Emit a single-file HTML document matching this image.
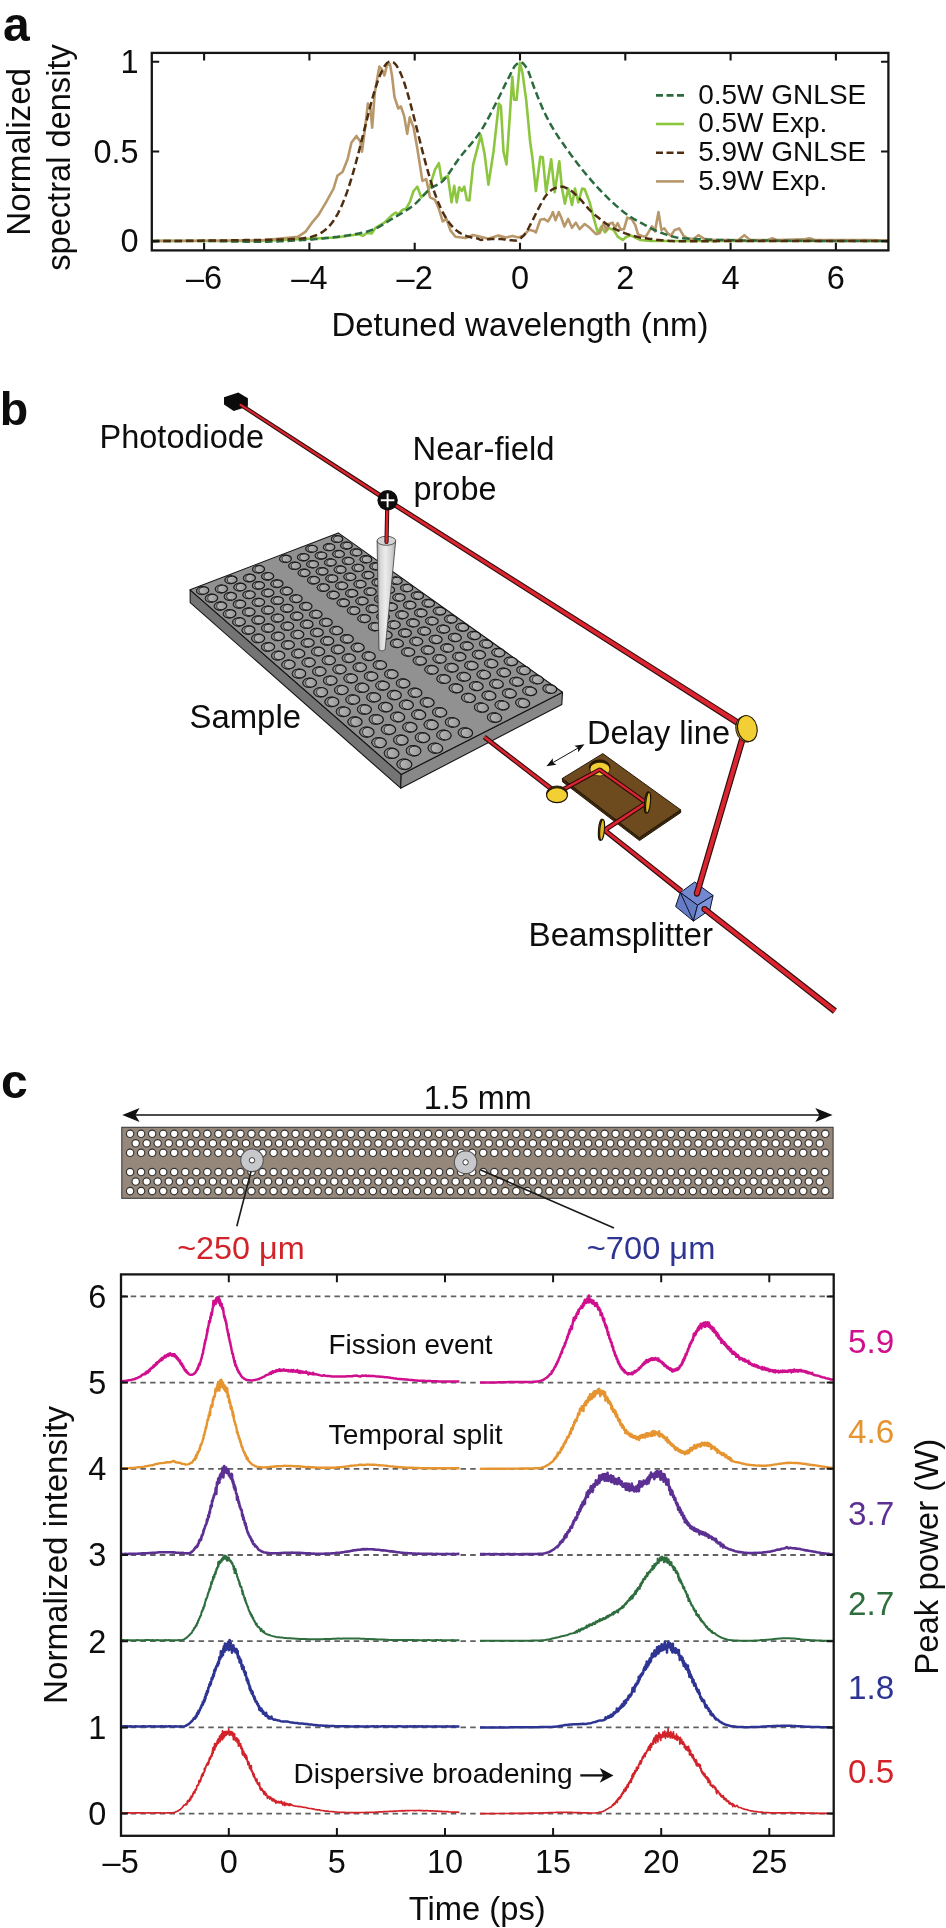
<!DOCTYPE html>
<html lang="en">
<head>
<meta charset="utf-8">
<title>Figure</title>
<style>
html,body{margin:0;padding:0;background:#fff;}
body{width:946px;height:1928px;overflow:hidden;}
svg{display:block;will-change:transform;}
svg text{font-family:"Liberation Sans", sans-serif;}
</style>
</head>
<body>
<svg width="946" height="1928" viewBox="0 0 946 1928">
<rect width="946" height="1928" fill="#fff"/>
<g id="pa">
<g fill="none" stroke-linejoin="round">
<polyline points="152,241 260,241 336.1,237.5 359,234.2 362.8,235.9 366.6,232.9 371.7,233.4 375.5,227.8 384.4,222.7 392,215.1 395.8,212.6 398.3,214.6 402.1,210.1 405.9,208.8 409.7,202.4 413.6,191 417.4,186.7 421.2,197.4 425,193.6 428.8,189.7 435.1,169.4 438.9,163.1 441.5,179.6 447.8,175.8 451.6,202.4 454.2,185.9 456.7,202.4 459.2,187.2 461.8,191 464.3,186.7 466.9,199.9 469.4,200.4 473.2,164.4 480.8,135.2 484.6,154.2 488.4,184.7 493.5,151.7 498.9,103.5 500.9,106 503.5,151.7 506.5,164.4 509.8,116.1 512.3,76.8 514.1,99.6 516.6,99.6 519.9,62.8 522.5,73 526.3,100.9 530.1,141.5 532.6,159.3 535.9,191 540.3,156.8 542.8,157.3 546.1,192.3 551.2,159.3 554.7,192.3 559.3,161.3 561.8,187.2 564.9,203.7 568.2,188.5 572,205 575,188.5 578.3,202.4 582.1,188.5 584.7,189.2 589.7,202.4 593.6,217.7 597.9,232.9 601.2,226.5 605,232.4 608.8,227.8 613.9,230.4 617.7,236.7 622.7,240 626.5,236.7 630.4,235.4 635.4,237.5 640.5,240 650.7,241 680.1,241 888,241" stroke="#8cc63f" stroke-width="2.6"/>
<polyline points="152,240.9 200,240.8 240,240.5 260,240.5 298.1,236.7 305.7,231.6 312,222.7 318.4,215.1 326,202.4 333.6,188.5 337.4,175.8 342.5,172 347.6,159.3 351.4,142.8 356.4,135.9 360.3,141.5 362,151.7 365.3,126.3 367.9,103.5 370.4,108.5 372.2,127.6 374.7,93.3 379.3,66.6 381.8,69.2 384.4,75.5 386.9,65.4 389.9,64.1 392,75.5 394.5,97.1 398.3,108.5 400.9,106.5 404.2,116.1 407.2,133.9 409.7,117.4 413.6,127.6 417.4,149.1 422.4,180.9 426.2,179.1 430.1,197.4 435.1,199.9 438.9,208.8 442.7,221.5 446.5,218.9 450.4,230.4 455.4,236.7 465.4,238 473,234.9 480.6,236.7 488.2,238.7 498.4,235.4 506,237.5 512.3,235.9 518.7,237.5 523.8,235.4 528.8,229.8 533.9,230.9 535.9,232.4 540.3,219.7 544.1,218.9 547.9,221.5 551.7,215.1 552.9,212.1 555.5,220.2 558.8,212.1 561.3,217.7 564.4,226.5 568.2,218.9 572,227.8 575.8,222.7 579.6,229.1 584.7,224 589.7,227.8 596.1,234.2 599.9,232.9 603.7,222.7 606.2,230.4 608.8,224 612.6,222.7 615.1,227.8 617.7,223.2 620.7,229.8 624,229.1 627.3,217.7 631.6,218.9 635.4,225.3 638,234.2 641.8,235.9 645.6,236.7 648.1,232.9 652,226.4 654.9,231.4 658.5,212.1 661.4,229.9 664.4,228.4 667.4,232.9 670.9,235.8 674.7,229.9 679.2,228.4 683.6,235.8 688.1,238.8 694,238.8 698.4,235.2 704.3,238.8 714.7,240 738.4,240 744.3,235.2 750.2,240 768,240 772.4,238.2 776.9,240 803.5,239.4 809.4,238.2 815.3,240 871.6,240 888,240.9" stroke="#b8976b" stroke-width="2.6"/>
<polyline points="152,241.1 153.5,241.1 155,241.1 156.5,241.1 158,241.1 159.5,241.1 161,241.1 162.5,241 164,241 165.5,241 167,241 168.5,241 170,241 171.5,241 173,241 174.5,241 176,241 177.5,241 179,241 180.5,241 182,241 183.5,241 185,241 186.5,241 188,241 189.5,241 191,241 192.5,241 194,241 195.5,241 197,241 198.5,241 200,241 201.5,241 203,241 204.5,241 206,241 207.5,241 209,241 210.5,241.1 212,241.1 213.5,241.1 215,241.1 216.5,241.1 218,241.2 219.5,241.2 221,241.2 222.5,241.2 224,241.3 225.5,241.3 227,241.3 228.5,241.4 230,241.4 231.5,241.4 233,241.4 234.5,241.5 236,241.5 237.5,241.5 239,241.6 240.5,241.6 242,241.6 243.5,241.6 245,241.7 246.5,241.7 248,241.7 249.5,241.7 251,241.7 252.5,241.7 254,241.8 255.5,241.8 257,241.8 258.5,241.8 260,241.8 261.5,241.8 263,241.8 264.5,241.7 266,241.7 267.5,241.7 269,241.7 270.5,241.6 272,241.6 273.5,241.5 275,241.5 276.5,241.4 278,241.4 279.5,241.3 281,241.3 282.5,241.2 284,241.1 285.5,241 287,241 288.5,240.9 290,240.8 291.5,240.7 293,240.6 294.5,240.5 296,240.4 297.5,240.3 299,240.3 300.5,240.2 302,240.1 303.5,240 305,239.9 306.5,239.8 308,239.7 309.5,239.6 311,239.5 312.5,239.4 314,239.3 315.5,239.1 317,239 318.5,238.9 320,238.7 321.5,238.6 323,238.5 324.5,238.3 326,238.1 327.5,238 329,237.8 330.5,237.6 332,237.5 333.5,237.3 335,237.1 336.5,236.9 338,236.7 339.5,236.5 341,236.3 342.5,236.1 344,235.9 345.5,235.7 347,235.5 348.5,235.3 350,235 351.5,234.8 353,234.5 354.5,234.3 356,234 357.5,233.7 359,233.4 360.5,233.1 362,232.8 363.5,232.4 365,232.1 366.5,231.7 368,231.2 369.5,230.8 371,230.3 372.5,229.7 374,229.2 375.5,228.6 377,227.9 378.5,227.1 380,226.3 381.5,225.4 383,224.5 384.5,223.6 386,222.7 387.5,221.7 389,220.8 390.5,219.8 392,218.9 393.5,218 395,217.2 396.5,216.3 398,215.4 399.5,214.5 401,213.7 402.5,212.8 404,211.8 405.5,210.9 407,209.9 408.5,208.9 410,207.9 411.5,206.8 413,205.7 414.5,204.4 416,203.1 417.5,201.6 419,200.1 420.5,198.5 422,196.9 423.5,195.3 425,193.8 426.5,192.3 428,190.8 429.5,189.5 431,188.3 432.5,187.3 434,186.4 435.5,185.7 437,185 438.5,184.3 440,183.4 441.5,182.2 443,180.8 444.5,179.2 446,177.3 447.5,175.4 449,173.2 450.5,171.1 452,168.8 453.5,166.5 455,164.3 456.5,162 458,159.9 459.5,157.8 461,155.9 462.5,154 464,152.2 465.5,150.4 467,148.7 468.5,146.9 470,145.2 471.5,143.4 473,141.6 474.5,139.7 476,137.8 477.5,135.8 479,133.7 480.5,131.5 482,129.2 483.5,126.7 485,124.1 486.5,121.4 488,118.6 489.5,115.8 491,112.9 492.5,109.9 494,107 495.5,104.1 497,101.2 498.5,98.2 500,95.2 501.5,92.1 503,89 504.5,85.9 506,82.9 507.5,80 509,77.2 510.5,74.1 512,71 513.5,68.1 515,65.8 516.5,64.3 518,63.2 519.5,62.3 521,62.1 522.5,62.8 524,64.4 525.5,66.3 527,68.5 528.5,71.7 530,75.8 531.5,80.2 533,84.5 534.5,88.5 536,92.3 537.5,96.2 539,100 540.5,103.6 542,107.1 543.5,110.3 545,113.5 546.5,116.6 548,119.5 549.5,122.4 551,125.1 552.5,127.7 554,130.2 555.5,132.6 557,134.9 558.5,137.2 560,139.4 561.5,141.5 563,143.6 564.5,145.8 566,147.9 567.5,150 569,152.1 570.5,154.2 572,156.2 573.5,158.2 575,160.3 576.5,162.2 578,164.2 579.5,166.1 581,168 582.5,169.9 584,171.8 585.5,173.6 587,175.4 588.5,177.2 590,178.9 591.5,180.7 593,182.4 594.5,184.1 596,185.7 597.5,187.4 599,189 600.5,190.5 602,192.1 603.5,193.7 605,195.2 606.5,196.7 608,198.1 609.5,199.6 611,201 612.5,202.4 614,203.7 615.5,205.1 617,206.4 618.5,207.7 620,209 621.5,210.3 623,211.5 624.5,212.7 626,213.8 627.5,214.9 629,215.9 630.5,216.9 632,217.8 633.5,218.7 635,219.6 636.5,220.5 638,221.3 639.5,222.1 641,222.9 642.5,223.7 644,224.5 645.5,225.3 647,226.2 648.5,227 650,227.8 651.5,228.6 653,229.3 654.5,230 656,230.7 657.5,231.3 659,231.9 660.5,232.5 662,233 663.5,233.6 665,234.1 666.5,234.7 668,235.2 669.5,235.7 671,236.1 672.5,236.5 674,236.9 675.5,237.3 677,237.6 678.5,237.8 680,238 681.5,238.1 683,238.2 684.5,238.4 686,238.5 687.5,238.6 689,238.7 690.5,238.8 692,238.9 693.5,239 695,239.1 696.5,239.2 698,239.3 699.5,239.3 701,239.4 702.5,239.5 704,239.5 705.5,239.6 707,239.7 708.5,239.7 710,239.8 711.5,239.8 713,239.8 714.5,239.9 716,239.9 717.5,240 719,240 720.5,240 722,240 723.5,240.1 725,240.1 726.5,240.1 728,240.1 729.5,240.2 731,240.2 732.5,240.2 734,240.2 735.5,240.3 737,240.3 738.5,240.3 740,240.3 741.5,240.3 743,240.4 744.5,240.4 746,240.4 747.5,240.4 749,240.4 750.5,240.4 752,240.5 753.5,240.5 755,240.5 756.5,240.5 758,240.5 759.5,240.5 761,240.6 762.5,240.6 764,240.6 765.5,240.6 767,240.6 768.5,240.6 770,240.6 771.5,240.6 773,240.7 774.5,240.7 776,240.7 777.5,240.7 779,240.7 780.5,240.7 782,240.7 783.5,240.7 785,240.7 786.5,240.7 788,240.7 789.5,240.8 791,240.8 792.5,240.8 794,240.8 795.5,240.8 797,240.8 798.5,240.8 800,240.8 801.5,240.8 803,240.8 804.5,240.8 806,240.8 807.5,240.8 809,240.8 810.5,240.8 812,240.8 813.5,240.8 815,240.9 816.5,240.9 818,240.9 819.5,240.9 821,240.9 822.5,240.9 824,240.9 825.5,240.9 827,240.9 828.5,240.9 830,240.9 831.5,240.9 833,240.9 834.5,240.9 836,240.9 837.5,240.9 839,240.9 840.5,240.9 842,240.9 843.5,240.9 845,240.9 846.5,240.9 848,241 849.5,241 851,241 852.5,241 854,241 855.5,241 857,241 858.5,241 860,241 861.5,241 863,241 864.5,241 866,241 867.5,241 869,241 870.5,241 872,241 873.5,241 875,241 876.5,241 878,241 879.5,241 881,241 882.5,241 884,241 885.5,241 887,241 888,241" stroke="#2c6b3f" stroke-width="2.5" stroke-dasharray="7.5 3.8"/>
<polyline points="152,241.2 153.5,241.2 155,241.2 156.5,241.1 158,241.1 159.5,241.1 161,241.1 162.5,241.1 164,241.1 165.5,241 167,241 168.5,241 170,241 171.5,241 173,241 174.5,240.9 176,240.9 177.5,240.9 179,240.9 180.5,240.9 182,240.9 183.5,240.9 185,240.8 186.5,240.8 188,240.8 189.5,240.8 191,240.8 192.5,240.8 194,240.7 195.5,240.7 197,240.7 198.5,240.7 200,240.7 201.5,240.7 203,240.6 204.5,240.6 206,240.6 207.5,240.6 209,240.6 210.5,240.6 212,240.5 213.5,240.5 215,240.5 216.5,240.5 218,240.5 219.5,240.4 221,240.4 222.5,240.4 224,240.4 225.5,240.4 227,240.4 228.5,240.3 230,240.3 231.5,240.3 233,240.3 234.5,240.3 236,240.3 237.5,240.2 239,240.2 240.5,240.2 242,240.2 243.5,240.2 245,240.1 246.5,240.1 248,240.1 249.5,240.1 251,240 252.5,240 254,240 255.5,240 257,240 258.5,239.9 260,239.9 261.5,239.9 263,239.8 264.5,239.8 266,239.8 267.5,239.8 269,239.7 270.5,239.7 272,239.7 273.5,239.6 275,239.6 276.5,239.6 278,239.5 279.5,239.5 281,239.4 282.5,239.4 284,239.3 285.5,239.3 287,239.3 288.5,239.2 290,239.2 291.5,239.1 293,239.1 294.5,239 296,238.9 297.5,238.8 299,238.7 300.5,238.6 302,238.4 303.5,238.2 305,238 306.5,237.8 308,237.5 309.5,237.2 311,236.9 312.5,236.5 314,236 315.5,235.5 317,234.9 318.5,234.2 320,233.5 321.5,232.6 323,231.6 324.5,230.5 326,229.3 327.5,227.9 329,226.4 330.5,224.7 332,222.8 333.5,220.7 335,218.4 336.5,216 338,213.3 339.5,210.3 341,207.2 342.5,203.8 344,200.1 345.5,196.2 347,192.1 348.5,187.7 350,183 351.5,178.2 353,173.1 354.5,167.8 356,162.4 357.5,156.7 359,151 360.5,145.1 362,139.1 363.5,133.1 365,127.1 366.5,121.1 368,115.2 369.5,109.3 371,103.7 372.5,98.2 374,92.9 375.5,88 377,83.3 378.5,79 380,75.2 381.5,71.7 383,68.7 384.5,66.2 386,64.2 387.5,62.7 389,61.8 390.5,61.5 392,61.7 393.5,62.4 395,63.7 396.5,65.6 398,67.9 399.5,70.8 401,74.1 402.5,77.9 404,82 405.5,86.6 407,91.5 408.5,96.6 410,102.1 411.5,107.7 413,113.5 414.5,119.4 416,125.4 417.5,131.4 419,137.5 420.5,143.4 422,149.4 423.5,155.2 425,160.9 426.5,166.4 428,171.7 429.5,176.9 431,181.8 432.5,186.5 434,191 435.5,195.3 437,199.2 438.5,203 440,206.5 441.5,209.7 443,212.7 444.5,215.5 446,218 447.5,220.4 449,222.5 450.5,224.4 452,226.2 453.5,227.8 455,229.2 456.5,230.5 458,231.6 459.5,232.6 461,233.5 462.5,234.3 464,235 465.5,235.6 467,236.2 468.5,236.7 470,237.1 471.5,237.4 473,237.7 474.5,238 476,238.2 477.5,238.4 480.6,240 482.1,239.8 483.6,239.7 485.1,239.5 486.6,239.4 488.1,239.3 489.6,239.2 491.1,239.1 492.6,239.1 494.1,239 495.6,239 497.1,239 498.6,239 500.1,239 501.6,239.1 503.1,239.3 504.6,239.4 506.1,239.6 507.6,239.8 509.1,240 510.6,240.2 512.1,240.3 513.6,240.4 515.1,240.5 516.6,240.5 518.1,240 519.6,239.1 521.1,237.9 522.6,236.5 524.1,235.1 525.6,233.2 527.1,230.7 528.6,228 530.1,225.1 531.6,222.3 533.1,219.4 534.6,216.3 536.1,213.2 537.6,210.1 539.1,207.3 540.6,204.5 542.1,201.7 543.6,199.1 545.1,196.7 546.6,194.8 548.1,193.2 549.6,191.7 551.1,190.3 552.6,189.3 554.1,188.5 555.6,188 557.1,187.5 558.6,187.1 560.1,186.8 561.6,186.7 563.1,186.8 564.6,187.3 566.1,187.9 567.6,188.7 569.1,189.6 570.6,190.4 572.1,191.5 573.6,192.8 575.1,194.2 576.6,195.6 578.1,197.1 579.6,198.6 581.1,200.2 582.6,201.9 584.1,203.7 585.6,205.5 587.1,207.2 588.6,208.9 590.1,210.4 591.6,211.8 593.1,213.2 594.6,214.6 596.1,215.9 597.6,217.1 599.1,218.3 600.6,219.5 602.1,220.7 603.6,221.8 605.1,222.9 606.6,224 608.1,225.1 609.6,226.1 611.1,227 612.6,227.8 614.1,228.6 615.6,229.3 617.1,230 618.6,230.7 620.1,231.4 621.6,232 623.1,232.5 624.6,233.1 626.1,233.6 627.6,234.1 629.1,234.6 630.6,235 632.1,235.5 633.6,235.9 635.1,236.3 636.6,236.7 638.1,237 639.6,237.4 641.1,237.7 642.6,237.9 644.1,238.1 645.6,238.3 647.1,238.5 648.6,238.7 650.1,238.9 651.6,239.1 653.1,239.3 654.6,239.5 656.1,239.7 657.6,239.9 659.1,240 660.6,240.2 662.1,240.3 663.6,240.5 665.1,240.6 666.6,240.7 668.1,240.8 669.6,240.9 671.1,241 672.6,241.1 674.1,241.2 675.6,241.2 677.1,241.2 678.6,241.3 680.1,241.3 681.6,241.3 683.1,241.3 684.6,241.3 686.1,241.3 687.6,241.3 689.1,241.3 690.6,241.3 692.1,241.3 693.6,241.2 695.1,241.2 696.6,241.2 698.1,241.2 699.6,241.2 701.1,241.2 702.6,241.2 704.1,241.2 705.6,241.2 707.1,241.2 708.6,241.2 710.1,241.2 711.6,241.2 713.1,241.2 714.6,241.2 716.1,241.2 717.6,241.1 719.1,241.1 720.6,241.1 722.1,241.1 723.6,241.1 725.1,241.1 726.6,241.1 728.1,241.1 729.6,241.1 731.1,241.1 732.6,241.1 734.1,241.1 735.6,241.1 737.1,241.1 738.6,241 740.1,241 741.6,241 743.1,241 744.6,241 746.1,241 747.6,241 749.1,241 750.6,241 752.1,241 753.6,241 755.1,241 756.6,241 758.1,241 759.6,241 761.1,241 762.6,241 764.1,241 765.6,241 767.1,241 768.6,241 770.1,241 771.6,241 773.1,241 774.6,241 776.1,241 777.6,241 779.1,241 780.6,241 782.1,241 783.6,241 785.1,241 786.6,241 788.1,241 789.6,241 791.1,241 792.6,241 794.1,241 795.6,241 797.1,241 798.6,241 800.1,241 801.6,241 803.1,241 804.6,241 806.1,241 807.6,241 809.1,241 810.6,241 812.1,241 813.6,241 815.1,241 816.6,241 818.1,241 819.6,241 821.1,241 822.6,241 824.1,241 825.6,241 827.1,241 828.6,241 830.1,241 831.6,241 833.1,241 834.6,241 836.1,241 837.6,241 839.1,241 840.6,241 842.1,241 843.6,241 845.1,241 846.6,241 848.1,241 849.6,241 851.1,241 852.6,241 854.1,241 855.6,241 857.1,241 858.6,241 860.1,241 861.6,241.1 863.1,241.1 864.6,241.1 866.1,241.1 867.6,241.1 869.1,241.1 870.6,241.1 872.1,241.1 873.6,241.1 875.1,241.1 876.6,241.1 878.1,241.1 879.6,241.1 881.1,241.1 882.6,241.1 884.1,241.1 885.6,241.1 887.1,241.1 888,241.1" stroke="#4f2d10" stroke-width="2.5" stroke-dasharray="7.5 3.8"/>
</g>
<g stroke="#151515" stroke-width="2.3" fill="none">
<rect x="151.8" y="52.9" width="736.6" height="197.5"/>
<path d="M204.1 52.9v7.6M204.1 250.4v-7.6M309.4 52.9v7.6M309.4 250.4v-7.6M414.7 52.9v7.6M414.7 250.4v-7.6M520 52.9v7.6M520 250.4v-7.6M625.3 52.9v7.6M625.3 250.4v-7.6M730.6 52.9v7.6M730.6 250.4v-7.6M835.9 52.9v7.6M835.9 250.4v-7.6M151.8 241.2h7.4M888.4 241.2h-7.4M151.8 151.5h7.4M888.4 151.5h-7.4M151.8 61.8h7.4M888.4 61.8h-7.4" stroke-width="2.1"/>
</g>
<text x="204.1" y="288.8" font-size="32.5" fill="#0d0d0d" text-anchor="middle">–6</text>
<text x="309.4" y="288.8" font-size="32.5" fill="#0d0d0d" text-anchor="middle">–4</text>
<text x="414.7" y="288.8" font-size="32.5" fill="#0d0d0d" text-anchor="middle">–2</text>
<text x="520" y="288.8" font-size="32.5" fill="#0d0d0d" text-anchor="middle">0</text>
<text x="625.3" y="288.8" font-size="32.5" fill="#0d0d0d" text-anchor="middle">2</text>
<text x="730.6" y="288.8" font-size="32.5" fill="#0d0d0d" text-anchor="middle">4</text>
<text x="835.9" y="288.8" font-size="32.5" fill="#0d0d0d" text-anchor="middle">6</text>
<text x="138.7" y="252.3" font-size="32.5" fill="#0d0d0d" text-anchor="end">0</text>
<text x="138.7" y="162.6" font-size="32.5" fill="#0d0d0d" text-anchor="end">0.5</text>
<text x="138.7" y="72.9" font-size="32.5" fill="#0d0d0d" text-anchor="end">1</text>
<text x="520" y="336" font-size="32.5" fill="#0d0d0d" text-anchor="middle" textLength="377" lengthAdjust="spacingAndGlyphs">Detuned wavelength (nm)</text>
<text x="30" y="151.8" font-size="33.2" fill="#0d0d0d" text-anchor="middle" transform="rotate(-90 30 151.8)" textLength="167.7" lengthAdjust="spacingAndGlyphs">Normalized</text>
<text x="69.5" y="157.5" font-size="32.3" fill="#0d0d0d" text-anchor="middle" transform="rotate(-90 69.5 157.5)" textLength="226.5" lengthAdjust="spacingAndGlyphs">spectral density</text>
<path d="M656 95.4H684" stroke="#2c6b3f" stroke-width="2.6" stroke-dasharray="7 3.5"/>
<text x="698.2" y="103.6" font-size="28" fill="#0d0d0d">0.5W GNLSE</text>
<path d="M656 124H684" stroke="#8cc63f" stroke-width="2.6"/>
<text x="698.2" y="132.2" font-size="28" fill="#0d0d0d">0.5W Exp.</text>
<path d="M656 152.7H684" stroke="#4f2d10" stroke-width="2.6" stroke-dasharray="7 3.5"/>
<text x="698.2" y="160.9" font-size="28" fill="#0d0d0d">5.9W GNLSE</text>
<path d="M656 181.4H684" stroke="#b8976b" stroke-width="2.6"/>
<text x="698.2" y="189.6" font-size="28" fill="#0d0d0d">5.9W Exp.</text>
<text x="3" y="40.5" font-size="48" fill="#0d0d0d" font-weight="bold">a</text>
</g>
<g id="pb">
<defs>
<linearGradient id="hg" x1="0" y1="0" x2="1" y2="0"><stop offset="0.2" stop-color="#b6b6b6"/><stop offset="0.6" stop-color="#a7a7a7"/><stop offset="1" stop-color="#929292"/></linearGradient>
<linearGradient id="pg" x1="0" y1="0" x2="1" y2="0"><stop offset="0" stop-color="#a9a9a9"/><stop offset="0.18" stop-color="#d6d6d6"/><stop offset="0.45" stop-color="#ececec"/><stop offset="0.8" stop-color="#cfcfcf"/><stop offset="1" stop-color="#a5a5a5"/></linearGradient>
<g id="hl"><circle r="1" fill="url(#hg)" stroke="#161616" stroke-width="1.2" vector-effect="non-scaling-stroke"/><path d="M0.2 -0.98A1 1 0 1 0 0.2 0.98A1 1 0 0 1 0.2 -0.98Z" fill="#8d8d8d" stroke="#161616" stroke-width="0.8" vector-effect="non-scaling-stroke" stroke-linejoin="round"/></g>
</defs>
<g stroke="#141414" stroke-width="1.1" stroke-linejoin="round">
<polygon points="190.1,589.8 401.2,774.4 400.7,788.2 190.2,602.6" fill="#747474"/>
<polygon points="401.2,774.4 562.5,692.3 561.8,704.4 400.7,788.2" fill="#888888"/>
<polygon points="190.1,589.8 338.3,532.9 562.5,692.3 401.2,774.4" fill="#919191"/>
</g>
<use href="#hl" transform="matrix(6.13 -0.43 0.27 3.92 202.7 590.6)"/>
<use href="#hl" transform="matrix(6.18 -0.41 0.26 3.98 211.5 598.2)"/>
<use href="#hl" transform="matrix(6.24 -0.39 0.25 4.04 220.5 606.0)"/>
<use href="#hl" transform="matrix(6.29 -0.37 0.24 4.10 229.6 613.8)"/>
<use href="#hl" transform="matrix(6.35 -0.34 0.23 4.16 239.0 621.9)"/>
<use href="#hl" transform="matrix(6.41 -0.32 0.21 4.22 248.5 630.1)"/>
<use href="#hl" transform="matrix(6.47 -0.29 0.19 4.28 258.2 638.4)"/>
<use href="#hl" transform="matrix(6.54 -0.26 0.17 4.34 268.1 646.9)"/>
<use href="#hl" transform="matrix(6.60 -0.22 0.15 4.41 278.2 655.6)"/>
<use href="#hl" transform="matrix(6.67 -0.18 0.12 4.48 288.5 664.5)"/>
<use href="#hl" transform="matrix(6.74 -0.14 0.10 4.55 299.0 673.6)"/>
<use href="#hl" transform="matrix(6.81 -0.10 0.07 4.61 309.7 682.8)"/>
<use href="#hl" transform="matrix(6.88 -0.05 0.03 4.69 320.7 692.2)"/>
<use href="#hl" transform="matrix(6.95 0.01 -0.01 4.76 331.9 701.9)"/>
<use href="#hl" transform="matrix(7.02 0.07 -0.05 4.83 343.3 711.7)"/>
<use href="#hl" transform="matrix(7.10 0.14 -0.09 4.91 355.0 721.8)"/>
<use href="#hl" transform="matrix(7.18 0.21 -0.15 4.98 366.9 732.1)"/>
<use href="#hl" transform="matrix(7.26 0.29 -0.20 5.06 379.1 742.6)"/>
<use href="#hl" transform="matrix(7.34 0.38 -0.26 5.14 391.6 753.3)"/>
<use href="#hl" transform="matrix(7.43 0.47 -0.33 5.21 404.4 764.3)"/>
<use href="#hl" transform="matrix(6.11 -0.36 0.23 3.90 221.4 588.9)"/>
<use href="#hl" transform="matrix(6.16 -0.34 0.22 3.96 230.4 596.4)"/>
<use href="#hl" transform="matrix(6.22 -0.32 0.21 4.02 239.5 604.1)"/>
<use href="#hl" transform="matrix(6.27 -0.30 0.19 4.07 248.8 612.0)"/>
<use href="#hl" transform="matrix(6.33 -0.27 0.18 4.13 258.3 620.0)"/>
<use href="#hl" transform="matrix(6.39 -0.24 0.16 4.19 268.0 628.1)"/>
<use href="#hl" transform="matrix(6.46 -0.21 0.14 4.25 277.9 636.4)"/>
<use href="#hl" transform="matrix(6.52 -0.17 0.12 4.32 287.9 644.9)"/>
<use href="#hl" transform="matrix(6.58 -0.14 0.09 4.38 298.2 653.6)"/>
<use href="#hl" transform="matrix(6.65 -0.09 0.06 4.45 308.7 662.4)"/>
<use href="#hl" transform="matrix(6.72 -0.05 0.03 4.51 319.4 671.4)"/>
<use href="#hl" transform="matrix(6.79 0.00 -0.00 4.58 330.3 680.6)"/>
<use href="#hl" transform="matrix(6.86 0.06 -0.04 4.65 341.4 690.0)"/>
<use href="#hl" transform="matrix(6.93 0.12 -0.08 4.72 352.8 699.6)"/>
<use href="#hl" transform="matrix(7.01 0.18 -0.12 4.79 364.4 709.4)"/>
<use href="#hl" transform="matrix(7.08 0.25 -0.17 4.86 376.3 719.4)"/>
<use href="#hl" transform="matrix(7.16 0.33 -0.23 4.93 388.5 729.6)"/>
<use href="#hl" transform="matrix(7.24 0.41 -0.29 5.01 400.9 740.1)"/>
<use href="#hl" transform="matrix(7.32 0.51 -0.35 5.08 413.6 750.8)"/>
<use href="#hl" transform="matrix(6.03 -0.32 0.20 3.83 231.0 579.8)"/>
<use href="#hl" transform="matrix(6.09 -0.30 0.19 3.88 240.0 587.1)"/>
<use href="#hl" transform="matrix(6.14 -0.28 0.18 3.94 249.1 594.7)"/>
<use href="#hl" transform="matrix(6.20 -0.25 0.16 3.99 258.4 602.3)"/>
<use href="#hl" transform="matrix(6.26 -0.23 0.15 4.05 267.9 610.1)"/>
<use href="#hl" transform="matrix(6.32 -0.20 0.13 4.11 277.5 618.1)"/>
<use href="#hl" transform="matrix(6.38 -0.16 0.11 4.17 287.4 626.2)"/>
<use href="#hl" transform="matrix(6.44 -0.13 0.08 4.23 297.4 634.5)"/>
<use href="#hl" transform="matrix(6.50 -0.09 0.06 4.29 307.7 642.9)"/>
<use href="#hl" transform="matrix(6.57 -0.05 0.03 4.35 318.1 651.5)"/>
<use href="#hl" transform="matrix(6.63 -0.00 0.00 4.41 328.8 660.3)"/>
<use href="#hl" transform="matrix(6.70 0.04 -0.03 4.48 339.6 669.3)"/>
<use href="#hl" transform="matrix(6.77 0.10 -0.07 4.54 350.7 678.4)"/>
<use href="#hl" transform="matrix(6.84 0.16 -0.11 4.61 362.1 687.8)"/>
<use href="#hl" transform="matrix(6.92 0.22 -0.15 4.68 373.7 697.3)"/>
<use href="#hl" transform="matrix(6.99 0.29 -0.20 4.74 385.5 707.1)"/>
<use href="#hl" transform="matrix(7.07 0.36 -0.25 4.81 397.6 717.0)"/>
<use href="#hl" transform="matrix(7.14 0.45 -0.30 4.88 409.9 727.2)"/>
<use href="#hl" transform="matrix(7.23 0.53 -0.37 4.95 422.5 737.6)"/>
<use href="#hl" transform="matrix(7.31 0.63 -0.43 5.02 435.4 748.2)"/>
<use href="#hl" transform="matrix(6.02 -0.26 0.16 3.81 249.4 578.0)"/>
<use href="#hl" transform="matrix(6.07 -0.24 0.15 3.86 258.5 585.4)"/>
<use href="#hl" transform="matrix(6.13 -0.21 0.14 3.91 267.8 592.9)"/>
<use href="#hl" transform="matrix(6.18 -0.18 0.12 3.97 277.3 600.5)"/>
<use href="#hl" transform="matrix(6.24 -0.16 0.10 4.02 286.9 608.3)"/>
<use href="#hl" transform="matrix(6.30 -0.12 0.08 4.08 296.7 616.2)"/>
<use href="#hl" transform="matrix(6.36 -0.09 0.06 4.14 306.7 624.3)"/>
<use href="#hl" transform="matrix(6.42 -0.05 0.03 4.20 316.9 632.5)"/>
<use href="#hl" transform="matrix(6.49 -0.01 0.01 4.26 327.3 640.9)"/>
<use href="#hl" transform="matrix(6.55 0.03 -0.02 4.32 337.9 649.5)"/>
<use href="#hl" transform="matrix(6.62 0.08 -0.05 4.38 348.8 658.2)"/>
<use href="#hl" transform="matrix(6.69 0.14 -0.09 4.44 359.8 667.2)"/>
<use href="#hl" transform="matrix(6.75 0.19 -0.13 4.50 371.1 676.3)"/>
<use href="#hl" transform="matrix(6.83 0.25 -0.17 4.57 382.6 685.6)"/>
<use href="#hl" transform="matrix(6.90 0.32 -0.22 4.63 394.4 695.1)"/>
<use href="#hl" transform="matrix(6.97 0.39 -0.26 4.70 406.4 704.8)"/>
<use href="#hl" transform="matrix(7.05 0.47 -0.32 4.76 418.7 714.7)"/>
<use href="#hl" transform="matrix(7.13 0.56 -0.38 4.83 431.2 724.8)"/>
<use href="#hl" transform="matrix(7.21 0.65 -0.44 4.90 444.0 735.1)"/>
<use href="#hl" transform="matrix(5.95 -0.22 0.14 3.74 258.6 569.2)"/>
<use href="#hl" transform="matrix(6.00 -0.20 0.13 3.79 267.7 576.3)"/>
<use href="#hl" transform="matrix(6.05 -0.17 0.11 3.84 277.0 583.7)"/>
<use href="#hl" transform="matrix(6.11 -0.15 0.09 3.89 286.4 591.1)"/>
<use href="#hl" transform="matrix(6.17 -0.12 0.08 3.94 296.0 598.7)"/>
<use href="#hl" transform="matrix(6.22 -0.09 0.06 4.00 305.8 606.4)"/>
<use href="#hl" transform="matrix(6.28 -0.05 0.03 4.05 315.8 614.3)"/>
<use href="#hl" transform="matrix(6.34 -0.01 0.01 4.11 325.9 622.4)"/>
<use href="#hl" transform="matrix(6.41 0.03 -0.02 4.16 336.3 630.6)"/>
<use href="#hl" transform="matrix(6.47 0.07 -0.05 4.22 346.9 638.9)"/>
<use href="#hl" transform="matrix(6.54 0.12 -0.08 4.28 357.7 647.5)"/>
<use href="#hl" transform="matrix(6.60 0.17 -0.11 4.34 368.7 656.2)"/>
<use href="#hl" transform="matrix(6.67 0.22 -0.15 4.40 379.9 665.0)"/>
<use href="#hl" transform="matrix(6.74 0.28 -0.19 4.46 391.4 674.1)"/>
<use href="#hl" transform="matrix(6.81 0.35 -0.23 4.52 403.1 683.4)"/>
<use href="#hl" transform="matrix(6.88 0.42 -0.28 4.59 415.0 692.8)"/>
<use href="#hl" transform="matrix(6.96 0.49 -0.33 4.65 427.2 702.4)"/>
<use href="#hl" transform="matrix(7.04 0.58 -0.39 4.71 439.7 712.3)"/>
<use href="#hl" transform="matrix(7.11 0.66 -0.44 4.77 452.4 722.4)"/>
<use href="#hl" transform="matrix(7.19 0.76 -0.51 4.84 465.4 732.7)"/>
<use href="#hl" transform="matrix(5.86 -0.13 0.08 3.64 285.5 558.8)"/>
<use href="#hl" transform="matrix(5.92 -0.11 0.07 3.69 294.7 565.8)"/>
<use href="#hl" transform="matrix(5.97 -0.08 0.05 3.74 304.1 572.9)"/>
<use href="#hl" transform="matrix(6.02 -0.05 0.03 3.79 313.6 580.2)"/>
<use href="#hl" transform="matrix(6.08 -0.02 0.01 3.84 323.3 587.6)"/>
<use href="#hl" transform="matrix(6.14 0.01 -0.01 3.89 333.2 595.1)"/>
<use href="#hl" transform="matrix(6.19 0.05 -0.03 3.94 343.3 602.8)"/>
<use href="#hl" transform="matrix(6.25 0.09 -0.06 3.99 353.6 610.6)"/>
<use href="#hl" transform="matrix(6.32 0.13 -0.08 4.04 364.1 618.6)"/>
<use href="#hl" transform="matrix(6.38 0.18 -0.11 4.10 374.8 626.7)"/>
<use href="#hl" transform="matrix(6.44 0.22 -0.14 4.15 385.7 635.0)"/>
<use href="#hl" transform="matrix(6.51 0.28 -0.18 4.21 396.9 643.4)"/>
<use href="#hl" transform="matrix(6.57 0.33 -0.22 4.26 408.2 652.0)"/>
<use href="#hl" transform="matrix(6.64 0.39 -0.26 4.32 419.8 660.8)"/>
<use href="#hl" transform="matrix(6.71 0.46 -0.30 4.37 431.6 669.8)"/>
<use href="#hl" transform="matrix(6.79 0.53 -0.35 4.43 443.7 679.0)"/>
<use href="#hl" transform="matrix(6.86 0.60 -0.40 4.49 456.0 688.3)"/>
<use href="#hl" transform="matrix(6.93 0.68 -0.45 4.55 468.5 697.9)"/>
<use href="#hl" transform="matrix(7.01 0.77 -0.51 4.60 481.4 707.6)"/>
<use href="#hl" transform="matrix(7.09 0.86 -0.57 4.66 494.5 717.6)"/>
<use href="#hl" transform="matrix(5.85 -0.08 0.05 3.62 303.3 557.2)"/>
<use href="#hl" transform="matrix(5.90 -0.05 0.03 3.67 312.6 564.2)"/>
<use href="#hl" transform="matrix(5.96 -0.02 0.01 3.71 322.1 571.3)"/>
<use href="#hl" transform="matrix(6.01 0.01 -0.01 3.76 331.8 578.5)"/>
<use href="#hl" transform="matrix(6.07 0.04 -0.03 3.81 341.7 585.8)"/>
<use href="#hl" transform="matrix(6.12 0.08 -0.05 3.86 351.7 593.3)"/>
<use href="#hl" transform="matrix(6.18 0.12 -0.07 3.91 362.0 601.0)"/>
<use href="#hl" transform="matrix(6.24 0.16 -0.10 3.96 372.4 608.8)"/>
<use href="#hl" transform="matrix(6.30 0.20 -0.13 4.01 383.1 616.7)"/>
<use href="#hl" transform="matrix(6.37 0.25 -0.16 4.06 393.9 624.8)"/>
<use href="#hl" transform="matrix(6.43 0.30 -0.19 4.11 405.0 633.0)"/>
<use href="#hl" transform="matrix(6.50 0.35 -0.23 4.17 416.3 641.4)"/>
<use href="#hl" transform="matrix(6.56 0.41 -0.27 4.22 427.8 650.0)"/>
<use href="#hl" transform="matrix(6.63 0.47 -0.31 4.27 439.6 658.8)"/>
<use href="#hl" transform="matrix(6.70 0.54 -0.35 4.33 451.6 667.7)"/>
<use href="#hl" transform="matrix(6.77 0.61 -0.40 4.38 463.8 676.8)"/>
<use href="#hl" transform="matrix(6.85 0.69 -0.45 4.44 476.3 686.1)"/>
<use href="#hl" transform="matrix(6.92 0.77 -0.50 4.49 489.0 695.6)"/>
<use href="#hl" transform="matrix(7.00 0.86 -0.56 4.55 502.1 705.3)"/>
<use href="#hl" transform="matrix(5.78 -0.05 0.03 3.55 311.6 548.8)"/>
<use href="#hl" transform="matrix(5.84 -0.02 0.02 3.60 321.0 555.6)"/>
<use href="#hl" transform="matrix(5.89 0.00 -0.00 3.64 330.4 562.5)"/>
<use href="#hl" transform="matrix(5.94 0.03 -0.02 3.69 340.1 569.6)"/>
<use href="#hl" transform="matrix(6.00 0.07 -0.04 3.73 349.9 576.8)"/>
<use href="#hl" transform="matrix(6.05 0.10 -0.06 3.78 360.0 584.1)"/>
<use href="#hl" transform="matrix(6.11 0.14 -0.09 3.83 370.2 591.6)"/>
<use href="#hl" transform="matrix(6.17 0.18 -0.11 3.88 380.6 599.2)"/>
<use href="#hl" transform="matrix(6.23 0.22 -0.14 3.93 391.2 606.9)"/>
<use href="#hl" transform="matrix(6.29 0.27 -0.17 3.98 402.0 614.8)"/>
<use href="#hl" transform="matrix(6.35 0.32 -0.20 4.03 413.0 622.9)"/>
<use href="#hl" transform="matrix(6.42 0.37 -0.24 4.08 424.2 631.1)"/>
<use href="#hl" transform="matrix(6.48 0.43 -0.27 4.13 435.7 639.4)"/>
<use href="#hl" transform="matrix(6.55 0.49 -0.31 4.18 447.3 648.0)"/>
<use href="#hl" transform="matrix(6.62 0.55 -0.35 4.23 459.3 656.7)"/>
<use href="#hl" transform="matrix(6.69 0.62 -0.40 4.28 471.4 665.6)"/>
<use href="#hl" transform="matrix(6.76 0.70 -0.45 4.33 483.8 674.6)"/>
<use href="#hl" transform="matrix(6.84 0.78 -0.50 4.39 496.5 683.9)"/>
<use href="#hl" transform="matrix(6.91 0.86 -0.55 4.44 509.4 693.4)"/>
<use href="#hl" transform="matrix(6.99 0.95 -0.61 4.49 522.7 703.0)"/>
<use href="#hl" transform="matrix(5.77 -0.00 0.00 3.53 329.1 547.2)"/>
<use href="#hl" transform="matrix(5.82 0.03 -0.02 3.57 338.6 554.0)"/>
<use href="#hl" transform="matrix(5.88 0.06 -0.04 3.61 348.2 560.9)"/>
<use href="#hl" transform="matrix(5.93 0.09 -0.06 3.66 358.0 567.9)"/>
<use href="#hl" transform="matrix(5.98 0.12 -0.08 3.70 368.0 575.1)"/>
<use href="#hl" transform="matrix(6.04 0.16 -0.10 3.75 378.1 582.4)"/>
<use href="#hl" transform="matrix(6.10 0.20 -0.13 3.80 388.5 589.8)"/>
<use href="#hl" transform="matrix(6.16 0.24 -0.15 3.84 399.0 597.4)"/>
<use href="#hl" transform="matrix(6.22 0.29 -0.18 3.89 409.8 605.1)"/>
<use href="#hl" transform="matrix(6.28 0.34 -0.21 3.94 420.8 612.9)"/>
<use href="#hl" transform="matrix(6.34 0.39 -0.24 3.99 431.9 621.0)"/>
<use href="#hl" transform="matrix(6.41 0.44 -0.28 4.04 443.3 629.1)"/>
<use href="#hl" transform="matrix(6.47 0.50 -0.32 4.09 454.9 637.5)"/>
<use href="#hl" transform="matrix(6.54 0.56 -0.36 4.14 466.8 646.0)"/>
<use href="#hl" transform="matrix(6.61 0.63 -0.40 4.18 478.9 654.6)"/>
<use href="#hl" transform="matrix(6.68 0.70 -0.44 4.23 491.2 663.5)"/>
<use href="#hl" transform="matrix(6.75 0.78 -0.49 4.28 503.8 672.5)"/>
<use href="#hl" transform="matrix(6.83 0.86 -0.54 4.33 516.6 681.7)"/>
<use href="#hl" transform="matrix(6.90 0.94 -0.60 4.38 529.7 691.1)"/>
<use href="#hl" transform="matrix(5.71 0.02 -0.01 3.46 337.1 539.0)"/>
<use href="#hl" transform="matrix(5.76 0.05 -0.03 3.50 346.5 545.6)"/>
<use href="#hl" transform="matrix(5.81 0.08 -0.05 3.54 356.1 552.4)"/>
<use href="#hl" transform="matrix(5.86 0.11 -0.07 3.59 365.9 559.3)"/>
<use href="#hl" transform="matrix(5.92 0.15 -0.09 3.63 375.8 566.3)"/>
<use href="#hl" transform="matrix(5.97 0.18 -0.11 3.67 385.9 573.4)"/>
<use href="#hl" transform="matrix(6.03 0.22 -0.14 3.72 396.2 580.7)"/>
<use href="#hl" transform="matrix(6.09 0.26 -0.16 3.76 406.7 588.0)"/>
<use href="#hl" transform="matrix(6.15 0.30 -0.19 3.81 417.4 595.6)"/>
<use href="#hl" transform="matrix(6.21 0.35 -0.22 3.86 428.3 603.3)"/>
<use href="#hl" transform="matrix(6.27 0.40 -0.25 3.90 439.5 611.1)"/>
<use href="#hl" transform="matrix(6.33 0.45 -0.28 3.95 450.8 619.1)"/>
<use href="#hl" transform="matrix(6.40 0.51 -0.32 4.00 462.3 627.2)"/>
<use href="#hl" transform="matrix(6.46 0.57 -0.36 4.04 474.1 635.5)"/>
<use href="#hl" transform="matrix(6.53 0.63 -0.40 4.09 486.1 643.9)"/>
<use href="#hl" transform="matrix(6.60 0.70 -0.44 4.14 498.4 652.6)"/>
<use href="#hl" transform="matrix(6.67 0.77 -0.49 4.19 510.9 661.4)"/>
<use href="#hl" transform="matrix(6.75 0.85 -0.53 4.23 523.6 670.4)"/>
<use href="#hl" transform="matrix(6.82 0.93 -0.59 4.28 536.6 679.5)"/>
<use href="#hl" transform="matrix(6.90 1.02 -0.64 4.33 549.9 688.9)"/>
<g fill="#2b0a0a"><polygon points="482.9,738.9 550,791 553.2,787 485.7,735.1"/></g><g fill="#db2530"><polygon points="483.5,738 550.7,790.2 552.5,787.8 485.1,736"/></g>
<polygon points="224,397.3 238.3,392.6 247.9,398.2 247.9,406.6 233.7,410.9 224,404.5" fill="#0b0b0b"/>
<g fill="#2b0a0a"><polygon points="239.5,406.6 386.3,502.4 388.9,498.2 241.7,403"/><polygon points="386.3,502.4 736.7,726 740.3,720.4 388.9,498.2"/><circle cx="240.6" cy="404.8" r="2.10"/><circle cx="387.6" cy="500.3" r="2.45"/></g><g fill="#db2530"><polygon points="240,405.7 386.9,501.4 388.3,499.2 241.2,403.9"/><polygon points="386.9,501.5 737.3,725.1 739.7,721.3 388.3,499.1"/><circle cx="240.6" cy="404.8" r="1.02"/><circle cx="387.6" cy="500.3" r="1.37"/></g>
<path d="M377.1 540.8L378.9 649.6Q382 652.6 385.1 649.6L395.7 540.8Z" fill="url(#pg)" stroke="#3a3a3a" stroke-width="0.8"/>
<ellipse cx="386.4" cy="540.8" rx="9.3" ry="4.5" fill="#d4d4d4" stroke="#3a3a3a" stroke-width="0.8"/>
<path d="M387.3 505 L386.5 542" fill="none" stroke="#2b0a0a" stroke-width="4.2" stroke-linecap="round" stroke-linejoin="round"/><path d="M387.3 505 L386.5 542" fill="none" stroke="#db2530" stroke-width="2.4" stroke-linecap="round" stroke-linejoin="round"/>
<circle cx="387.6" cy="500.3" r="10.2" fill="#0d0d0d"/>
<path d="M380.8 500.3H394.4M387.6 493.4V507.2" stroke="#fff" stroke-width="1.9" fill="none"/>
<polygon points="562.3,778.4 562.5,781.8 639.5,840.6 680.8,812.5 680.6,809.8 639.3,837.7" fill="#3d2608" stroke="#1c1203" stroke-width="0.9" stroke-linejoin="round"/>
<polygon points="562.3,778.4 602.8,753.6 680.6,809.8 639.3,837.7" fill="#6e4b1e" stroke="#1c1203" stroke-width="0.9" stroke-linejoin="round"/>
<ellipse cx="599.7" cy="767.2" rx="10.4" ry="7.3" fill="#2a1a05" stroke="#1c1203" stroke-width="0.9"/>
<ellipse cx="599.9" cy="769.1" rx="10" ry="6.8" fill="#f2cf33" stroke="#1c1203" stroke-width="0.7"/>
<g fill="#2b0a0a"><polygon points="564.1,791.7 600.8,771.5 598.6,767.7 561.9,787.5"/><polygon points="598.4,771.4 644.9,804.7 647.5,800.9 601,767.8"/><polygon points="644.9,800.9 603.1,828.1 605.9,832.3 647.5,804.7"/><polygon points="602.9,832.2 679.5,893.5 683.1,888.9 606.1,828.2"/><circle cx="599.7" cy="769.6" r="2.20"/><circle cx="646.2" cy="802.8" r="2.30"/><circle cx="604.5" cy="830.2" r="2.50"/></g><g fill="#db2530"><polygon points="563.6,790.8 600.2,770.6 599.2,768.6 562.4,788.4"/><polygon points="599,770.5 645.5,803.8 646.9,801.8 600.4,768.7"/><polygon points="645.5,801.8 603.7,829 605.3,831.4 646.9,803.8"/><polygon points="603.6,831.3 680.2,892.6 682.4,889.8 605.4,829.1"/><circle cx="599.7" cy="769.6" r="1.12"/><circle cx="646.2" cy="802.8" r="1.22"/><circle cx="604.5" cy="830.2" r="1.42"/></g>
<ellipse cx="557" cy="793.4" rx="10.4" ry="7.4" fill="#4a3808" stroke="#1c1203" stroke-width="0.9"/>
<ellipse cx="557" cy="795.2" rx="10.4" ry="7.4" fill="#f2cf33" stroke="#1c1203" stroke-width="1.1"/>
<ellipse cx="647.1" cy="802.6" rx="2.6" ry="10.7" transform="rotate(6 647.6 802.6)" fill="#8c6f10" stroke="#1c1203" stroke-width="1.1"/>
<ellipse cx="648.1" cy="802.6" rx="2.3" ry="10.4" transform="rotate(6 647.6 802.6)" fill="#dcb826" stroke="#1c1203" stroke-width="1.1"/>
<ellipse cx="601.1" cy="829.8" rx="2.6" ry="10.7" transform="rotate(5 601.6 829.8)" fill="#8c6f10" stroke="#1c1203" stroke-width="1.1"/>
<ellipse cx="602.1" cy="829.8" rx="2.3" ry="10.4" transform="rotate(5 601.6 829.8)" fill="#dcb826" stroke="#1c1203" stroke-width="1.1"/>
<path d="M552 763.1L579 747.5" stroke="#111" stroke-width="1" fill="none"/>
<polygon points="546.4,766.3 552.8,758.3 552.9,762.5 556.5,764.8" fill="#111"/>
<polygon points="584.5,744.3 578.1,752.3 578.0,748.1 574.4,745.8" fill="#111"/>
<g stroke="#0c1230" stroke-width="1" stroke-linejoin="round">
<polygon points="694.7,882 713.1,895.5 697.6,905.2 680.3,892.6" fill="#7389cf"/>
<polygon points="680.3,892.6 697.6,905.2 693.4,921.1 675.6,906.5" fill="#657cc4"/>
<polygon points="697.6,905.2 713.1,895.5 709.9,909.9 693.4,921.1" fill="#7b93d8"/>
<path d="M680.3 892.6L693.4 921.1" fill="none"/>
</g>
<g fill="#2b0a0a"><polygon points="739.2,738.1 693.9,892.7 699.9,894.5 745.6,739.9"/><circle cx="696.9" cy="893.6" r="3.10"/></g><g fill="#db2530"><polygon points="740.3,738.4 695,893 698.8,894.2 744.5,739.6"/><circle cx="696.9" cy="893.6" r="2.02"/></g>
<g fill="#2b0a0a"><polygon points="702.6,911.4 832.9,1013.7 836.9,1008.5 706.2,906.6"/><circle cx="704.4" cy="909" r="3.00"/></g><g fill="#db2530"><polygon points="703.2,910.5 833.6,1012.8 836.2,1009.4 705.6,907.5"/><circle cx="704.4" cy="909" r="1.92"/></g>
<ellipse cx="745.6" cy="729.2" rx="9.7" ry="13.1" transform="rotate(-13 745.6 729.2)" fill="#b9961c" stroke="#1c1203" stroke-width="0.9"/>
<ellipse cx="747.4" cy="728.5" rx="9.7" ry="13.1" transform="rotate(-13 747.4 728.5)" fill="#f2cf33" stroke="#1c1203" stroke-width="1.1"/>
<text x="-0.3" y="424.9" font-size="46.5" fill="#0d0d0d" font-weight="bold">b</text>
<text x="99.5" y="447.8" font-size="32.5" fill="#0d0d0d" textLength="164.5" lengthAdjust="spacingAndGlyphs">Photodiode</text>
<text x="412.5" y="460" font-size="32.5" fill="#0d0d0d" textLength="142" lengthAdjust="spacingAndGlyphs">Near-field</text>
<text x="413.5" y="500" font-size="32.5" fill="#0d0d0d" textLength="83" lengthAdjust="spacingAndGlyphs">probe</text>
<text x="189.5" y="728.3" font-size="32.5" fill="#0d0d0d" textLength="111.5" lengthAdjust="spacingAndGlyphs">Sample</text>
<text x="587" y="743.6" font-size="32.5" fill="#0d0d0d" textLength="143" lengthAdjust="spacingAndGlyphs">Delay line</text>
<text x="528.5" y="945.9" font-size="32.5" fill="#0d0d0d" textLength="184.5" lengthAdjust="spacingAndGlyphs">Beamsplitter</text>
</g>
<g id="pc">
<text x="0.9" y="1098.1" font-size="48" fill="#0d0d0d" font-weight="bold">c</text>
<rect x="121.8" y="1127.3" width="711.3" height="71" fill="#95877a" stroke="#3c3c3c" stroke-width="1.1"/>
<g fill="#fff" stroke="#303030" stroke-width="1.15"><circle cx="130.1" cy="1133.8" r="3.7"/><circle cx="141.1" cy="1133.8" r="3.7"/><circle cx="152.2" cy="1133.8" r="3.7"/><circle cx="163.2" cy="1133.8" r="3.7"/><circle cx="174.2" cy="1133.8" r="3.7"/><circle cx="185.3" cy="1133.8" r="3.7"/><circle cx="196.3" cy="1133.8" r="3.7"/><circle cx="207.3" cy="1133.8" r="3.7"/><circle cx="218.4" cy="1133.8" r="3.7"/><circle cx="229.4" cy="1133.8" r="3.7"/><circle cx="240.4" cy="1133.8" r="3.7"/><circle cx="251.5" cy="1133.8" r="3.7"/><circle cx="262.5" cy="1133.8" r="3.7"/><circle cx="273.6" cy="1133.8" r="3.7"/><circle cx="284.6" cy="1133.8" r="3.7"/><circle cx="295.6" cy="1133.8" r="3.7"/><circle cx="306.7" cy="1133.8" r="3.7"/><circle cx="317.7" cy="1133.8" r="3.7"/><circle cx="328.7" cy="1133.8" r="3.7"/><circle cx="339.8" cy="1133.8" r="3.7"/><circle cx="350.8" cy="1133.8" r="3.7"/><circle cx="361.8" cy="1133.8" r="3.7"/><circle cx="372.9" cy="1133.8" r="3.7"/><circle cx="383.9" cy="1133.8" r="3.7"/><circle cx="394.9" cy="1133.8" r="3.7"/><circle cx="406" cy="1133.8" r="3.7"/><circle cx="417" cy="1133.8" r="3.7"/><circle cx="428" cy="1133.8" r="3.7"/><circle cx="439.1" cy="1133.8" r="3.7"/><circle cx="450.1" cy="1133.8" r="3.7"/><circle cx="461.1" cy="1133.8" r="3.7"/><circle cx="472.2" cy="1133.8" r="3.7"/><circle cx="483.2" cy="1133.8" r="3.7"/><circle cx="494.3" cy="1133.8" r="3.7"/><circle cx="505.3" cy="1133.8" r="3.7"/><circle cx="516.3" cy="1133.8" r="3.7"/><circle cx="527.4" cy="1133.8" r="3.7"/><circle cx="538.4" cy="1133.8" r="3.7"/><circle cx="549.4" cy="1133.8" r="3.7"/><circle cx="560.5" cy="1133.8" r="3.7"/><circle cx="571.5" cy="1133.8" r="3.7"/><circle cx="582.5" cy="1133.8" r="3.7"/><circle cx="593.6" cy="1133.8" r="3.7"/><circle cx="604.6" cy="1133.8" r="3.7"/><circle cx="615.6" cy="1133.8" r="3.7"/><circle cx="626.7" cy="1133.8" r="3.7"/><circle cx="637.7" cy="1133.8" r="3.7"/><circle cx="648.7" cy="1133.8" r="3.7"/><circle cx="659.8" cy="1133.8" r="3.7"/><circle cx="670.8" cy="1133.8" r="3.7"/><circle cx="681.9" cy="1133.8" r="3.7"/><circle cx="692.9" cy="1133.8" r="3.7"/><circle cx="703.9" cy="1133.8" r="3.7"/><circle cx="715" cy="1133.8" r="3.7"/><circle cx="726" cy="1133.8" r="3.7"/><circle cx="737" cy="1133.8" r="3.7"/><circle cx="748.1" cy="1133.8" r="3.7"/><circle cx="759.1" cy="1133.8" r="3.7"/><circle cx="770.1" cy="1133.8" r="3.7"/><circle cx="781.2" cy="1133.8" r="3.7"/><circle cx="792.2" cy="1133.8" r="3.7"/><circle cx="803.2" cy="1133.8" r="3.7"/><circle cx="814.3" cy="1133.8" r="3.7"/><circle cx="825.3" cy="1133.8" r="3.7"/><circle cx="135.7" cy="1143.3" r="3.7"/><circle cx="146.7" cy="1143.3" r="3.7"/><circle cx="157.7" cy="1143.3" r="3.7"/><circle cx="168.8" cy="1143.3" r="3.7"/><circle cx="179.8" cy="1143.3" r="3.7"/><circle cx="190.8" cy="1143.3" r="3.7"/><circle cx="201.9" cy="1143.3" r="3.7"/><circle cx="212.9" cy="1143.3" r="3.7"/><circle cx="223.9" cy="1143.3" r="3.7"/><circle cx="235" cy="1143.3" r="3.7"/><circle cx="246" cy="1143.3" r="3.7"/><circle cx="257" cy="1143.3" r="3.7"/><circle cx="268.1" cy="1143.3" r="3.7"/><circle cx="279.1" cy="1143.3" r="3.7"/><circle cx="290.1" cy="1143.3" r="3.7"/><circle cx="301.2" cy="1143.3" r="3.7"/><circle cx="312.2" cy="1143.3" r="3.7"/><circle cx="323.2" cy="1143.3" r="3.7"/><circle cx="334.3" cy="1143.3" r="3.7"/><circle cx="345.3" cy="1143.3" r="3.7"/><circle cx="356.4" cy="1143.3" r="3.7"/><circle cx="367.4" cy="1143.3" r="3.7"/><circle cx="378.4" cy="1143.3" r="3.7"/><circle cx="389.5" cy="1143.3" r="3.7"/><circle cx="400.5" cy="1143.3" r="3.7"/><circle cx="411.5" cy="1143.3" r="3.7"/><circle cx="422.6" cy="1143.3" r="3.7"/><circle cx="433.6" cy="1143.3" r="3.7"/><circle cx="444.6" cy="1143.3" r="3.7"/><circle cx="455.7" cy="1143.3" r="3.7"/><circle cx="466.7" cy="1143.3" r="3.7"/><circle cx="477.7" cy="1143.3" r="3.7"/><circle cx="488.8" cy="1143.3" r="3.7"/><circle cx="499.8" cy="1143.3" r="3.7"/><circle cx="510.8" cy="1143.3" r="3.7"/><circle cx="521.9" cy="1143.3" r="3.7"/><circle cx="532.9" cy="1143.3" r="3.7"/><circle cx="543.9" cy="1143.3" r="3.7"/><circle cx="555" cy="1143.3" r="3.7"/><circle cx="566" cy="1143.3" r="3.7"/><circle cx="577" cy="1143.3" r="3.7"/><circle cx="588.1" cy="1143.3" r="3.7"/><circle cx="599.1" cy="1143.3" r="3.7"/><circle cx="610.2" cy="1143.3" r="3.7"/><circle cx="621.2" cy="1143.3" r="3.7"/><circle cx="632.2" cy="1143.3" r="3.7"/><circle cx="643.3" cy="1143.3" r="3.7"/><circle cx="654.3" cy="1143.3" r="3.7"/><circle cx="665.3" cy="1143.3" r="3.7"/><circle cx="676.4" cy="1143.3" r="3.7"/><circle cx="687.4" cy="1143.3" r="3.7"/><circle cx="698.4" cy="1143.3" r="3.7"/><circle cx="709.5" cy="1143.3" r="3.7"/><circle cx="720.5" cy="1143.3" r="3.7"/><circle cx="731.5" cy="1143.3" r="3.7"/><circle cx="742.6" cy="1143.3" r="3.7"/><circle cx="753.6" cy="1143.3" r="3.7"/><circle cx="764.6" cy="1143.3" r="3.7"/><circle cx="775.7" cy="1143.3" r="3.7"/><circle cx="786.7" cy="1143.3" r="3.7"/><circle cx="797.8" cy="1143.3" r="3.7"/><circle cx="808.8" cy="1143.3" r="3.7"/><circle cx="819.8" cy="1143.3" r="3.7"/><circle cx="130.1" cy="1152.8" r="3.7"/><circle cx="141.1" cy="1152.8" r="3.7"/><circle cx="152.2" cy="1152.8" r="3.7"/><circle cx="163.2" cy="1152.8" r="3.7"/><circle cx="174.2" cy="1152.8" r="3.7"/><circle cx="185.3" cy="1152.8" r="3.7"/><circle cx="196.3" cy="1152.8" r="3.7"/><circle cx="207.3" cy="1152.8" r="3.7"/><circle cx="218.4" cy="1152.8" r="3.7"/><circle cx="229.4" cy="1152.8" r="3.7"/><circle cx="240.4" cy="1152.8" r="3.7"/><circle cx="251.5" cy="1152.8" r="3.7"/><circle cx="262.5" cy="1152.8" r="3.7"/><circle cx="273.6" cy="1152.8" r="3.7"/><circle cx="284.6" cy="1152.8" r="3.7"/><circle cx="295.6" cy="1152.8" r="3.7"/><circle cx="306.7" cy="1152.8" r="3.7"/><circle cx="317.7" cy="1152.8" r="3.7"/><circle cx="328.7" cy="1152.8" r="3.7"/><circle cx="339.8" cy="1152.8" r="3.7"/><circle cx="350.8" cy="1152.8" r="3.7"/><circle cx="361.8" cy="1152.8" r="3.7"/><circle cx="372.9" cy="1152.8" r="3.7"/><circle cx="383.9" cy="1152.8" r="3.7"/><circle cx="394.9" cy="1152.8" r="3.7"/><circle cx="406" cy="1152.8" r="3.7"/><circle cx="417" cy="1152.8" r="3.7"/><circle cx="428" cy="1152.8" r="3.7"/><circle cx="439.1" cy="1152.8" r="3.7"/><circle cx="450.1" cy="1152.8" r="3.7"/><circle cx="461.1" cy="1152.8" r="3.7"/><circle cx="472.2" cy="1152.8" r="3.7"/><circle cx="483.2" cy="1152.8" r="3.7"/><circle cx="494.3" cy="1152.8" r="3.7"/><circle cx="505.3" cy="1152.8" r="3.7"/><circle cx="516.3" cy="1152.8" r="3.7"/><circle cx="527.4" cy="1152.8" r="3.7"/><circle cx="538.4" cy="1152.8" r="3.7"/><circle cx="549.4" cy="1152.8" r="3.7"/><circle cx="560.5" cy="1152.8" r="3.7"/><circle cx="571.5" cy="1152.8" r="3.7"/><circle cx="582.5" cy="1152.8" r="3.7"/><circle cx="593.6" cy="1152.8" r="3.7"/><circle cx="604.6" cy="1152.8" r="3.7"/><circle cx="615.6" cy="1152.8" r="3.7"/><circle cx="626.7" cy="1152.8" r="3.7"/><circle cx="637.7" cy="1152.8" r="3.7"/><circle cx="648.7" cy="1152.8" r="3.7"/><circle cx="659.8" cy="1152.8" r="3.7"/><circle cx="670.8" cy="1152.8" r="3.7"/><circle cx="681.9" cy="1152.8" r="3.7"/><circle cx="692.9" cy="1152.8" r="3.7"/><circle cx="703.9" cy="1152.8" r="3.7"/><circle cx="715" cy="1152.8" r="3.7"/><circle cx="726" cy="1152.8" r="3.7"/><circle cx="737" cy="1152.8" r="3.7"/><circle cx="748.1" cy="1152.8" r="3.7"/><circle cx="759.1" cy="1152.8" r="3.7"/><circle cx="770.1" cy="1152.8" r="3.7"/><circle cx="781.2" cy="1152.8" r="3.7"/><circle cx="792.2" cy="1152.8" r="3.7"/><circle cx="803.2" cy="1152.8" r="3.7"/><circle cx="814.3" cy="1152.8" r="3.7"/><circle cx="825.3" cy="1152.8" r="3.7"/><circle cx="130.1" cy="1172" r="3.7"/><circle cx="141.1" cy="1172" r="3.7"/><circle cx="152.2" cy="1172" r="3.7"/><circle cx="163.2" cy="1172" r="3.7"/><circle cx="174.2" cy="1172" r="3.7"/><circle cx="185.3" cy="1172" r="3.7"/><circle cx="196.3" cy="1172" r="3.7"/><circle cx="207.3" cy="1172" r="3.7"/><circle cx="218.4" cy="1172" r="3.7"/><circle cx="229.4" cy="1172" r="3.7"/><circle cx="240.4" cy="1172" r="3.7"/><circle cx="251.5" cy="1172" r="3.7"/><circle cx="262.5" cy="1172" r="3.7"/><circle cx="273.6" cy="1172" r="3.7"/><circle cx="284.6" cy="1172" r="3.7"/><circle cx="295.6" cy="1172" r="3.7"/><circle cx="306.7" cy="1172" r="3.7"/><circle cx="317.7" cy="1172" r="3.7"/><circle cx="328.7" cy="1172" r="3.7"/><circle cx="339.8" cy="1172" r="3.7"/><circle cx="350.8" cy="1172" r="3.7"/><circle cx="361.8" cy="1172" r="3.7"/><circle cx="372.9" cy="1172" r="3.7"/><circle cx="383.9" cy="1172" r="3.7"/><circle cx="394.9" cy="1172" r="3.7"/><circle cx="406" cy="1172" r="3.7"/><circle cx="417" cy="1172" r="3.7"/><circle cx="428" cy="1172" r="3.7"/><circle cx="439.1" cy="1172" r="3.7"/><circle cx="450.1" cy="1172" r="3.7"/><circle cx="461.1" cy="1172" r="3.7"/><circle cx="472.2" cy="1172" r="3.7"/><circle cx="483.2" cy="1172" r="3.7"/><circle cx="494.3" cy="1172" r="3.7"/><circle cx="505.3" cy="1172" r="3.7"/><circle cx="516.3" cy="1172" r="3.7"/><circle cx="527.4" cy="1172" r="3.7"/><circle cx="538.4" cy="1172" r="3.7"/><circle cx="549.4" cy="1172" r="3.7"/><circle cx="560.5" cy="1172" r="3.7"/><circle cx="571.5" cy="1172" r="3.7"/><circle cx="582.5" cy="1172" r="3.7"/><circle cx="593.6" cy="1172" r="3.7"/><circle cx="604.6" cy="1172" r="3.7"/><circle cx="615.6" cy="1172" r="3.7"/><circle cx="626.7" cy="1172" r="3.7"/><circle cx="637.7" cy="1172" r="3.7"/><circle cx="648.7" cy="1172" r="3.7"/><circle cx="659.8" cy="1172" r="3.7"/><circle cx="670.8" cy="1172" r="3.7"/><circle cx="681.9" cy="1172" r="3.7"/><circle cx="692.9" cy="1172" r="3.7"/><circle cx="703.9" cy="1172" r="3.7"/><circle cx="715" cy="1172" r="3.7"/><circle cx="726" cy="1172" r="3.7"/><circle cx="737" cy="1172" r="3.7"/><circle cx="748.1" cy="1172" r="3.7"/><circle cx="759.1" cy="1172" r="3.7"/><circle cx="770.1" cy="1172" r="3.7"/><circle cx="781.2" cy="1172" r="3.7"/><circle cx="792.2" cy="1172" r="3.7"/><circle cx="803.2" cy="1172" r="3.7"/><circle cx="814.3" cy="1172" r="3.7"/><circle cx="825.3" cy="1172" r="3.7"/><circle cx="135.7" cy="1181.5" r="3.7"/><circle cx="146.7" cy="1181.5" r="3.7"/><circle cx="157.7" cy="1181.5" r="3.7"/><circle cx="168.8" cy="1181.5" r="3.7"/><circle cx="179.8" cy="1181.5" r="3.7"/><circle cx="190.8" cy="1181.5" r="3.7"/><circle cx="201.9" cy="1181.5" r="3.7"/><circle cx="212.9" cy="1181.5" r="3.7"/><circle cx="223.9" cy="1181.5" r="3.7"/><circle cx="235" cy="1181.5" r="3.7"/><circle cx="246" cy="1181.5" r="3.7"/><circle cx="257" cy="1181.5" r="3.7"/><circle cx="268.1" cy="1181.5" r="3.7"/><circle cx="279.1" cy="1181.5" r="3.7"/><circle cx="290.1" cy="1181.5" r="3.7"/><circle cx="301.2" cy="1181.5" r="3.7"/><circle cx="312.2" cy="1181.5" r="3.7"/><circle cx="323.2" cy="1181.5" r="3.7"/><circle cx="334.3" cy="1181.5" r="3.7"/><circle cx="345.3" cy="1181.5" r="3.7"/><circle cx="356.4" cy="1181.5" r="3.7"/><circle cx="367.4" cy="1181.5" r="3.7"/><circle cx="378.4" cy="1181.5" r="3.7"/><circle cx="389.5" cy="1181.5" r="3.7"/><circle cx="400.5" cy="1181.5" r="3.7"/><circle cx="411.5" cy="1181.5" r="3.7"/><circle cx="422.6" cy="1181.5" r="3.7"/><circle cx="433.6" cy="1181.5" r="3.7"/><circle cx="444.6" cy="1181.5" r="3.7"/><circle cx="455.7" cy="1181.5" r="3.7"/><circle cx="466.7" cy="1181.5" r="3.7"/><circle cx="477.7" cy="1181.5" r="3.7"/><circle cx="488.8" cy="1181.5" r="3.7"/><circle cx="499.8" cy="1181.5" r="3.7"/><circle cx="510.8" cy="1181.5" r="3.7"/><circle cx="521.9" cy="1181.5" r="3.7"/><circle cx="532.9" cy="1181.5" r="3.7"/><circle cx="543.9" cy="1181.5" r="3.7"/><circle cx="555" cy="1181.5" r="3.7"/><circle cx="566" cy="1181.5" r="3.7"/><circle cx="577" cy="1181.5" r="3.7"/><circle cx="588.1" cy="1181.5" r="3.7"/><circle cx="599.1" cy="1181.5" r="3.7"/><circle cx="610.2" cy="1181.5" r="3.7"/><circle cx="621.2" cy="1181.5" r="3.7"/><circle cx="632.2" cy="1181.5" r="3.7"/><circle cx="643.3" cy="1181.5" r="3.7"/><circle cx="654.3" cy="1181.5" r="3.7"/><circle cx="665.3" cy="1181.5" r="3.7"/><circle cx="676.4" cy="1181.5" r="3.7"/><circle cx="687.4" cy="1181.5" r="3.7"/><circle cx="698.4" cy="1181.5" r="3.7"/><circle cx="709.5" cy="1181.5" r="3.7"/><circle cx="720.5" cy="1181.5" r="3.7"/><circle cx="731.5" cy="1181.5" r="3.7"/><circle cx="742.6" cy="1181.5" r="3.7"/><circle cx="753.6" cy="1181.5" r="3.7"/><circle cx="764.6" cy="1181.5" r="3.7"/><circle cx="775.7" cy="1181.5" r="3.7"/><circle cx="786.7" cy="1181.5" r="3.7"/><circle cx="797.8" cy="1181.5" r="3.7"/><circle cx="808.8" cy="1181.5" r="3.7"/><circle cx="819.8" cy="1181.5" r="3.7"/><circle cx="130.1" cy="1191.1" r="3.7"/><circle cx="141.1" cy="1191.1" r="3.7"/><circle cx="152.2" cy="1191.1" r="3.7"/><circle cx="163.2" cy="1191.1" r="3.7"/><circle cx="174.2" cy="1191.1" r="3.7"/><circle cx="185.3" cy="1191.1" r="3.7"/><circle cx="196.3" cy="1191.1" r="3.7"/><circle cx="207.3" cy="1191.1" r="3.7"/><circle cx="218.4" cy="1191.1" r="3.7"/><circle cx="229.4" cy="1191.1" r="3.7"/><circle cx="240.4" cy="1191.1" r="3.7"/><circle cx="251.5" cy="1191.1" r="3.7"/><circle cx="262.5" cy="1191.1" r="3.7"/><circle cx="273.6" cy="1191.1" r="3.7"/><circle cx="284.6" cy="1191.1" r="3.7"/><circle cx="295.6" cy="1191.1" r="3.7"/><circle cx="306.7" cy="1191.1" r="3.7"/><circle cx="317.7" cy="1191.1" r="3.7"/><circle cx="328.7" cy="1191.1" r="3.7"/><circle cx="339.8" cy="1191.1" r="3.7"/><circle cx="350.8" cy="1191.1" r="3.7"/><circle cx="361.8" cy="1191.1" r="3.7"/><circle cx="372.9" cy="1191.1" r="3.7"/><circle cx="383.9" cy="1191.1" r="3.7"/><circle cx="394.9" cy="1191.1" r="3.7"/><circle cx="406" cy="1191.1" r="3.7"/><circle cx="417" cy="1191.1" r="3.7"/><circle cx="428" cy="1191.1" r="3.7"/><circle cx="439.1" cy="1191.1" r="3.7"/><circle cx="450.1" cy="1191.1" r="3.7"/><circle cx="461.1" cy="1191.1" r="3.7"/><circle cx="472.2" cy="1191.1" r="3.7"/><circle cx="483.2" cy="1191.1" r="3.7"/><circle cx="494.3" cy="1191.1" r="3.7"/><circle cx="505.3" cy="1191.1" r="3.7"/><circle cx="516.3" cy="1191.1" r="3.7"/><circle cx="527.4" cy="1191.1" r="3.7"/><circle cx="538.4" cy="1191.1" r="3.7"/><circle cx="549.4" cy="1191.1" r="3.7"/><circle cx="560.5" cy="1191.1" r="3.7"/><circle cx="571.5" cy="1191.1" r="3.7"/><circle cx="582.5" cy="1191.1" r="3.7"/><circle cx="593.6" cy="1191.1" r="3.7"/><circle cx="604.6" cy="1191.1" r="3.7"/><circle cx="615.6" cy="1191.1" r="3.7"/><circle cx="626.7" cy="1191.1" r="3.7"/><circle cx="637.7" cy="1191.1" r="3.7"/><circle cx="648.7" cy="1191.1" r="3.7"/><circle cx="659.8" cy="1191.1" r="3.7"/><circle cx="670.8" cy="1191.1" r="3.7"/><circle cx="681.9" cy="1191.1" r="3.7"/><circle cx="692.9" cy="1191.1" r="3.7"/><circle cx="703.9" cy="1191.1" r="3.7"/><circle cx="715" cy="1191.1" r="3.7"/><circle cx="726" cy="1191.1" r="3.7"/><circle cx="737" cy="1191.1" r="3.7"/><circle cx="748.1" cy="1191.1" r="3.7"/><circle cx="759.1" cy="1191.1" r="3.7"/><circle cx="770.1" cy="1191.1" r="3.7"/><circle cx="781.2" cy="1191.1" r="3.7"/><circle cx="792.2" cy="1191.1" r="3.7"/><circle cx="803.2" cy="1191.1" r="3.7"/><circle cx="814.3" cy="1191.1" r="3.7"/><circle cx="825.3" cy="1191.1" r="3.7"/></g>
<circle cx="252" cy="1160.3" r="11.3" fill="#c6c8cb" stroke="#555" stroke-width="1.1"/>
<circle cx="252" cy="1160.3" r="2.7" fill="#fff" stroke="#3a3a3a" stroke-width="1"/>
<circle cx="465.6" cy="1162.3" r="11.3" fill="#c6c8cb" stroke="#555" stroke-width="1.1"/>
<circle cx="465.6" cy="1162.3" r="2.7" fill="#fff" stroke="#3a3a3a" stroke-width="1"/>
<path d="M251 1171.5L236.8 1226.3M480.2 1169.7L614 1228" stroke="#1a1a1a" stroke-width="1.6" fill="none"/>
<path d="M134 1115H821" stroke="#111" stroke-width="1.5" fill="none"/>
<polygon points="122.3,1115 139.6,1107.9 135.4,1115 139.6,1122.1" fill="#111"/>
<polygon points="832.6,1115 815.3,1107.9 819.5,1115 815.3,1122.1" fill="#111"/>
<text x="477.8" y="1108.9" font-size="32.5" fill="#0d0d0d" text-anchor="middle" textLength="108" lengthAdjust="spacingAndGlyphs">1.5 mm</text>
<text x="177.2" y="1258.8" font-size="32" fill="#d2232a" textLength="127.5" lengthAdjust="spacingAndGlyphs">~250 μm</text>
<text x="586.8" y="1259.2" font-size="32" fill="#2d3492" textLength="128.5" lengthAdjust="spacingAndGlyphs">~700 μm</text>
<path d="M121 1813.6H833.7M121 1727.4H833.7M121 1641.2H833.7M121 1555H833.7M121 1468.8H833.7M121 1382.6H833.7M121 1296.4H833.7" stroke="#606060" stroke-width="1.8" stroke-dasharray="5.5 4.2" fill="none"/>
<g fill="none" stroke-linejoin="round">
<polyline points="120.7,1812.8 122.4,1812.9 124,1812.9 125.7,1812.9 127.4,1812.9 129,1812.9 130.7,1812.9 132.4,1813 134,1812.9 135.7,1812.9 137.3,1812.9 139,1812.9 140.7,1812.9 142.3,1812.9 144,1812.9 145.7,1813 147.3,1812.9 149,1812.9 150.7,1812.9 152.3,1813 154,1812.8 155.7,1812.9 157.3,1812.9 159,1812.8 160.7,1812.9 162.3,1813 164,1812.9 165.6,1813 167.3,1812.9 169,1812.9 170.6,1812.9 172.3,1812.9 174,1812.7 175.6,1811.9 177.3,1811.3 179,1810.2 180.6,1809.2 182.3,1807.5 184,1805.1 185.4,1805 185.6,1804 185.9,1804.4 186.1,1803.6 186.3,1804.3 186.6,1804.7 186.8,1804.5 187.1,1802.7 187.3,1801 187.5,1802.2 187.8,1802.5 188,1800.4 188.2,1801.3 188.5,1801.1 188.7,1800.7 189,1800.7 189.2,1800.5 189.4,1801.1 189.7,1799.2 189.9,1799.3 190.1,1798 190.4,1798.9 190.6,1799.8 190.9,1798 191.1,1796.1 191.3,1797.5 191.6,1797.6 191.8,1797.5 192,1797 192.3,1795.9 192.5,1796.3 192.8,1793.5 193,1794.8 193.2,1794 193.5,1792.4 193.7,1791.9 193.9,1793.1 194.2,1792.1 194.4,1791.3 194.7,1791.8 194.9,1792.9 195.1,1790.1 195.4,1789.4 195.6,1789.4 195.9,1790.3 196.1,1789.1 196.3,1789.1 196.6,1788.3 196.8,1786.2 197,1785.5 197.3,1785.9 197.5,1785.5 197.8,1784.9 198,1785.2 198.2,1784.8 198.5,1784.9 198.7,1783.7 198.9,1780.6 199.2,1781.7 199.4,1782.6 199.7,1782.2 199.9,1782.2 200.1,1780.2 200.4,1779.6 200.6,1781.3 200.8,1778.4 201.1,1779.2 201.3,1776.2 201.6,1777.2 201.8,1774.7 202,1776.9 202.3,1776.2 202.5,1774.9 202.7,1773.3 203,1773.4 203.2,1775.3 203.5,1772.8 203.7,1772.5 203.9,1772.5 204.2,1772.3 204.4,1768.3 204.7,1770.8 204.9,1770.9 205.1,1768.2 205.4,1768.4 205.6,1768.1 205.8,1766.2 206.1,1766.1 206.3,1765.7 206.6,1764.2 206.8,1764.7 207,1765.5 207.3,1764.6 207.5,1764.2 207.7,1762.5 208,1764 208.2,1764.7 208.5,1761 208.7,1762.8 208.9,1763.3 209.2,1758.9 209.4,1760.1 209.6,1757.5 209.9,1758.7 210.1,1759.2 210.4,1758.8 210.6,1757 210.8,1756.1 211.1,1756.5 211.3,1755 211.5,1756.7 211.8,1753.4 212,1756.1 212.3,1752.7 212.5,1750.6 212.7,1749.3 213,1747.6 213.2,1753.2 213.4,1748.4 213.7,1747 213.9,1746.9 214.2,1750.1 214.4,1747 214.6,1743.7 214.9,1749.7 215.1,1745.4 215.4,1743.7 215.6,1746.8 215.8,1743.8 216.1,1746.7 216.3,1745.7 216.5,1745.3 216.8,1742.8 217,1743 217.3,1740.5 217.5,1743.9 217.7,1741.9 218,1739.2 218.2,1739.6 218.4,1743.2 218.7,1738.7 218.9,1740.7 219.2,1738.5 219.4,1738.4 219.6,1736.1 219.9,1738.1 220.1,1741.9 220.3,1740.6 220.6,1735.8 220.8,1737.6 221.1,1734.3 221.3,1735.9 221.5,1737.9 221.8,1733.6 222,1737.5 222.2,1740 222.5,1730.8 222.7,1739.2 223,1733.4 223.2,1732.6 223.4,1734.1 223.7,1738 223.9,1731.8 224.2,1737.1 224.4,1736.8 224.6,1734.4 224.9,1731.7 225.1,1732.7 225.3,1731.5 225.6,1734.2 225.8,1733.5 226.1,1735.5 226.3,1733.6 226.5,1731.5 226.8,1733.5 227,1731.7 227.2,1734 227.5,1734.1 227.7,1732.7 228,1733.2 228.2,1731.4 228.4,1732.4 228.7,1728.9 228.9,1733.4 229.1,1733.4 229.4,1735.3 229.6,1733 229.9,1731.6 230.1,1734.9 230.3,1733.5 230.6,1731.9 230.8,1733.9 231,1734.9 231.3,1731.7 231.5,1733.8 231.8,1733.3 232,1731.8 232.2,1732 232.5,1735.5 232.7,1736.1 233,1734.6 233.2,1735.7 233.4,1739.8 233.7,1733.1 233.9,1736.1 234.1,1734.8 234.4,1739.2 234.6,1734.2 234.9,1738.5 235.1,1737.7 235.3,1740.8 235.6,1738.5 235.8,1738.9 236,1739.2 236.3,1738.2 236.5,1739.3 236.8,1737.8 237,1741.1 237.2,1742.6 237.5,1740.9 237.7,1740 237.9,1739.1 238.2,1740.4 238.4,1746.1 238.7,1742.1 238.9,1740.4 239.1,1743.6 239.4,1745.2 239.6,1744 239.8,1746 240.1,1744.2 240.3,1745.9 240.6,1743.6 240.8,1745.8 241,1748.7 241.3,1746.6 241.5,1746.4 241.8,1749.8 242,1750 242.2,1754 242.5,1748.5 242.7,1751.7 242.9,1755.1 243.2,1754.9 243.4,1752.6 243.7,1751.3 243.9,1753.3 244.1,1752.9 244.4,1756.2 244.6,1757.1 244.8,1753.7 245.1,1754.9 245.3,1756.4 245.6,1754.6 245.8,1759 246,1758.6 246.3,1756.7 246.5,1755.9 246.7,1759.5 247,1757.3 247.2,1761.5 247.5,1760.6 247.7,1761.9 247.9,1764.7 248.2,1762.3 248.4,1761.8 248.6,1764 248.9,1764.4 249.1,1762.7 249.4,1767.3 249.6,1768.2 249.8,1767.4 250.1,1768.8 250.3,1765.5 250.5,1767.6 250.8,1769.8 251,1770 251.3,1765.5 251.5,1771 251.7,1771.7 252,1770.7 252.2,1770.8 252.5,1771.9 252.7,1774 252.9,1774.8 253.2,1772.9 253.4,1774.3 253.6,1776.9 253.9,1773.7 254.1,1774.7 254.4,1776.5 254.6,1777 254.8,1776.9 255.1,1778.5 255.3,1779.8 255.5,1778.2 255.8,1780.8 256,1779 256.3,1781.7 256.5,1780.5 256.7,1781 257,1779.2 257.2,1783 257.4,1783.8 257.7,1783.3 257.9,1784.3 258.2,1784.1 258.4,1783.4 258.6,1783.4 258.9,1782.8 259.1,1785.9 259.3,1782.6 259.6,1783.7 259.8,1786.5 260.1,1789.1 260.3,1787.1 260.5,1787.3 260.8,1790.2 261,1788 261.3,1788.7 261.5,1789.6 261.7,1788.5 262,1788.5 262.2,1790.3 262.4,1789.9 262.7,1791.1 262.9,1791.6 263.2,1791 263.4,1790.9 263.6,1792.3 263.9,1794.1 264.1,1791.7 264.3,1794.1 264.6,1792.7 264.8,1791.5 265.1,1793.4 265.3,1794.8 265.5,1795.3 265.8,1793.1 266,1794.5 266.2,1794.2 266.5,1794.1 266.7,1795.2 267,1795.7 267.2,1796.5 267.4,1798.5 267.7,1797.4 267.9,1796.3 268.1,1796.6 268.4,1796.3 268.6,1797 268.9,1796.9 269.1,1796.6 269.3,1798.2 269.6,1797.9 269.8,1799.1 270.1,1797.2 270.3,1798.1 270.5,1797.9 270.8,1797.2 271,1797.7 271.2,1798.8 271.5,1798.3 271.7,1800.2 272,1798.8 272.2,1799.2 272.4,1800.8 272.7,1798.5 272.9,1800.3 273.1,1799.3 273.4,1800.3 273.6,1799.3 273.9,1799.2 274.1,1801 274.3,1801.6 274.6,1800.6 274.8,1800 275,1801 275.3,1801.3 275.5,1800.5 275.8,1803.1 276,1801.6 276.2,1802.3 276.5,1801.1 276.7,1801.9 276.9,1802.3 277.2,1801.8 277.4,1802.7 277.7,1801.7 277.9,1802.3 278.1,1802.1 278.4,1802.5 278.6,1801.3 278.9,1802.1 279.1,1801.7 279.3,1801.8 279.6,1802.9 279.8,1801.9 280,1802.1 280.3,1802.2 280.5,1802.8 280.8,1802.9 281,1802.1 281.2,1801.1 281.5,1803.4 281.7,1802.5 281.9,1803.2 282.2,1802.4 282.4,1802.7 282.7,1802.3 282.9,1805.1 283.1,1803.6 283.4,1804 283.6,1803.4 283.8,1803.9 284.1,1803.9 284.3,1803 284.6,1802.2 284.8,1805.6 285,1803.9 285.3,1803.5 285.5,1803.8 285.7,1804.1 286,1804.9 286.2,1804.6 286.5,1803.5 286.7,1803.3 286.9,1804 287.2,1804.8 287.4,1804.2 287.6,1804.4 287.9,1803.9 288.1,1804.3 288.4,1804.9 288.6,1804.3 288.8,1805.3 289.1,1804 289.3,1803.8 289.6,1805.5 289.8,1804.4 290,1805.4 290.3,1804.1 290.5,1804.2 290.7,1805.1 291,1804.3 292.6,1805.5 294.3,1806 296,1806.2 297.6,1806.3 299.3,1806.7 301,1806.7 302.6,1807.2 304.3,1807.3 306,1807.5 307.6,1808.1 309.3,1808.5 311,1808.5 312.6,1808.8 314.3,1809.2 316,1809.7 317.6,1809.8 319.3,1809.9 320.9,1810.5 322.6,1810.5 324.3,1810.8 325.9,1811.1 327.6,1811.2 329.3,1811.5 330.9,1811.5 332.6,1811.6 334.3,1811.8 335.9,1812 337.6,1812.2 339.3,1812.3 340.9,1812.4 342.6,1812.3 344.3,1812.4 345.9,1812.5 347.6,1812.6 349.2,1812.6 350.9,1812.6 352.6,1812.7 354.2,1812.5 355.9,1812.6 357.6,1812.6 359.2,1812.6 360.9,1812.5 362.6,1812.5 364.2,1812.5 365.9,1812.4 367.6,1812.4 369.2,1812.3 370.9,1812.3 372.6,1812.3 374.2,1812.3 375.9,1812.1 377.5,1812.1 379.2,1811.9 380.9,1811.9 382.5,1811.9 384.2,1811.7 385.9,1811.6 387.5,1811.5 389.2,1811.4 390.9,1811.4 392.5,1811.4 394.2,1811.1 395.9,1811.1 397.5,1811 399.2,1810.9 400.9,1810.8 402.5,1810.7 404.2,1810.8 405.8,1810.6 407.5,1810.7 409.2,1810.7 410.8,1810.5 412.5,1810.5 414.2,1810.7 415.8,1810.6 417.5,1810.5 419.2,1810.4 420.8,1810.6 422.5,1810.6 424.2,1810.8 425.8,1810.5 427.5,1810.7 429.2,1810.8 430.8,1810.9 432.5,1810.9 434.1,1811 435.8,1811.2 437.5,1811.2 439.1,1811.4 440.8,1811.4 442.5,1811.6 444.1,1811.7 445.8,1811.7 447.5,1811.7 449.1,1811.9 450.8,1812 452.5,1812.1 454.1,1812.2 455.8,1812.1 457.5,1812.2 459.1,1812.3 459.4,1812.3" stroke="#d2232a" stroke-width="1.7"/>
<polyline points="480,1813.6 481.7,1813.6 483.4,1813.5 485,1813.6 486.7,1813.6 488.3,1813.6 490,1813.6 491.7,1813.5 493.3,1813.6 495,1813.6 496.7,1813.5 498.3,1813.5 500,1813.5 501.7,1813.5 503.3,1813.5 505,1813.5 506.7,1813.5 508.3,1813.5 510,1813.4 511.7,1813.4 513.3,1813.4 515,1813.3 516.6,1813.4 518.3,1813.3 520,1813.3 521.6,1813.3 523.3,1813.3 525,1813.2 526.6,1813.3 528.3,1813.2 530,1813.2 531.6,1813.2 533.3,1813.1 535,1813.1 536.6,1813.1 538.3,1813 540,1812.9 541.6,1813 543.3,1812.8 544.9,1812.8 546.6,1812.8 548.3,1812.6 549.9,1812.7 551.6,1812.5 553.3,1812.5 554.9,1812.5 556.6,1812.3 558.3,1812.4 559.9,1812.3 561.6,1812.4 563.3,1812.4 564.9,1812.4 566.6,1812.4 568.3,1812.3 569.9,1812.4 571.6,1812.4 573.2,1812.6 574.9,1812.6 576.6,1812.6 578.2,1812.7 579.9,1812.7 581.6,1812.8 583.2,1812.8 584.9,1812.9 586.6,1812.9 588.2,1812.9 589.9,1813 591.6,1813 593.2,1813 594.9,1813 596.6,1812.8 598.2,1812.6 599.9,1812.1 601.6,1811.9 603.2,1811.3 604.9,1810.5 606.5,1809.4 608.2,1808.5 609.9,1807.4 611.5,1806.9 612.7,1804.7 613,1804.7 613.2,1805 613.4,1805.3 613.7,1804.9 613.9,1803.7 614.2,1803.4 614.4,1803.3 614.6,1803.3 614.9,1804.2 615.1,1802.6 615.3,1803.2 615.6,1802.1 615.8,1801.6 616.1,1802.2 616.3,1802.2 616.5,1800.4 616.8,1800.6 617,1801.1 617.2,1802.7 617.5,1800.1 617.7,1799.3 618,1798.7 618.2,1799.8 618.4,1799.5 618.7,1799.1 618.9,1797.7 619.1,1799.1 619.4,1797.9 619.6,1798.3 619.9,1797 620.1,1798.3 620.3,1796.3 620.6,1796.8 620.8,1796.2 621.1,1795.3 621.3,1794.4 621.5,1796.6 621.8,1793.9 622,1793.9 622.2,1794.4 622.5,1792.5 622.7,1793.3 623,1791.9 623.2,1793.3 623.4,1793.2 623.7,1790.9 623.9,1789.6 624.1,1790.7 624.4,1790.1 624.6,1791 624.9,1791.5 625.1,1790.1 625.3,1787.9 625.6,1791 625.8,1789.2 626,1790.3 626.3,1787.8 626.5,1786.6 626.8,1788.4 627,1787.2 627.2,1784.9 627.5,1786 627.7,1786.9 627.9,1786.6 628.2,1787 628.4,1783.4 628.7,1784.7 628.9,1782.3 629.1,1782.1 629.4,1783.4 629.6,1782.8 629.9,1780.9 630.1,1781.2 630.3,1780.6 630.6,1782.5 630.8,1779 631,1780.8 631.3,1782.1 631.5,1779.6 631.8,1777.9 632,1775.3 632.2,1778 632.5,1778.8 632.7,1773.9 632.9,1776 633.2,1776.1 633.4,1776.8 633.7,1776.3 633.9,1772.5 634.1,1774.4 634.4,1774.3 634.6,1773.9 634.8,1770.6 635.1,1773.1 635.3,1770.9 635.6,1771 635.8,1770.6 636,1771.7 636.3,1769.1 636.5,1767.3 636.7,1769.2 637,1770 637.2,1770.1 637.5,1767.5 637.7,1767.8 637.9,1767.1 638.2,1766.4 638.4,1768.3 638.7,1764.4 638.9,1764.8 639.1,1764.8 639.4,1763.9 639.6,1762.4 639.8,1763.3 640.1,1764.3 640.3,1760.6 640.6,1762.8 640.8,1762.8 641,1763.7 641.3,1760.8 641.5,1762.1 641.7,1760.8 642,1758.7 642.2,1759 642.5,1756.9 642.7,1757.7 642.9,1758.5 643.2,1757.9 643.4,1757.8 643.6,1755.4 643.9,1756 644.1,1756.4 644.4,1753.8 644.6,1754.7 644.8,1755.2 645.1,1756.7 645.3,1752.8 645.5,1752.8 645.8,1752.7 646,1753.2 646.3,1753.5 646.5,1752 646.7,1750.8 647,1751 647.2,1750.7 647.4,1750.9 647.7,1749 647.9,1748.9 648.2,1750.3 648.4,1747.1 648.6,1746.7 648.9,1746.3 649.1,1747.7 649.4,1747.5 649.6,1749 649.8,1745 650.1,1750.3 650.3,1746.6 650.5,1746.1 650.8,1743.5 651,1744.8 651.3,1746.5 651.5,1747.1 651.7,1745.4 652,1743.4 652.2,1743.2 652.4,1743.5 652.7,1744.2 652.9,1742.9 653.2,1740.2 653.4,1744.2 653.6,1741.6 653.9,1738.1 654.1,1740 654.3,1741.9 654.6,1739.3 654.8,1742 655.1,1740.2 655.3,1736.8 655.5,1735.8 655.8,1743.1 656,1737.9 656.2,1735 656.5,1740.1 656.7,1738.2 657,1735.4 657.2,1739.4 657.4,1737.2 657.7,1738.1 657.9,1741.9 658.2,1736.9 658.4,1737.9 658.6,1735.3 658.9,1732.7 659.1,1735.6 659.3,1737.7 659.6,1735.8 659.8,1736.2 660.1,1734.3 660.3,1739.5 660.5,1738.7 660.8,1740.5 661,1734.7 661.2,1735.9 661.5,1737.2 661.7,1737.2 662,1736.8 662.2,1737.5 662.4,1736.1 662.7,1736.3 662.9,1732.1 663.1,1734.4 663.4,1736.8 663.6,1736.2 663.9,1732.2 664.1,1733.8 664.3,1734.1 664.6,1733.1 664.8,1731.1 665,1737.2 665.3,1736.1 665.5,1738.3 665.8,1733.3 666,1735.2 666.2,1735.8 666.5,1736 666.7,1732.8 667,1734.6 667.2,1735.5 667.4,1731.5 667.7,1736.6 667.9,1737.1 668.1,1728.6 668.4,1735.2 668.6,1735.6 668.9,1736 669.1,1734.8 669.3,1732.8 669.6,1732.9 669.8,1733.4 670,1735.3 670.3,1738 670.5,1734.2 670.8,1731.5 671,1732.6 671.2,1735.4 671.5,1733.4 671.7,1736.1 671.9,1735.5 672.2,1738.1 672.4,1736.2 672.7,1735.4 672.9,1736.1 673.1,1734.2 673.4,1731.9 673.6,1733.3 673.8,1736.9 674.1,1738 674.3,1737.9 674.6,1738.8 674.8,1736.7 675,1736.1 675.3,1736.7 675.5,1736.9 675.8,1737.1 676,1737.9 676.2,1739.3 676.5,1734.2 676.7,1735.8 676.9,1740.2 677.2,1740.3 677.4,1739.8 677.7,1738.7 677.9,1736.3 678.1,1737 678.4,1737.1 678.6,1737.3 678.8,1737.4 679.1,1738.4 679.3,1739.2 679.6,1740.6 679.8,1744.2 680,1741.1 680.3,1737.3 680.5,1742.4 680.7,1742.8 681,1739.6 681.2,1741.8 681.5,1743.2 681.7,1739.3 681.9,1741.4 682.2,1741.4 682.4,1744.3 682.6,1742.5 682.9,1743 683.1,1742.4 683.4,1742 683.6,1742.3 683.8,1744.5 684.1,1743.7 684.3,1747.6 684.5,1744.4 684.8,1744.6 685,1746.9 685.3,1748 685.5,1746.9 685.7,1749.4 686,1746.7 686.2,1747.1 686.5,1749.8 686.7,1748.2 686.9,1746.5 687.2,1746.9 687.4,1747.3 687.6,1749.8 687.9,1750.4 688.1,1750.9 688.4,1749.3 688.6,1746.4 688.8,1748.5 689.1,1748.5 689.3,1749.3 689.5,1755 689.8,1752.8 690,1753.6 690.3,1750.9 690.5,1750.4 690.7,1755 691,1754.1 691.2,1753.5 691.4,1755.7 691.7,1756.3 691.9,1756.8 692.2,1754.4 692.4,1757.9 692.6,1754.7 692.9,1756.9 693.1,1756.1 693.3,1755.1 693.6,1759.2 693.8,1759.8 694.1,1758.1 694.3,1760.9 694.5,1760.8 694.8,1760.1 695,1760 695.3,1762.7 695.5,1761.6 695.7,1760.4 696,1759.6 696.2,1765.3 696.4,1760.4 696.7,1761.4 696.9,1764.9 697.2,1765.9 697.4,1763.3 697.6,1764.9 697.9,1764.4 698.1,1763.7 698.3,1765.9 698.6,1765.5 698.8,1765.4 699.1,1765.1 699.3,1764.2 699.5,1764.6 699.8,1767.2 700,1768.2 700.2,1764.8 700.5,1767.7 700.7,1768.3 701,1770.9 701.2,1768.6 701.4,1771.1 701.7,1771 701.9,1772.6 702.1,1771.8 702.4,1771.4 702.6,1773.9 702.9,1773.4 703.1,1772.6 703.3,1774.6 703.6,1774.9 703.8,1774.7 704.1,1775.8 704.3,1773.4 704.5,1775.9 704.8,1773.9 705,1774.1 705.2,1777.2 705.5,1775.9 705.7,1776.9 706,1778.1 706.2,1777.4 706.4,1777.6 706.7,1776.8 706.9,1776.7 707.1,1779.7 707.4,1779.1 707.6,1778.3 707.9,1777.9 708.1,1782.6 708.3,1778.4 708.6,1780.5 708.8,1778.8 709,1781.4 709.3,1782.2 709.5,1781.5 709.8,1780.5 710,1782.2 710.2,1785.2 710.5,1782 710.7,1785 710.9,1784.6 711.2,1785.1 711.4,1786.1 711.7,1785.8 711.9,1785.8 712.1,1785.7 712.4,1785.3 712.6,1785.9 712.9,1787.5 713.1,1786.4 713.3,1785.4 713.6,1785.8 713.8,1786.9 714,1786.7 714.3,1786.7 714.5,1786.5 714.8,1786.5 715,1788.8 715.2,1789.1 715.5,1787.6 715.7,1787.8 715.9,1788.1 716.2,1792.3 716.4,1790.4 716.7,1793.7 716.9,1790 717.1,1791 717.4,1791.3 717.6,1791.7 717.8,1790.6 718.1,1792.4 718.3,1791.4 718.6,1792.1 718.8,1792.6 719,1792.7 719.3,1793.3 719.5,1794.7 719.7,1793.3 720,1793.6 720.2,1794.6 720.5,1794.1 720.7,1794.2 720.9,1796.4 721.2,1795.6 721.4,1796.1 721.6,1796.8 721.9,1795.9 722.1,1797.2 722.4,1797.1 722.6,1796.7 722.8,1796.9 723.1,1797.1 723.3,1795.7 723.6,1798.3 723.8,1797.9 724,1799.3 724.3,1798.1 724.5,1797.8 724.7,1797.9 725,1799.6 725.2,1799.6 725.5,1798.5 725.7,1799.8 725.9,1799.2 726.2,1800.9 726.4,1799.2 726.6,1799.7 726.9,1800.3 727.1,1801.5 727.4,1801.2 727.6,1801.1 727.8,1801.2 728.1,1801.7 728.3,1801.9 728.5,1801.8 728.8,1801 729,1803.7 729.3,1803.4 729.5,1803.7 729.7,1803.2 730,1804.1 730.2,1802.6 730.4,1803.1 730.7,1803.5 730.9,1803.9 731.2,1803.5 731.4,1803.6 731.6,1803.6 731.9,1804.5 732.1,1803.7 732.4,1805.3 732.6,1803.5 732.8,1806.6 733.1,1805 733.3,1805.6 733.5,1804.3 735.2,1806.7 736.9,1805.3 738.5,1807.4 740.2,1807.5 741.9,1808.3 743.5,1808.9 745.2,1809.4 746.9,1809.6 748.5,1810.2 750.2,1810.8 751.9,1810.8 753.5,1811.2 755.2,1811.6 756.8,1811.6 758.5,1812 760.2,1812.1 761.8,1812.2 763.5,1812.4 765.2,1812.5 766.8,1812.7 768.5,1812.7 770.2,1812.8 771.8,1812.9 773.5,1812.8 775.2,1812.9 776.8,1812.9 778.5,1812.9 780.2,1812.9 781.8,1812.8 783.5,1812.8 785.1,1812.8 786.8,1812.8 788.5,1812.8 790.1,1812.7 791.8,1812.7 793.5,1812.8 795.1,1812.8 796.8,1812.8 798.5,1812.8 800.1,1812.8 801.8,1812.9 803.5,1812.9 805.1,1813 806.8,1813.1 808.5,1813.1 810.1,1813.1 811.8,1813.1 813.4,1813.2 815.1,1813.3 816.8,1813.2 818.4,1813.3 820.1,1813.3 821.8,1813.3 823.4,1813.4 825.1,1813.4 826.8,1813.4 828.4,1813.5 830.1,1813.5 831.8,1813.6 833.4,1813.6 834.1,1813.5" stroke="#d2232a" stroke-width="1.7"/>
<polyline points="120.7,1726.3 122.4,1726.4 124,1726.3 125.7,1726.3 127.4,1726.3 129,1726.4 130.7,1726.3 132.4,1726.4 134,1726.4 135.7,1726.3 137.3,1726.4 139,1726.4 140.7,1726.4 142.3,1726.3 144,1726.3 145.7,1726.4 147.3,1726.4 149,1726.3 150.7,1726.3 152.3,1726.4 154,1726.3 155.7,1726.4 157.3,1726.4 159,1726.4 160.7,1726.3 162.3,1726.3 164,1726.4 165.6,1726.3 167.3,1726.4 169,1726.3 170.6,1726.3 172.3,1726.4 174,1726.4 175.6,1726.3 177.3,1726.4 179,1726.4 180.6,1726.3 182.3,1726.4 184,1726.4 185.6,1725.8 187.3,1724.8 189,1723.9 190.6,1722.3 192.3,1720.8 193.9,1718.2 194.2,1717.9 194.4,1718.1 194.7,1717.7 194.9,1718.8 195.1,1718.3 195.4,1717.7 195.6,1717 195.9,1715.8 196.1,1717.3 196.3,1715.9 196.6,1716.3 196.8,1716.1 197,1713.6 197.3,1714.2 197.5,1712.7 197.8,1712.6 198,1713.7 198.2,1714 198.5,1710.7 198.7,1712.1 198.9,1712.3 199.2,1710.4 199.4,1710.4 199.7,1710.6 199.9,1709.9 200.1,1709 200.4,1708.6 200.6,1707.6 200.8,1708 201.1,1707.5 201.3,1706.2 201.6,1705.9 201.8,1704.7 202,1705.4 202.3,1704.7 202.5,1705.2 202.7,1702.2 203,1704.4 203.2,1702.3 203.5,1702.8 203.7,1701 203.9,1700.1 204.2,1701.9 204.4,1699.9 204.7,1700.9 204.9,1697 205.1,1698.3 205.4,1698.9 205.6,1697.4 205.8,1694.6 206.1,1693.8 206.3,1693.4 206.6,1695 206.8,1693.7 207,1691 207.3,1693.1 207.5,1692 207.7,1692.1 208,1691.7 208.2,1688.1 208.5,1688.2 208.7,1687.7 208.9,1686.9 209.2,1685.6 209.4,1684.3 209.6,1685.6 209.9,1685.3 210.1,1685.5 210.4,1682.1 210.6,1683.5 210.8,1684.2 211.1,1681.8 211.3,1680.7 211.5,1678.9 211.8,1677.9 212,1679.7 212.3,1679.1 212.5,1677.8 212.7,1678.4 213,1676.1 213.2,1674.5 213.4,1674.5 213.7,1676.3 213.9,1675 214.2,1670.5 214.4,1673.4 214.6,1669.9 214.9,1669.4 215.1,1670.3 215.4,1670.7 215.6,1668.1 215.8,1669.2 216.1,1667.4 216.3,1666.3 216.5,1667 216.8,1665.6 217,1665.1 217.3,1666.1 217.5,1663.6 217.7,1663.8 218,1665.3 218.2,1662.1 218.4,1661.4 218.7,1661.4 218.9,1663.5 219.2,1657.8 219.4,1657.4 219.6,1656.9 219.9,1656.9 220.1,1659.3 220.3,1656.3 220.6,1657.7 220.8,1651.3 221.1,1656 221.3,1653.2 221.5,1657 221.8,1655.9 222,1654.2 222.2,1651.3 222.5,1651.2 222.7,1651.3 223,1655.2 223.2,1648.9 223.4,1652.6 223.7,1647.2 223.9,1646.3 224.2,1648.1 224.4,1647.4 224.6,1651.6 224.9,1643.6 225.1,1648.1 225.3,1646.2 225.6,1649.8 225.8,1647.9 226.1,1650 226.3,1647.9 226.5,1647.2 226.8,1646.5 227,1644 227.2,1645.8 227.5,1646.1 227.7,1646.4 228,1642.2 228.2,1647.6 228.4,1643.8 228.7,1650.3 228.9,1648 229.1,1645.3 229.4,1646.5 229.6,1640 229.9,1640.9 230.1,1649.5 230.3,1648.6 230.6,1646.7 230.8,1642.9 231,1644.3 231.3,1646.1 231.5,1649.8 231.8,1648.8 232,1652.7 232.2,1650.5 232.5,1646.7 232.7,1646.2 233,1650.7 233.2,1648 233.4,1645.2 233.7,1648.4 233.9,1649.7 234.1,1648.1 234.4,1648.6 234.6,1649.8 234.9,1651.4 235.1,1651.5 235.3,1650.8 235.6,1652.5 235.8,1649.1 236,1650.4 236.3,1650.4 236.5,1649 236.8,1650.3 237,1651.1 237.2,1653.6 237.5,1655.1 237.7,1650.9 237.9,1657 238.2,1657.4 238.4,1658.3 238.7,1656.8 238.9,1657 239.1,1656.4 239.4,1659.2 239.6,1662.5 239.8,1659.3 240.1,1658.7 240.3,1661 240.6,1661.8 240.8,1661.2 241,1660.3 241.3,1663.5 241.5,1666.4 241.8,1665.6 242,1665.5 242.2,1668.9 242.5,1665.1 242.7,1668.3 242.9,1666.9 243.2,1668 243.4,1669.5 243.7,1667 243.9,1671.2 244.1,1672 244.4,1671.1 244.6,1670.9 244.8,1672.9 245.1,1675 245.3,1673.1 245.6,1673.9 245.8,1672.4 246,1676.5 246.3,1676.5 246.5,1678.3 246.7,1680.3 247,1678.7 247.2,1678.2 247.5,1681.5 247.7,1681.7 247.9,1683 248.2,1680.2 248.4,1683.6 248.6,1682.6 248.9,1685.1 249.1,1684.5 249.4,1686.1 249.6,1688.9 249.8,1686.4 250.1,1686.5 250.3,1690.4 250.5,1688.6 250.8,1689.6 251,1691 251.3,1690.6 251.5,1693.2 251.7,1691.2 252,1690.7 252.2,1694.1 252.5,1693.3 252.7,1692.2 252.9,1694.2 253.2,1695.5 253.4,1696.5 253.6,1695.8 253.9,1696.7 254.1,1696.5 254.4,1699.3 254.6,1697.1 254.8,1699.1 255.1,1698.6 255.3,1700.5 255.5,1701.5 255.8,1701.3 256,1702.1 256.3,1702.1 256.5,1701.5 256.7,1701.6 257,1702.9 257.2,1704 257.4,1704.4 257.7,1703.9 257.9,1703.8 258.2,1705.6 258.4,1705.8 258.6,1706.7 258.9,1706.3 259.1,1706 259.3,1709.8 259.6,1707.4 259.8,1708.5 260.1,1710.3 260.3,1708.5 260.5,1709.1 260.8,1709.1 261,1710.9 261.3,1708.4 261.5,1710.3 261.7,1711 262,1709.8 262.2,1710.8 262.4,1711 262.7,1711 262.9,1713.7 263.2,1711.2 263.4,1713 263.6,1712.7 263.9,1712.5 264.1,1714 264.3,1713.5 264.6,1713.4 264.8,1714.2 265.1,1714 265.3,1715.7 265.5,1715.6 265.8,1715.8 266,1714.9 266.2,1712.8 266.5,1715.4 266.7,1715.9 267,1716 267.2,1715.4 267.4,1715.8 267.7,1717.2 267.9,1715.9 268.1,1716.7 268.4,1716.3 268.6,1718.4 268.9,1718.2 269.1,1716.9 269.3,1718.6 269.6,1717.3 269.8,1717.5 270.1,1717.7 270.3,1717.7 270.5,1717.9 270.8,1717.8 271,1718.5 271.2,1718.4 271.5,1716.6 271.7,1717.8 272,1718.2 272.2,1718.5 273.9,1719.7 275.5,1719.6 277.2,1720.3 278.9,1720.4 280.5,1721.1 282.2,1721.6 283.8,1721.5 285.5,1721.6 287.2,1721.5 288.8,1721.9 290.5,1722.4 292.2,1722.5 293.8,1722.8 295.5,1722.9 297.2,1723.1 298.8,1723.4 300.5,1723.4 302.2,1723.6 303.8,1723.8 305.5,1724 307.2,1724 308.8,1724.4 310.5,1724.6 312.1,1724.6 313.8,1725 315.5,1725 317.1,1725.2 318.8,1725.4 320.5,1725.4 322.1,1725.4 323.8,1725.7 325.5,1725.7 327.1,1725.8 328.8,1726 330.5,1725.9 332.1,1726.1 333.8,1726.1 335.5,1726.2 337.1,1726.2 338.8,1726.2 340.4,1726.3 342.1,1726.2 343.8,1726.3 345.4,1726.3 347.1,1726.3 348.8,1726.3 350.4,1726.4 352.1,1726.4 353.8,1726.4 355.4,1726.3 357.1,1726.3 358.8,1726.3 360.4,1726.4 362.1,1726.5 363.8,1726.4 365.4,1726.4 367.1,1726.3 368.7,1726.4 370.4,1726.4 372.1,1726.3 373.7,1726.3 375.4,1726.4 377.1,1726.3 378.7,1726.4 380.4,1726.4 382.1,1726.3 383.7,1726.3 385.4,1726.3 387.1,1726.4 388.7,1726.3 390.4,1726.4 392.1,1726.3 393.7,1726.4 395.4,1726.4 397,1726.3 398.7,1726.3 400.4,1726.3 402,1726.4 403.7,1726.4 405.4,1726.4 407,1726.3 408.7,1726.4 410.4,1726.3 412,1726.4 413.7,1726.3 415.4,1726.3 417,1726.4 418.7,1726.3 420.4,1726.4 422,1726.3 423.7,1726.4 425.3,1726.4 427,1726.3 428.7,1726.5 430.3,1726.5 432,1726.4 433.7,1726.4 435.3,1726.3 437,1726.4 438.7,1726.4 440.3,1726.4 442,1726.4 443.7,1726.4 445.3,1726.4 447,1726.3 448.7,1726.4 450.3,1726.4 452,1726.5 453.6,1726.3 455.3,1726.4 457,1726.4 458.6,1726.4 459.4,1726.4" stroke="#2d3492" stroke-width="2.5"/>
<polyline points="480,1727.4 481.7,1727.4 483.4,1727.4 485,1727.4 486.7,1727.4 488.3,1727.4 490,1727.4 491.7,1727.4 493.3,1727.4 495,1727.4 496.7,1727.4 498.3,1727.4 500,1727.3 501.7,1727.4 503.3,1727.4 505,1727.4 506.7,1727.4 508.3,1727.4 510,1727.3 511.7,1727.3 513.3,1727.3 515,1727.3 516.6,1727.3 518.3,1727.3 520,1727.3 521.6,1727.3 523.3,1727.3 525,1727.2 526.6,1727.3 528.3,1727.2 530,1727.3 531.6,1727.2 533.3,1727.2 535,1727.2 536.6,1727.2 538.3,1727.2 540,1727.1 541.6,1727.1 543.3,1727.1 544.9,1727.1 546.6,1727.1 548.3,1727 549.9,1727 551.6,1727 553.3,1726.8 554.9,1726.7 556.6,1726.5 558.3,1726.3 559.9,1726 561.6,1725.7 563.3,1725.4 564.9,1725.1 566.6,1724.9 568.3,1724.7 569.9,1724.5 571.6,1724.5 573.2,1724.2 574.9,1724.2 576.6,1724.2 578.2,1724.2 579.9,1724 581.6,1724.1 583.2,1723.8 584.9,1723.9 586.6,1723.9 588.2,1723.4 589.9,1723.2 591.6,1722.9 593.2,1722.4 594.9,1722 596.6,1721.5 598.2,1720.9 599.9,1720.4 601.6,1720.4 603.2,1720.3 604.9,1719.3 605.1,1718.5 605.4,1718 605.6,1717.3 605.8,1719.2 606.1,1718.2 606.3,1718.3 606.5,1718.3 606.8,1717.9 607,1718 607.3,1717.9 607.5,1718 607.7,1717.2 608,1716.7 608.2,1716.2 608.4,1717.5 608.7,1717.7 608.9,1717.1 609.2,1717.3 609.4,1715.9 609.6,1717 609.9,1716.3 610.1,1717.1 610.3,1716.3 610.6,1715.8 610.8,1714.7 611.1,1716.1 611.3,1715.2 611.5,1716.8 611.8,1716 612,1715.6 612.3,1715.2 612.5,1714.4 612.7,1714 613,1715.5 613.2,1713.8 613.4,1714.8 613.7,1712.5 613.9,1713.4 614.2,1713.3 614.4,1713.4 614.6,1713.1 614.9,1712.9 615.1,1713.2 615.3,1711.9 615.6,1712.1 615.8,1711.5 616.1,1711.9 616.3,1711.2 616.5,1712.1 616.8,1708.5 617,1711.6 617.2,1711.2 617.5,1709.9 617.7,1709.4 618,1710.8 618.2,1711.3 618.4,1710.9 618.7,1710.3 618.9,1709.9 619.1,1709.2 619.4,1708 619.6,1707.7 619.9,1708.9 620.1,1707.6 620.3,1707.1 620.6,1706.4 620.8,1707.5 621.1,1707.7 621.3,1706.2 621.5,1705.3 621.8,1706.8 622,1704.3 622.2,1704.2 622.5,1705.7 622.7,1706.6 623,1705.5 623.2,1705 623.4,1703.9 623.7,1705.6 623.9,1701.5 624.1,1701.3 624.4,1703.9 624.6,1704.6 624.9,1702.7 625.1,1701.8 625.3,1700.6 625.6,1700.9 625.8,1701.5 626,1702.9 626.3,1700.1 626.5,1699.5 626.8,1700.3 627,1699.3 627.2,1699.1 627.5,1699.2 627.7,1699.8 627.9,1697.9 628.2,1699.4 628.4,1696.1 628.7,1698.1 628.9,1696.3 629.1,1697.3 629.4,1695.7 629.6,1696 629.9,1694.8 630.1,1695.9 630.3,1696.5 630.6,1694.6 630.8,1694.3 631,1695.2 631.3,1693.9 631.5,1694.7 631.8,1692.2 632,1692.4 632.2,1691.6 632.5,1688.1 632.7,1690.6 632.9,1689.9 633.2,1689.2 633.4,1689.7 633.7,1689.9 633.9,1687.7 634.1,1687.1 634.4,1691.6 634.6,1687.7 634.8,1687.5 635.1,1687.4 635.3,1684.7 635.6,1686.5 635.8,1684.3 636,1685.7 636.3,1685.1 636.5,1683.2 636.7,1684.7 637,1683.5 637.2,1684.3 637.5,1683.6 637.7,1681 637.9,1680.7 638.2,1682.7 638.4,1682.3 638.7,1676.7 638.9,1680.7 639.1,1680.6 639.4,1678.2 639.6,1679.6 639.8,1678.6 640.1,1676.4 640.3,1675.8 640.6,1677.1 640.8,1674.4 641,1676.1 641.3,1675.8 641.5,1675.1 641.7,1675.1 642,1673.4 642.2,1673.3 642.5,1674.5 642.7,1672.6 642.9,1673.3 643.2,1672.9 643.4,1671.8 643.6,1669.5 643.9,1670.3 644.1,1668.3 644.4,1667.3 644.6,1669.5 644.8,1670 645.1,1669.9 645.3,1667.7 645.5,1666.3 645.8,1664.7 646,1669.1 646.3,1664.9 646.5,1664.2 646.7,1661.5 647,1664.9 647.2,1664.9 647.4,1667 647.7,1665.3 647.9,1665.5 648.2,1664.9 648.4,1664.4 648.6,1665.1 648.9,1662.2 649.1,1660.9 649.4,1659.9 649.6,1661 649.8,1658.6 650.1,1658.2 650.3,1662.5 650.5,1659.9 650.8,1661.3 651,1660.4 651.3,1658 651.5,1658.2 651.7,1654.9 652,1653.5 652.2,1656.1 652.4,1657 652.7,1656.5 652.9,1656 653.2,1654.5 653.4,1656.7 653.6,1653.9 653.9,1655.1 654.1,1652.3 654.3,1651.4 654.6,1650.4 654.8,1653.8 655.1,1655.8 655.3,1656.2 655.5,1653.2 655.8,1655.2 656,1655.4 656.2,1652.6 656.5,1653.6 656.7,1650 657,1647.3 657.2,1651.3 657.4,1650 657.7,1653.6 657.9,1649.9 658.2,1651.4 658.4,1652 658.6,1653.4 658.9,1646.2 659.1,1652.5 659.3,1651.5 659.6,1648.8 659.8,1648.1 660.1,1647.9 660.3,1648.1 660.5,1650 660.8,1646.5 661,1647.5 661.2,1650.7 661.5,1644.3 661.7,1648.2 662,1645.4 662.2,1650.3 662.4,1649.6 662.7,1648.2 662.9,1648.4 663.1,1644.7 663.4,1650.1 663.6,1646.3 663.9,1648.7 664.1,1645.4 664.3,1646 664.6,1647.5 664.8,1641.7 665,1646.4 665.3,1644 665.5,1649 665.8,1646.4 666,1646 666.2,1645.9 666.5,1646.9 666.7,1647.9 667,1652.6 667.2,1647.4 667.4,1648.1 667.7,1646.8 667.9,1644.5 668.1,1641.7 668.4,1645.3 668.6,1644.3 668.9,1645.2 669.1,1645 669.3,1645.4 669.6,1647.3 669.8,1647.5 670,1646.2 670.3,1643.3 670.5,1645.5 670.8,1643.9 671,1650 671.2,1646.9 671.5,1646.8 671.7,1646.6 671.9,1650.7 672.2,1651.8 672.4,1652.5 672.7,1649.1 672.9,1643.7 673.1,1648.2 673.4,1651.3 673.6,1648.3 673.8,1649.8 674.1,1649 674.3,1650.5 674.6,1652.4 674.8,1651 675,1648.8 675.3,1649.8 675.5,1648.2 675.8,1653 676,1649 676.2,1651.2 676.5,1651.2 676.7,1649.4 676.9,1652.4 677.2,1651.9 677.4,1651.5 677.7,1651.7 677.9,1651.7 678.1,1651.1 678.4,1652.9 678.6,1655.1 678.8,1649.9 679.1,1654.9 679.3,1654.5 679.6,1657 679.8,1660 680,1657.7 680.3,1656.5 680.5,1656 680.7,1657.3 681,1656.2 681.2,1656.2 681.5,1656.6 681.7,1658.8 681.9,1659.1 682.2,1660 682.4,1661.6 682.6,1657.8 682.9,1663 683.1,1661.3 683.4,1661.2 683.6,1665.8 683.8,1661.1 684.1,1663.5 684.3,1662.9 684.5,1664.3 684.8,1666.8 685,1664.2 685.3,1664.8 685.5,1663.7 685.7,1665.1 686,1669.1 686.2,1664.9 686.5,1665.9 686.7,1666.4 686.9,1667.4 687.2,1669.8 687.4,1668.2 687.6,1670.1 687.9,1665.4 688.1,1670.9 688.4,1672.7 688.6,1672 688.8,1669.7 689.1,1673.3 689.3,1676.7 689.5,1671.2 689.8,1673.4 690,1675.2 690.3,1673.8 690.5,1676.8 690.7,1677.6 691,1675 691.2,1677.7 691.4,1676.6 691.7,1677.9 691.9,1677.2 692.2,1678.7 692.4,1682.3 692.6,1678.9 692.9,1681.1 693.1,1679.7 693.3,1681.2 693.6,1679.9 693.8,1682.8 694.1,1685.7 694.3,1683.8 694.5,1683.2 694.8,1684.8 695,1685.5 695.3,1683.5 695.5,1686.1 695.7,1685 696,1686.7 696.2,1689.2 696.4,1689 696.7,1688.7 696.9,1688.4 697.2,1690.3 697.4,1691.5 697.6,1691.5 697.9,1691.4 698.1,1692.3 698.3,1692.4 698.6,1690.1 698.8,1692.4 699.1,1694.1 699.3,1693.7 699.5,1692.4 699.8,1693.9 700,1695.2 700.2,1697 700.5,1697.8 700.7,1696.8 701,1697 701.2,1699.1 701.4,1699.2 701.7,1698.3 701.9,1701 702.1,1700.9 702.4,1699.7 702.6,1699.5 702.9,1700.1 703.1,1699.9 703.3,1699.8 703.6,1700.9 703.8,1702.4 704.1,1700.5 704.3,1701.4 704.5,1702.5 704.8,1704.5 705,1703.8 705.2,1706.5 705.5,1705.3 705.7,1707.6 706,1706.1 706.2,1705.2 706.4,1706.5 706.7,1705.5 706.9,1707.2 707.1,1707.5 707.4,1708.2 707.6,1707.9 707.9,1708.7 708.1,1708.1 708.3,1708.1 708.6,1709.4 708.8,1711 709,1710 709.3,1709.7 709.5,1710.6 709.8,1711.2 710,1711 710.2,1711.1 710.5,1714.4 710.7,1711.5 710.9,1712.4 711.2,1712.9 711.4,1714 711.7,1713.7 711.9,1713.7 712.1,1715.5 712.4,1714.2 712.6,1715 712.9,1714.3 713.1,1715.1 713.3,1715.9 713.6,1716 713.8,1715.9 714,1716.5 714.3,1716.5 714.5,1717.5 714.8,1718.1 715,1717.9 715.2,1718.7 715.5,1718.5 715.7,1718 715.9,1719.5 716.2,1719.4 717.8,1719.6 719.5,1721.4 721.2,1722.4 722.8,1723.4 724.5,1724.2 726.2,1724.7 727.8,1725.1 729.5,1725.7 731.2,1726.2 732.8,1726.3 734.5,1726.5 736.2,1726.7 737.8,1726.9 739.5,1727 741.2,1727 742.8,1727.1 744.5,1727.2 746.1,1727.2 747.8,1727.2 749.5,1727.2 751.1,1727.1 752.8,1727.1 754.5,1727.1 756.1,1727 757.8,1726.9 759.5,1726.9 761.1,1726.7 762.8,1726.6 764.5,1726.5 766.1,1726.5 767.8,1726.3 769.5,1726.2 771.1,1726.2 772.8,1726.1 774.4,1726.1 776.1,1726 777.8,1725.8 779.4,1725.9 781.1,1725.8 782.8,1725.7 784.4,1725.7 786.1,1725.8 787.8,1725.8 789.4,1725.8 791.1,1725.8 792.8,1725.9 794.4,1725.9 796.1,1726.1 797.8,1726.2 799.4,1726.3 801.1,1726.3 802.7,1726.4 804.4,1726.6 806.1,1726.7 807.7,1726.7 809.4,1726.8 811.1,1726.9 812.7,1727 814.4,1727 816.1,1727 817.7,1727.1 819.4,1727.1 821.1,1727.2 822.7,1727.2 824.4,1727.2 826.1,1727.3 827.7,1727.3 829.4,1727.3 831,1727.4 832.7,1727.4 834.1,1727.4" stroke="#2d3492" stroke-width="2.5"/>
<polyline points="120.7,1640.2 122.4,1640.1 124,1640.1 125.7,1640.2 127.4,1640.1 129,1640.2 130.7,1640.2 132.4,1640.2 134,1640.2 135.7,1640.2 137.3,1640.1 139,1640.2 140.7,1640.2 142.3,1640.2 144,1640.2 145.7,1640.1 147.3,1640.1 149,1640.1 150.7,1640.2 152.3,1640.1 154,1640.2 155.7,1640.2 157.3,1640.1 159,1640.2 160.7,1640.2 162.3,1640.2 164,1640.2 165.6,1640.1 167.3,1640.2 169,1640.1 170.6,1640.2 172.3,1640.2 174,1640.2 175.6,1640.2 177.3,1640.2 179,1640.1 180.6,1640.2 182.3,1640.1 184,1639.4 185.6,1638.4 187.3,1637.1 189,1635.5 190.6,1633.8 191.8,1632.7 192,1632.3 192.3,1631.5 192.5,1630.9 192.8,1630.7 193,1630.6 193.2,1630 193.5,1630.1 193.7,1629.4 193.9,1628.5 194.2,1628.2 194.4,1627.7 194.7,1628.1 194.9,1627.4 195.1,1627.6 195.4,1626.2 195.6,1626.5 195.9,1626.5 196.1,1625.7 196.3,1624.8 196.6,1625.7 196.8,1624.8 197,1623 197.3,1623 197.5,1622.6 197.8,1623 198,1620.6 198.2,1620.4 198.5,1620.1 198.7,1620.6 198.9,1619.1 199.2,1618.2 199.4,1618.5 199.7,1617.9 199.9,1617.5 200.1,1616.2 200.4,1616.2 200.6,1615.7 200.8,1615.8 201.1,1615.4 201.3,1613 201.6,1611.9 201.8,1611.8 202,1610.7 202.3,1611.5 202.5,1610.5 202.7,1609.5 203,1609.3 203.2,1607.2 203.5,1608.9 203.7,1607.6 203.9,1606.8 204.2,1606.4 204.4,1604.4 204.7,1606 204.9,1602.8 205.1,1602.3 205.4,1602 205.6,1600.4 205.8,1598.9 206.1,1600 206.3,1598.8 206.6,1598.4 206.8,1597.5 207,1597.7 207.3,1597.2 207.5,1595.2 207.7,1595.5 208,1593.4 208.2,1592.8 208.5,1593.2 208.7,1591.7 208.9,1591.3 209.2,1590.7 209.4,1588.7 209.6,1589.1 209.9,1588.1 210.1,1589.6 210.4,1586.3 210.6,1587.7 210.8,1585.8 211.1,1583 211.3,1582 211.5,1583.7 211.8,1583.9 212,1581.4 212.3,1581.5 212.5,1580 212.7,1581.2 213,1577.7 213.2,1576.5 213.4,1579.3 213.7,1577.8 213.9,1577.1 214.2,1574.7 214.4,1577.3 214.6,1574 214.9,1573.9 215.1,1574 215.4,1571.5 215.6,1574.2 215.8,1572.9 216.1,1571.5 216.3,1569.1 216.5,1569.8 216.8,1569.9 217,1567.6 217.3,1568.3 217.5,1568 217.7,1567.1 218,1565.7 218.2,1562 218.4,1566.6 218.7,1564.3 218.9,1564.4 219.2,1564.1 219.4,1561.3 219.6,1561.9 219.9,1561.6 220.1,1562.8 220.3,1562.9 220.6,1561 220.8,1561.5 221.1,1561.5 221.3,1559.5 221.5,1561.8 221.8,1560.9 222,1558.5 222.2,1559.4 222.5,1558.2 222.7,1560.1 223,1557.7 223.2,1559.5 223.4,1556.4 223.7,1557.1 223.9,1557.4 224.2,1555.7 224.4,1557.3 224.6,1558.7 224.9,1555.5 225.1,1557.2 225.3,1555.9 225.6,1557.4 225.8,1556 226.1,1558.9 226.3,1559.5 226.5,1559.8 226.8,1556.8 227,1560.8 227.2,1560.6 227.5,1560.2 227.7,1558 228,1557.9 228.2,1559.9 228.4,1557.8 228.7,1558.7 228.9,1557.6 229.1,1558.3 229.4,1560.8 229.6,1559.9 229.9,1560.7 230.1,1560.1 230.3,1560.8 230.6,1561.4 230.8,1560.8 231,1562.1 231.3,1561.6 231.5,1562.9 231.8,1563.6 232,1562.6 232.2,1563 232.5,1563.1 232.7,1564.4 233,1566 233.2,1565.9 233.4,1566.5 233.7,1569.5 233.9,1569.2 234.1,1566.3 234.4,1568.9 234.6,1573.1 234.9,1570.2 235.1,1570.4 235.3,1572.8 235.6,1569 235.8,1571 236,1572.1 236.3,1573.9 236.5,1573.7 236.8,1574 237,1575.1 237.2,1577.1 237.5,1576.7 237.7,1577.5 237.9,1578 238.2,1580.2 238.4,1579.4 238.7,1580.4 238.9,1580.8 239.1,1581.5 239.4,1584.1 239.6,1582.2 239.8,1583.1 240.1,1586.1 240.3,1585.4 240.6,1586.9 240.8,1587.2 241,1586.4 241.3,1587.6 241.5,1586.9 241.8,1589.5 242,1591.5 242.2,1590.9 242.5,1594.2 242.7,1590.8 242.9,1593 243.2,1593.5 243.4,1594.5 243.7,1596.1 243.9,1596.1 244.1,1597.4 244.4,1597.9 244.6,1597.8 244.8,1599.9 245.1,1598.1 245.3,1601.1 245.6,1600.1 245.8,1602 246,1603.2 246.3,1602.5 246.5,1603.3 246.7,1604.3 247,1604.8 247.2,1605.9 247.5,1605.7 247.7,1607 247.9,1607.3 248.2,1607 248.4,1609.5 248.6,1609.5 248.9,1610.2 249.1,1610.8 249.4,1611.8 249.6,1611.6 249.8,1611.8 250.1,1612.6 250.3,1614.1 250.5,1613.1 250.8,1613.6 251,1614.6 251.3,1615.8 251.5,1616.2 251.7,1614.9 252,1615.5 252.2,1616.8 252.5,1618.1 252.7,1617.2 252.9,1618.4 253.2,1617.9 253.4,1619.7 253.6,1619.5 253.9,1620.3 254.1,1620.2 254.4,1621.4 254.6,1620.9 254.8,1622 255.1,1622.7 255.3,1622.3 255.5,1622.8 255.8,1624.5 256,1623.7 256.3,1624 256.5,1624.3 256.7,1623.6 257,1625.4 257.2,1625.4 257.4,1626.6 257.7,1626.7 257.9,1626.6 258.2,1626.6 258.4,1627 258.6,1626.8 258.9,1627.1 259.1,1627.2 259.3,1628 259.6,1628 259.8,1628.8 260.1,1628.6 260.3,1628.8 260.5,1629.5 260.8,1631 261,1630 261.3,1628.7 261.5,1630.2 261.7,1630.6 262,1630.5 262.2,1630.3 262.4,1630.8 262.7,1631.3 262.9,1631.9 263.2,1631.7 263.4,1632.3 263.6,1631.8 263.9,1631.4 264.1,1631.8 264.3,1632.7 266,1633.9 267.7,1634.5 269.3,1635 271,1635.6 272.7,1636.1 274.3,1636.5 276,1636.9 277.7,1637.2 279.3,1637.2 281,1637.6 282.7,1637.6 284.3,1638 286,1638.1 287.6,1638.2 289.3,1638.2 291,1638.3 292.6,1638.5 294.3,1638.6 296,1638.8 297.6,1638.8 299.3,1639 301,1639 302.6,1639.1 304.3,1639.1 306,1639 307.6,1639.3 309.3,1639.2 311,1639.2 312.6,1639.3 314.3,1639.2 316,1639.3 317.6,1639.2 319.3,1639.3 320.9,1639.2 322.6,1639.2 324.3,1639.1 325.9,1639.1 327.6,1639.1 329.3,1639 330.9,1638.9 332.6,1638.8 334.3,1638.7 335.9,1638.8 337.6,1638.6 339.3,1638.5 340.9,1638.7 342.6,1638.5 344.3,1638.4 345.9,1638.5 347.6,1638.4 349.2,1638.4 350.9,1638.4 352.6,1638.5 354.2,1638.5 355.9,1638.5 357.6,1638.6 359.2,1638.6 360.9,1638.7 362.6,1638.7 364.2,1638.8 365.9,1638.9 367.6,1639 369.2,1639 370.9,1639.2 372.6,1639.1 374.2,1639.2 375.9,1639.3 377.5,1639.4 379.2,1639.5 380.9,1639.5 382.5,1639.6 384.2,1639.6 385.9,1639.7 387.5,1639.8 389.2,1639.9 390.9,1639.9 392.5,1639.9 394.2,1639.9 395.9,1640 397.5,1640 399.2,1640 400.9,1640.1 402.5,1640.1 404.2,1640.1 405.8,1640.1 407.5,1640.1 409.2,1640.1 410.8,1640.1 412.5,1640.1 414.2,1640.1 415.8,1640.2 417.5,1640.1 419.2,1640.2 420.8,1640.2 422.5,1640.2 424.2,1640.1 425.8,1640.2 427.5,1640.1 429.2,1640.1 430.8,1640.2 432.5,1640.2 434.1,1640.2 435.8,1640.1 437.5,1640.1 439.1,1640.2 440.8,1640.1 442.5,1640.2 444.1,1640.2 445.8,1640.2 447.5,1640.2 449.1,1640.2 450.8,1640.2 452.5,1640.1 454.1,1640.2 455.8,1640.2 457.5,1640.2 459.1,1640.2 459.4,1640.2" stroke="#2e6e3e" stroke-width="2.0"/>
<polyline points="480,1640.8 481.7,1640.8 483.4,1640.8 485,1640.8 486.7,1640.8 488.3,1640.7 490,1640.8 491.7,1640.8 493.3,1640.7 495,1640.8 496.7,1640.8 498.3,1640.7 500,1640.8 501.7,1640.7 503.3,1640.8 505,1640.7 506.7,1640.8 508.3,1640.7 510,1640.7 511.7,1640.7 513.3,1640.7 515,1640.7 516.6,1640.7 518.3,1640.7 520,1640.7 521.6,1640.7 523.3,1640.7 525,1640.7 526.6,1640.7 528.3,1640.7 530,1640.7 531.6,1640.6 533.3,1640.6 535,1640.6 536.6,1640.6 538.3,1640.5 540,1640.4 541.6,1640.3 543.3,1640.2 544.9,1640 546.6,1639.7 548.3,1639.4 549.9,1639.2 551.6,1638.7 553.3,1638.3 554.9,1638 556.6,1637.5 558.3,1637.2 559.9,1636.8 561.6,1636.3 563.3,1636.1 564.9,1635.5 566.6,1635.2 568.3,1634.8 569.9,1633.7 571.6,1633.5 573.2,1633.2 574.4,1632.6 574.7,1632.3 574.9,1633 575.2,1631.9 575.4,1632.1 575.6,1632.6 575.9,1632.3 576.1,1631.4 576.3,1632.3 576.6,1630.7 576.8,1632 577.1,1631.3 577.3,1632.4 577.5,1631.2 577.8,1631.3 578,1630.7 578.2,1630.7 578.5,1630.9 578.7,1629.6 579,1630.1 579.2,1630.7 579.4,1630.1 579.7,1631.5 579.9,1630.3 580.1,1629.4 580.4,1630.1 580.6,1629.6 580.9,1630.1 581.1,1629.1 581.3,1629.3 581.6,1629.3 581.8,1628.7 582,1628.3 582.3,1628.5 582.5,1629.6 582.8,1628.5 583,1628.5 583.2,1629 583.5,1629.1 583.7,1628.4 584,1628.3 584.2,1628 584.4,1628.3 584.7,1627.7 584.9,1627.5 585.1,1627.7 585.4,1627.2 585.6,1627.6 585.9,1628 586.1,1627.1 586.3,1626.5 586.6,1625.5 586.8,1627.8 587,1626.9 587.3,1627 587.5,1626.3 587.8,1626.7 588,1626.1 588.2,1625.5 588.5,1626.3 588.7,1625.8 588.9,1624.8 589.2,1625.1 589.4,1626.3 589.7,1624.2 589.9,1625.6 590.1,1624.9 590.4,1625.2 590.6,1625.1 590.8,1625.1 591.1,1624.3 591.3,1624.9 591.6,1625.1 591.8,1624.6 592,1624.1 592.3,1625.1 592.5,1623.5 592.8,1624.2 593,1623.3 593.2,1622.8 593.5,1623.3 593.7,1623 593.9,1623.5 594.2,1623.5 594.4,1624 594.7,1623 594.9,1623.1 595.1,1624 595.4,1622.4 595.6,1621.5 595.8,1622.1 596.1,1621.5 596.3,1622.2 596.6,1622.5 596.8,1621.8 597,1621.9 597.3,1622.3 597.5,1620.9 597.7,1621.3 598,1621.7 598.2,1621.1 598.5,1621.2 598.7,1620.6 598.9,1619.9 599.2,1621.1 599.4,1621.3 599.6,1619.7 599.9,1619 600.1,1620.7 600.4,1620.7 600.6,1620.8 600.8,1620 601.1,1619.8 601.3,1619.9 601.6,1619.2 601.8,1620 602,1619.8 602.3,1620.1 602.5,1618.4 602.7,1618.5 603,1618.2 603.2,1619.4 603.5,1618 603.7,1618.5 603.9,1618.1 604.2,1618.1 604.4,1618.5 604.6,1618.3 604.9,1619.1 605.1,1618.3 605.4,1618 605.6,1618.5 605.8,1617.6 606.1,1616.7 606.3,1617.7 606.5,1617.9 606.8,1617.7 607,1616.9 607.3,1615.8 607.5,1616.7 607.7,1616.6 608,1617.3 608.2,1616.2 608.4,1615.9 608.7,1616.4 608.9,1616 609.2,1616.3 609.4,1615.3 609.6,1614.7 609.9,1615.2 610.1,1615 610.3,1615.2 610.6,1615.5 610.8,1615.5 611.1,1615.1 611.3,1614.6 611.5,1614.6 611.8,1613.7 612,1613.8 612.3,1613.1 612.5,1613.5 612.7,1614 613,1613.6 613.2,1614.7 613.4,1612.3 613.7,1613.7 613.9,1613.4 614.2,1611.7 614.4,1613.6 614.6,1613.1 614.9,1612.6 615.1,1612.8 615.3,1612.1 615.6,1611.9 615.8,1611.5 616.1,1611.8 616.3,1611.1 616.5,1611.7 616.8,1610.8 617,1610.3 617.2,1612.2 617.5,1610.9 617.7,1610.5 618,1611.8 618.2,1612.5 618.4,1609.9 618.7,1610.4 618.9,1609.2 619.1,1609.6 619.4,1609.4 619.6,1609.5 619.9,1608.9 620.1,1609.5 620.3,1609 620.6,1607.9 620.8,1608.5 621.1,1607.7 621.3,1607.9 621.5,1607.9 621.8,1608.2 622,1606.6 622.2,1607.7 622.5,1606.6 622.7,1607.9 623,1606.2 623.2,1605.9 623.4,1606.5 623.7,1607.1 623.9,1605.7 624.1,1605.3 624.4,1605.5 624.6,1605.4 624.9,1603.9 625.1,1604.5 625.3,1604.5 625.6,1603.3 625.8,1603.8 626,1604.1 626.3,1602.5 626.5,1603.3 626.8,1602 627,1603.1 627.2,1602 627.5,1601 627.7,1601.4 627.9,1601.1 628.2,1600.9 628.4,1600.3 628.7,1600.7 628.9,1600.1 629.1,1600.4 629.4,1598.3 629.6,1600.4 629.9,1598.7 630.1,1600 630.3,1598.4 630.6,1597.4 630.8,1599.2 631,1596.4 631.3,1598.6 631.5,1598.1 631.8,1596.8 632,1597.8 632.2,1595.6 632.5,1595.8 632.7,1598.4 632.9,1596.9 633.2,1596 633.4,1594.6 633.7,1595.7 633.9,1595.1 634.1,1593.5 634.4,1594.7 634.6,1593.2 634.8,1594.4 635.1,1591.9 635.3,1591.1 635.6,1593.3 635.8,1594.1 636,1593.2 636.3,1590.2 636.5,1591.4 636.7,1589.5 637,1591.5 637.2,1590.8 637.5,1589.6 637.7,1588.1 637.9,1589.1 638.2,1589.6 638.4,1587.9 638.7,1587.7 638.9,1587 639.1,1587.3 639.4,1587.4 639.6,1586.4 639.8,1588.7 640.1,1585.5 640.3,1584.1 640.6,1584.5 640.8,1585.7 641,1586 641.3,1582.6 641.5,1584.2 641.7,1583.5 642,1582.7 642.2,1583.2 642.5,1582.2 642.7,1580.2 642.9,1582.1 643.2,1579 643.4,1580.4 643.6,1580.1 643.9,1579 644.1,1578.7 644.4,1578.2 644.6,1578.4 644.8,1579.3 645.1,1576.4 645.3,1578.1 645.5,1578.5 645.8,1576.1 646,1576.1 646.3,1576.5 646.5,1576 646.7,1575.1 647,1573.1 647.2,1575.1 647.4,1576.2 647.7,1575 647.9,1573.4 648.2,1573.9 648.4,1574.1 648.6,1572.1 648.9,1571.7 649.1,1572.5 649.4,1571.6 649.6,1572.4 649.8,1572 650.1,1571.4 650.3,1572.3 650.5,1569.9 650.8,1570.1 651,1570.3 651.3,1569.2 651.5,1568.9 651.7,1569.7 652,1569.2 652.2,1569.2 652.4,1566.1 652.7,1569.7 652.9,1567.4 653.2,1565.9 653.4,1568.1 653.6,1567.7 653.9,1567.4 654.1,1568.3 654.3,1564.1 654.6,1565.7 654.8,1566.6 655.1,1565.7 655.3,1564.4 655.5,1564.8 655.8,1565.3 656,1563.2 656.2,1564.8 656.5,1563.9 656.7,1562.9 657,1563.9 657.2,1562.6 657.4,1563.4 657.7,1558.6 657.9,1562.6 658.2,1560.9 658.4,1562.8 658.6,1563 658.9,1561.4 659.1,1561.5 659.3,1561.3 659.6,1560.7 659.8,1559.3 660.1,1557.7 660.3,1557.4 660.5,1559.9 660.8,1557.3 661,1557.4 661.2,1560.5 661.5,1560.2 661.7,1559.5 662,1556.5 662.2,1559.4 662.4,1559.4 662.7,1557.1 662.9,1559.2 663.1,1559.1 663.4,1558 663.6,1558.6 663.9,1562.3 664.1,1560.6 664.3,1557.9 664.6,1560.9 664.8,1557.2 665,1559.1 665.3,1558.7 665.5,1558.7 665.8,1561.7 666,1560.3 666.2,1560.9 666.5,1559.2 666.7,1557.5 667,1560.2 667.2,1559.9 667.4,1562.9 667.7,1560.9 667.9,1560.9 668.1,1561 668.4,1560.2 668.6,1559.3 668.9,1561.5 669.1,1561.2 669.3,1564.1 669.6,1561.4 669.8,1562.5 670,1565.2 670.3,1562.6 670.5,1564.3 670.8,1562.3 671,1563.4 671.2,1564.2 671.5,1562.3 671.7,1565.2 671.9,1565.7 672.2,1565.6 672.4,1565.9 672.7,1567.5 672.9,1566 673.1,1566.6 673.4,1568.2 673.6,1569.9 673.8,1566.7 674.1,1567 674.3,1567.9 674.6,1568.2 674.8,1567.6 675,1569.9 675.3,1568.7 675.5,1571.3 675.8,1572.7 676,1572 676.2,1572.8 676.5,1572.3 676.7,1571.1 676.9,1573.3 677.2,1573 677.4,1572.2 677.7,1573.1 677.9,1575.6 678.1,1577 678.4,1574.1 678.6,1578.4 678.8,1579.7 679.1,1580.4 679.3,1577.2 679.6,1580.8 679.8,1579.9 680,1580.2 680.3,1579.1 680.5,1582.6 680.7,1581.5 681,1581.8 681.2,1581 681.5,1583.4 681.7,1583.3 681.9,1584.4 682.2,1583.5 682.4,1584.1 682.6,1586.1 682.9,1585.6 683.1,1588.2 683.4,1587.1 683.6,1588.6 683.8,1588.7 684.1,1587.7 684.3,1587.1 684.5,1589.6 684.8,1590.4 685,1591.1 685.3,1590.6 685.5,1592 685.7,1591.4 686,1591.4 686.2,1592.8 686.5,1594.2 686.7,1593.7 686.9,1595.5 687.2,1597 687.4,1594.8 687.6,1594.6 687.9,1595.7 688.1,1597.7 688.4,1600.9 688.6,1599.1 688.8,1598.3 689.1,1599.7 689.3,1598.7 689.5,1601.1 689.8,1600.4 690,1601.2 690.3,1601.6 690.5,1603.5 690.7,1602.9 691,1603 691.2,1604.1 691.4,1605.3 691.7,1605 691.9,1605.9 692.2,1605.3 692.4,1605.3 692.6,1606.2 692.9,1606.6 693.1,1607.5 693.3,1607.7 693.6,1609.7 693.8,1608.6 694.1,1608.4 694.3,1609.9 694.5,1609.4 694.8,1611.4 695,1610.7 695.3,1611.3 695.5,1611.2 695.7,1611.8 696,1610.8 696.2,1615 696.4,1614.1 696.7,1614 696.9,1613.8 697.2,1614.7 697.4,1615.1 697.6,1616 697.9,1616.3 698.1,1616.3 698.3,1615.1 698.6,1617 698.8,1615 699.1,1616.4 699.3,1617.7 699.5,1617.3 699.8,1617.5 700,1619.2 700.2,1619.8 700.5,1618.3 700.7,1620.1 701,1619.3 701.2,1619.7 701.4,1621.4 701.7,1620.4 701.9,1620.8 702.1,1620.7 702.4,1621.7 702.6,1621.8 702.9,1622.1 703.1,1622.8 703.3,1622 703.6,1622.7 703.8,1622.7 704.1,1623.6 704.3,1623.5 704.5,1624.9 704.8,1625 705,1624.4 705.2,1625.3 705.5,1625.7 705.7,1625.7 706,1626.9 706.2,1626.2 706.4,1626.3 706.7,1627 706.9,1627.7 707.1,1626.5 707.4,1627.4 707.6,1628.4 707.9,1628.4 708.1,1629.1 708.3,1629.4 708.6,1629.7 708.8,1629.4 709,1629.1 709.3,1629.1 709.5,1629.8 709.8,1629.4 710,1629.9 710.2,1630.9 710.5,1630.9 710.7,1630.6 710.9,1630.7 711.2,1630.7 711.4,1632 711.7,1632.4 711.9,1630.9 712.1,1632.1 712.4,1631.7 712.6,1632.3 712.9,1633.1 714.5,1633.1 716.2,1634.7 717.8,1635.6 719.5,1636.6 721.2,1637.5 722.8,1638.1 724.5,1638.7 726.2,1639.3 727.8,1639.7 729.5,1639.9 731.2,1640.2 732.8,1640.3 734.5,1640.4 736.2,1640.5 737.8,1640.6 739.5,1640.7 741.2,1640.7 742.8,1640.8 744.5,1640.8 746.1,1640.8 747.8,1640.8 749.5,1640.8 751.1,1640.7 752.8,1640.7 754.5,1640.6 756.1,1640.5 757.8,1640.4 759.5,1640.3 761.1,1640.1 762.8,1640.1 764.5,1639.9 766.1,1639.8 767.8,1639.7 769.5,1639.5 771.1,1639.4 772.8,1639.2 774.4,1639 776.1,1638.8 777.8,1638.7 779.4,1638.4 781.1,1638.4 782.8,1638.3 784.4,1638.2 786.1,1638.2 787.8,1638.3 789.4,1638.3 791.1,1638.4 792.8,1638.5 794.4,1638.6 796.1,1638.7 797.8,1639 799.4,1639.1 801.1,1639.4 802.7,1639.6 804.4,1639.7 806.1,1639.8 807.7,1639.9 809.4,1640 811.1,1640.2 812.7,1640.2 814.4,1640.3 816.1,1640.4 817.7,1640.4 819.4,1640.5 821.1,1640.5 822.7,1640.7 824.4,1640.7 826.1,1640.7 827.7,1640.7 829.4,1640.8 831,1640.8 832.7,1640.8 834.1,1640.9" stroke="#2e6e3e" stroke-width="2.0"/>
<polyline points="120.7,1553.9 122.4,1554 124,1554 125.7,1553.9 127.4,1554 129,1553.9 130.7,1553.8 132.4,1553.8 134,1553.9 135.7,1553.7 137.3,1553.7 139,1553.6 140.7,1553.5 142.3,1553.3 144,1553.4 145.7,1553.2 147.3,1553.2 149,1553 150.7,1553 152.3,1552.8 154,1552.8 155.7,1552.7 157.3,1552.5 159,1552.3 160.7,1552.3 162.3,1552.3 164,1552.2 165.6,1552.3 167.3,1552.2 169,1552.2 170.6,1552.3 172.3,1552.4 174,1552.4 175.6,1552.6 177.3,1552.7 179,1552.7 180.6,1553 182.3,1552.9 184,1553.1 185.6,1553.2 187.3,1553.4 189,1553.4 190.6,1552.7 192.3,1551.4 193.9,1549.8 195.6,1547.2 196.8,1546.1 197,1547.1 197.3,1546.1 197.5,1545.3 197.8,1544.4 198,1545.3 198.2,1544 198.5,1543.4 198.7,1543.4 198.9,1542.7 199.2,1540.5 199.4,1541.6 199.7,1539.7 199.9,1540.5 200.1,1540.7 200.4,1539.2 200.6,1539.4 200.8,1538.6 201.1,1539.8 201.3,1537.2 201.6,1537.4 201.8,1535.4 202,1535.6 202.3,1535.5 202.5,1535.4 202.7,1533.9 203,1533.6 203.2,1533.3 203.5,1530.3 203.7,1531.4 203.9,1529.8 204.2,1528.5 204.4,1528.8 204.7,1527.9 204.9,1527.3 205.1,1526.1 205.4,1525.7 205.6,1525.1 205.8,1524.7 206.1,1524.6 206.3,1523.8 206.6,1523.2 206.8,1521.5 207,1519.4 207.3,1521.2 207.5,1520 207.7,1519.6 208,1517.7 208.2,1515.6 208.5,1516.4 208.7,1514.7 208.9,1517.2 209.2,1513.6 209.4,1511.9 209.6,1512.5 209.9,1513 210.1,1509.3 210.4,1509.2 210.6,1505.7 210.8,1508.1 211.1,1506.6 211.3,1506 211.5,1504.5 211.8,1506.4 212,1500.8 212.3,1501 212.5,1501.4 212.7,1500.8 213,1498.5 213.2,1497.9 213.4,1498.2 213.7,1497 213.9,1495.3 214.2,1495.7 214.4,1494.7 214.6,1494 214.9,1493.1 215.1,1493.8 215.4,1492.4 215.6,1489.4 215.8,1487.8 216.1,1488.5 216.3,1494 216.5,1489.5 216.8,1485.4 217,1482.3 217.3,1482.4 217.5,1484.3 217.7,1483.9 218,1483.3 218.2,1478.5 218.4,1480.7 218.7,1482.3 218.9,1478.1 219.2,1477.7 219.4,1482.6 219.6,1479.4 219.9,1475.6 220.1,1475.2 220.3,1479 220.6,1476 220.8,1473.8 221.1,1474.4 221.3,1476.8 221.5,1474.6 221.8,1472.5 222,1472.5 222.2,1475.1 222.5,1467.9 222.7,1472 223,1475.3 223.2,1472.6 223.4,1477.5 223.7,1473 223.9,1471.4 224.2,1466.1 224.4,1470.6 224.6,1470.1 224.9,1469.2 225.1,1470.3 225.3,1472 225.6,1467.9 225.8,1469.6 226.1,1467.5 226.3,1468.7 226.5,1472.9 226.8,1472 227,1472 227.2,1472.1 227.5,1470.6 227.7,1472.1 228,1473.6 228.2,1469.2 228.4,1469.7 228.7,1472.7 228.9,1475.3 229.1,1474.8 229.4,1475.4 229.6,1476.1 229.9,1476.7 230.1,1474.7 230.3,1475 230.6,1475.2 230.8,1478.5 231,1476.5 231.3,1473.8 231.5,1477.8 231.8,1479.6 232,1474.2 232.2,1479.4 232.5,1481.9 232.7,1479.7 233,1483.3 233.2,1483.3 233.4,1481.5 233.7,1485.2 233.9,1487.5 234.1,1484.3 234.4,1484.8 234.6,1489.5 234.9,1488.4 235.1,1486.7 235.3,1489 235.6,1488.8 235.8,1491.2 236,1492.9 236.3,1493.6 236.5,1494 236.8,1494.1 237,1499.6 237.2,1499.1 237.5,1496.9 237.7,1496.7 237.9,1499.7 238.2,1499.5 238.4,1502 238.7,1503.3 238.9,1501.9 239.1,1503.1 239.4,1504.6 239.6,1506.6 239.8,1505.5 240.1,1506.6 240.3,1507.7 240.6,1508.4 240.8,1509.6 241,1509.3 241.3,1510.3 241.5,1509.4 241.8,1510.8 242,1513.5 242.2,1515.8 242.5,1514.3 242.7,1516.7 242.9,1515 243.2,1519.3 243.4,1518.9 243.7,1517.5 243.9,1520 244.1,1520 244.4,1520.8 244.6,1522.9 244.8,1522.2 245.1,1524.8 245.3,1524.9 245.6,1523.2 245.8,1526.2 246,1526.4 246.3,1528.5 246.5,1526.9 246.7,1529.7 247,1530.2 247.2,1530.7 247.5,1531.7 247.7,1532.7 247.9,1532.3 248.2,1533.1 248.4,1533.4 248.6,1534.7 248.9,1535.2 249.1,1535.3 249.4,1535.6 249.6,1536.9 249.8,1536.7 250.1,1537.4 250.3,1536.9 250.5,1537.8 250.8,1538.4 251,1538.5 251.3,1540.2 251.5,1539.2 251.7,1540.5 252,1541.4 252.2,1541.2 252.5,1542.6 252.7,1541.1 252.9,1542.5 253.2,1544.1 253.4,1544.2 253.6,1544.1 253.9,1544.5 254.1,1544.2 254.4,1544.3 254.6,1544.5 254.8,1545.2 255.1,1546.4 255.3,1545.4 257,1547.2 258.6,1549.7 260.3,1550.6 262,1551.5 263.6,1552.2 265.3,1552.5 267,1552.9 268.6,1553.1 270.3,1553.3 272,1553.4 273.6,1553.3 275.3,1553.3 276.9,1553.3 278.6,1553.3 280.3,1553.1 281.9,1553 283.6,1552.9 285.3,1552.8 286.9,1552.8 288.6,1552.7 290.3,1552.7 291.9,1552.6 293.6,1552.7 295.3,1552.7 296.9,1552.9 298.6,1552.8 300.3,1552.9 301.9,1553 303.6,1553.1 305.2,1553.2 306.9,1553.4 308.6,1553.4 310.2,1553.4 311.9,1553.7 313.6,1553.5 315.2,1553.7 316.9,1553.7 318.6,1553.8 320.2,1553.7 321.9,1553.7 323.6,1553.7 325.2,1553.6 326.9,1553.6 328.6,1553.5 330.2,1553.5 331.9,1553.4 333.5,1553.3 335.2,1553.1 336.9,1552.8 338.5,1552.8 340.2,1552.7 341.9,1552.4 343.5,1552.2 345.2,1551.8 346.9,1551.6 348.5,1551.4 350.2,1551.1 351.9,1550.7 353.5,1550.4 355.2,1550.3 356.9,1549.9 358.5,1549.7 360.2,1549.7 361.8,1549.4 363.5,1549.1 365.2,1549.4 366.8,1549.1 368.5,1549.3 370.2,1549.2 371.8,1549.3 373.5,1549.4 375.2,1549.6 376.8,1549.7 378.5,1549.7 380.2,1550 381.8,1550.4 383.5,1550.3 385.2,1550.5 386.8,1550.7 388.5,1551 390.2,1551.4 391.8,1551.4 393.5,1551.6 395.1,1551.8 396.8,1552.2 398.5,1552.3 400.1,1552.5 401.8,1552.7 403.5,1552.9 405.1,1553 406.8,1553.1 408.5,1553.2 410.1,1553.2 411.8,1553.4 413.5,1553.5 415.1,1553.5 416.8,1553.7 418.5,1553.6 420.1,1553.7 421.8,1553.8 423.4,1553.8 425.1,1553.8 426.8,1553.9 428.4,1553.9 430.1,1553.9 431.8,1553.9 433.4,1554 435.1,1554 436.8,1553.9 438.4,1554 440.1,1554 441.8,1554 443.4,1554 445.1,1554 446.8,1553.9 448.4,1554 450.1,1554 451.7,1554 453.4,1553.9 455.1,1554 456.7,1554 458.4,1553.9 459.4,1554" stroke="#5c3092" stroke-width="2.6"/>
<polyline points="480,1554.1 481.7,1554.1 483.4,1554.1 485,1554.1 486.7,1554.2 488.3,1554.1 490,1554 491.7,1554.2 493.3,1554.1 495,1554.1 496.7,1554.1 498.3,1554.2 500,1554.2 501.7,1554.1 503.3,1554.1 505,1554.2 506.7,1554.1 508.3,1554.1 510,1554.1 511.7,1554.2 513.3,1554.1 515,1554.1 516.6,1554.2 518.3,1554.2 520,1554.2 521.6,1554.1 523.3,1554.1 525,1554.1 526.6,1554.1 528.3,1554.1 530,1554.1 531.6,1554 533.3,1554.1 535,1554 536.6,1554 538.3,1553.9 540,1553.9 541.6,1553.7 543.3,1553.5 544.9,1553.2 546.6,1552.8 548.3,1552.3 549.9,1551.7 551.6,1550.6 553.3,1549.7 554.9,1548.4 556.6,1546.9 557.6,1547.2 557.8,1546 558,1546.4 558.3,1546.1 558.5,1545.4 558.7,1545 559,1544.8 559.2,1544.5 559.5,1544.6 559.7,1544.1 559.9,1543 560.2,1542.1 560.4,1542.5 560.6,1543.2 560.9,1542.5 561.1,1541.8 561.4,1541.5 561.6,1541 561.8,1540.7 562.1,1541 562.3,1541.2 562.5,1541.8 562.8,1539.6 563,1539.6 563.3,1540.4 563.5,1539.4 563.7,1539.4 564,1539.1 564.2,1537 564.5,1538.3 564.7,1535.8 564.9,1537.5 565.2,1537.6 565.4,1536.5 565.6,1534.3 565.9,1536 566.1,1535.1 566.4,1537.1 566.6,1534.3 566.8,1535.6 567.1,1534.1 567.3,1532.4 567.5,1533.5 567.8,1532.2 568,1532.6 568.3,1532.4 568.5,1531.4 568.7,1530.2 569,1530.7 569.2,1530.4 569.4,1530.9 569.7,1531.2 569.9,1529 570.2,1528.9 570.4,1528.1 570.6,1526.9 570.9,1526.6 571.1,1527.9 571.3,1526.3 571.6,1525.9 571.8,1526 572.1,1527.6 572.3,1525.7 572.5,1524.5 572.8,1523.1 573,1523.8 573.2,1524.5 573.5,1521 573.7,1522.1 574,1522.1 574.2,1520.5 574.4,1519.9 574.7,1520.3 574.9,1520.4 575.2,1519.9 575.4,1517.8 575.6,1518.4 575.9,1517.2 576.1,1519.6 576.3,1517.4 576.6,1516.8 576.8,1516.5 577.1,1517.8 577.3,1515.5 577.5,1512.4 577.8,1513.5 578,1514.1 578.2,1513.9 578.5,1514.3 578.7,1511.7 579,1512.6 579.2,1511.6 579.4,1509.4 579.7,1508.8 579.9,1508.8 580.1,1511.4 580.4,1509.4 580.6,1506.5 580.9,1509.3 581.1,1505.4 581.3,1506.8 581.6,1504.9 581.8,1506.4 582,1507 582.3,1506.3 582.5,1502.2 582.8,1504.4 583,1505.3 583.2,1501.7 583.5,1504.8 583.7,1502.3 584,1501.1 584.2,1500.7 584.4,1500 584.7,1500.3 584.9,1503.6 585.1,1498.9 585.4,1498.9 585.6,1498.7 585.9,1497.1 586.1,1496.2 586.3,1496.7 586.6,1494.2 586.8,1492.6 587,1495.3 587.3,1495.9 587.5,1497 587.8,1493.5 588,1497 588.2,1490.8 588.5,1491.5 588.7,1493.7 588.9,1491.2 589.2,1493.5 589.4,1493.5 589.7,1489.9 589.9,1492.6 590.1,1490 590.4,1490.3 590.6,1486.9 590.8,1488.7 591.1,1486.1 591.3,1487 591.6,1489.6 591.8,1490 592,1491.3 592.3,1487.1 592.5,1491.9 592.8,1488 593,1490.6 593.2,1487 593.5,1484.2 593.7,1486.8 593.9,1485.9 594.2,1485.5 594.4,1483.8 594.7,1486.8 594.9,1483.5 595.1,1483.6 595.4,1485.1 595.6,1484.8 595.8,1480.3 596.1,1481 596.3,1481.3 596.6,1483.5 596.8,1482.3 597,1483.9 597.3,1484.6 597.5,1481.9 597.7,1481.9 598,1483 598.2,1482.7 598.5,1479.4 598.7,1480.9 598.9,1482.9 599.2,1475.6 599.4,1482.9 599.6,1478.8 599.9,1481.1 600.1,1477.6 600.4,1478.6 600.6,1476.6 600.8,1478.6 601.1,1479.9 601.3,1475.3 601.6,1478.2 601.8,1478.4 602,1478.2 602.3,1479.2 602.5,1476.9 602.7,1474.2 603,1474.4 603.2,1476.8 603.5,1476 603.7,1475.7 603.9,1478.4 604.2,1474.1 604.4,1476.5 604.6,1480.6 604.9,1475.7 605.1,1478.7 605.4,1476.2 605.6,1475.5 605.8,1477.4 606.1,1476.2 606.3,1474.1 606.5,1479.6 606.8,1480.6 607,1477.1 607.3,1477.3 607.5,1472.7 607.7,1474.9 608,1475.9 608.2,1477.2 608.4,1480.9 608.7,1479.8 608.9,1477.8 609.2,1476.9 609.4,1478.2 609.6,1477.2 609.9,1476 610.1,1479 610.3,1478.5 610.6,1479.7 610.8,1475.4 611.1,1482 611.3,1476.8 611.5,1476.6 611.8,1482.3 612,1479.3 612.3,1476.3 612.5,1480.4 612.7,1479.8 613,1478.9 613.2,1476.3 613.4,1477.8 613.7,1480.5 613.9,1482 614.2,1482.4 614.4,1478.9 614.6,1483.9 614.9,1480.9 615.1,1478.8 615.3,1482.4 615.6,1480.8 615.8,1480.6 616.1,1479 616.3,1483.2 616.5,1480.6 616.8,1481 617,1480.8 617.2,1484.2 617.5,1480.3 617.7,1483.1 618,1481.8 618.2,1483.4 618.4,1478.2 618.7,1481.9 618.9,1478.1 619.1,1483.5 619.4,1483 619.6,1479.8 619.9,1483.5 620.1,1482.1 620.3,1480.9 620.6,1483.9 620.8,1484.7 621.1,1484 621.3,1481.8 621.5,1483 621.8,1481.6 622,1484.7 622.2,1485.2 622.5,1486.6 622.7,1485.2 623,1485.9 623.2,1485.1 623.4,1486.8 623.7,1486.5 623.9,1485.9 624.1,1483.7 624.4,1486.2 624.6,1486.8 624.9,1484 625.1,1483.5 625.3,1486.7 625.6,1486.7 625.8,1489.7 626,1489.4 626.3,1486.7 626.5,1484.2 626.8,1483.5 627,1485.5 627.2,1488 627.5,1486.3 627.7,1490 627.9,1487.5 628.2,1489.6 628.4,1487.6 628.7,1485.1 628.9,1483.9 629.1,1487.5 629.4,1487.3 629.6,1491 629.9,1489.3 630.1,1485.5 630.3,1486.2 630.6,1486.9 630.8,1487.6 631,1485.5 631.3,1489 631.5,1488.9 631.8,1483.6 632,1490.2 632.2,1487.9 632.5,1489.4 632.7,1486.1 632.9,1489.2 633.2,1489.4 633.4,1489.3 633.7,1487.3 633.9,1490.5 634.1,1491.4 634.4,1488.9 634.6,1489.3 634.8,1487.7 635.1,1489.2 635.3,1489.6 635.6,1487.9 635.8,1487.6 636,1486.5 636.3,1488.1 636.5,1491.4 636.7,1488.1 637,1487.9 637.2,1488 637.5,1486.7 637.7,1488.1 637.9,1485.4 638.2,1487.9 638.4,1484.6 638.7,1489.1 638.9,1491.2 639.1,1488.5 639.4,1481.4 639.6,1486.9 639.8,1486.5 640.1,1485.6 640.3,1486.7 640.6,1485.3 640.8,1485.3 641,1481.6 641.3,1483 641.5,1484.5 641.7,1483.5 642,1483.5 642.2,1486.5 642.5,1482.2 642.7,1485.3 642.9,1482.4 643.2,1483.4 643.4,1481.8 643.6,1480.6 643.9,1482 644.1,1483.9 644.4,1483.3 644.6,1481.5 644.8,1483.1 645.1,1482.9 645.3,1482.2 645.5,1482.5 645.8,1480.6 646,1482.2 646.3,1481 646.5,1482.4 646.7,1484.2 647,1479 647.2,1478.5 647.4,1481.2 647.7,1478.4 647.9,1479.2 648.2,1481.9 648.4,1477.1 648.6,1483.1 648.9,1479.1 649.1,1477.4 649.4,1480.8 649.6,1475.2 649.8,1479.4 650.1,1475.5 650.3,1478.2 650.5,1476.3 650.8,1477.6 651,1472.5 651.3,1476.3 651.5,1474.8 651.7,1475.3 652,1476.2 652.2,1476.9 652.4,1475.4 652.7,1474 652.9,1474 653.2,1474.6 653.4,1475.8 653.6,1473.9 653.9,1477.3 654.1,1475.1 654.3,1479.2 654.6,1476.2 654.8,1475 655.1,1477.5 655.3,1476.8 655.5,1472.4 655.8,1473.2 656,1471.9 656.2,1471.6 656.5,1472.6 656.7,1472.2 657,1473.2 657.2,1471.1 657.4,1476.9 657.7,1474 657.9,1471.5 658.2,1471.9 658.4,1473.5 658.6,1474.4 658.9,1472 659.1,1474.1 659.3,1476.2 659.6,1471.5 659.8,1474.8 660.1,1473.7 660.3,1477.6 660.5,1479.6 660.8,1473.5 661,1471.2 661.2,1479.5 661.5,1476 661.7,1474 662,1475 662.2,1475.5 662.4,1475.9 662.7,1478 662.9,1474.1 663.1,1474.6 663.4,1476.1 663.6,1481.8 663.9,1474.1 664.1,1477.9 664.3,1477 664.6,1474.6 664.8,1476.2 665,1479.3 665.3,1477.4 665.5,1478.7 665.8,1481.4 666,1480.3 666.2,1484.4 666.5,1484.4 666.7,1481.5 667,1479.6 667.2,1484.6 667.4,1480.9 667.7,1483.3 667.9,1480.7 668.1,1485.2 668.4,1479.5 668.6,1484.6 668.9,1486.4 669.1,1486 669.3,1490.3 669.6,1486.8 669.8,1488.5 670,1487.6 670.3,1489.6 670.5,1494.3 670.8,1494.6 671,1491.7 671.2,1493.3 671.5,1490.1 671.7,1494 671.9,1491.9 672.2,1493.5 672.4,1491.2 672.7,1494.1 672.9,1494.5 673.1,1497 673.4,1495.3 673.6,1495.3 673.8,1497.1 674.1,1496.3 674.3,1499.7 674.6,1498.9 674.8,1498.4 675,1500.1 675.3,1498.2 675.5,1499.6 675.8,1502.1 676,1503.1 676.2,1502.2 676.5,1503.8 676.7,1503.8 676.9,1505.4 677.2,1503.1 677.4,1504.5 677.7,1504.9 677.9,1504.6 678.1,1509.6 678.4,1506.8 678.6,1507.7 678.8,1506.9 679.1,1507.6 679.3,1508.1 679.6,1507.5 679.8,1512.3 680,1511.7 680.3,1509.1 680.5,1509.3 680.7,1512.8 681,1510.7 681.2,1511.5 681.5,1514.9 681.7,1514.4 681.9,1513.7 682.2,1514.6 682.4,1512.7 682.6,1514.7 682.9,1514.8 683.1,1517.2 683.4,1518.3 683.6,1518 683.8,1515.9 684.1,1515.8 684.3,1519.4 684.5,1519 684.8,1522.2 685,1518.2 685.3,1521.5 685.5,1519.4 685.7,1519.3 686,1522.7 686.2,1522.5 686.5,1521.1 686.7,1520.7 686.9,1523.1 687.2,1524 687.4,1522.8 687.6,1522.1 687.9,1525 688.1,1525 688.4,1523.1 688.6,1524.5 688.8,1525.8 689.1,1525.2 689.3,1525 689.5,1524.6 689.8,1525.6 690,1526.2 690.3,1528.1 690.5,1526.1 690.7,1526.3 691,1526.8 691.2,1527.2 691.4,1527.3 691.7,1526.7 691.9,1528.2 692.2,1529.2 692.4,1527.3 692.6,1528.7 692.9,1528.8 693.1,1528.2 693.3,1529 693.6,1529 693.8,1530.2 694.1,1527.9 694.3,1530.6 694.5,1528.2 694.8,1530.8 695,1530.4 695.3,1530.2 695.5,1529.1 695.7,1529.8 696,1530.6 696.2,1531.4 696.4,1529.4 696.7,1530.4 696.9,1530.1 697.2,1530.8 697.4,1531.2 697.6,1530.2 697.9,1530.6 698.1,1529.9 698.3,1530.9 698.6,1532.5 698.8,1530.5 699.1,1531.3 699.3,1531.6 699.5,1534.4 699.8,1532.4 700,1531.5 700.2,1532.4 700.5,1531.6 700.7,1531.4 701,1532.1 701.2,1533 701.4,1531.8 701.7,1532 701.9,1532.6 702.1,1534.2 702.4,1533.7 702.6,1532 702.9,1533 703.1,1534.5 703.3,1533.2 703.6,1533.1 703.8,1532.6 704.1,1532.9 704.3,1533.1 704.5,1534.2 704.8,1535.1 705,1534.3 705.2,1532.7 705.5,1535.3 705.7,1533.3 706,1535.6 706.2,1535.5 706.4,1534.4 706.7,1535.3 706.9,1535 707.1,1535.9 707.4,1534.9 707.6,1534.4 707.9,1536.6 708.1,1535 708.3,1535.3 708.6,1535.1 708.8,1537.8 709,1535.3 709.3,1537.1 709.5,1536.5 709.8,1536.8 710,1537.5 710.2,1537.5 710.5,1537.5 710.7,1536.9 710.9,1536.6 711.2,1537.6 711.4,1536.9 711.7,1537.6 711.9,1536.9 712.1,1539.1 712.4,1538.1 712.6,1538.4 712.9,1538.4 713.1,1538.4 713.3,1538.2 713.6,1538.9 713.8,1538.8 714,1539.6 714.3,1539.6 714.5,1540.2 714.8,1539 715,1539.4 715.2,1539.2 715.5,1540.7 715.7,1540.7 715.9,1538.9 716.2,1540.1 716.4,1542.1 716.7,1540.7 716.9,1541.2 717.1,1541.9 717.4,1542 717.6,1542.6 717.8,1542.5 718.1,1542.9 718.3,1543.4 718.6,1543 718.8,1543.5 719,1542.6 719.3,1542.6 719.5,1543.6 719.7,1543.9 720,1543.4 720.2,1544.1 720.5,1542.8 720.7,1546.1 720.9,1546.1 721.2,1545.4 721.4,1544.6 721.6,1544.6 721.9,1545.5 722.1,1545.4 722.4,1545.8 722.6,1545.4 722.8,1544.6 723.1,1547.5 723.3,1544.8 723.6,1545.7 725.2,1547.5 726.9,1548.1 728.5,1548.9 730.2,1549.5 731.9,1550.1 733.5,1550.6 735.2,1551.2 736.9,1551.5 738.5,1551.9 740.2,1552.1 741.9,1552.3 743.5,1552.6 745.2,1552.7 746.9,1552.9 748.5,1553 750.2,1553.1 751.9,1553 753.5,1553 755.2,1552.8 756.8,1553 758.5,1552.8 760.2,1552.8 761.8,1552.7 763.5,1552.4 765.2,1552.3 766.8,1552 768.5,1551.8 770.2,1551.6 771.8,1551.2 773.5,1550.8 775.2,1550.4 776.8,1549.8 778.5,1549.6 780.2,1549.5 781.8,1548.7 783.5,1548.5 785.1,1548.2 786.8,1547.1 788.5,1548.4 790.1,1547.7 791.8,1548.1 793.5,1548.2 795.1,1548.4 796.8,1548.6 798.5,1548.7 800.1,1549.1 801.8,1549.5 803.5,1549.7 805.1,1550.4 806.8,1550.4 808.5,1550.7 810.1,1551 811.8,1551.2 813.4,1551.6 815.1,1551.8 816.8,1552.3 818.4,1552.5 820.1,1552.8 821.8,1553.2 823.4,1553.4 825.1,1553.6 826.8,1553.9 828.4,1553.9 830.1,1554.1 831.8,1554.2 833.4,1554.4 834.1,1554.3" stroke="#5c3092" stroke-width="2.6"/>
<polyline points="120.7,1468.3 122.4,1468.2 124,1468.2 125.7,1468.1 127.4,1468.1 129,1468.1 130.7,1467.9 132.4,1467.9 134,1467.8 135.7,1467.6 137.3,1467.4 139,1467.2 140.7,1467.1 142.3,1466.9 144,1466.6 145.7,1466.2 147.3,1466.1 149,1465.6 150.7,1465.4 152.3,1465.3 154,1464.6 155.7,1464.1 157.3,1463.8 159,1463.4 160.7,1463.1 162.3,1463.1 164,1462.9 165.6,1462.5 167.3,1462.2 169,1462.1 170.6,1462.3 172.3,1461.4 174,1461 175.6,1462.3 177.3,1462.5 179,1462.7 180.6,1463.2 182.3,1463.9 184,1463.9 185.6,1464.6 187.3,1464.4 189,1464.1 190.6,1463 192.3,1462.4 193.7,1459.8 193.9,1459.7 194.2,1459.5 194.4,1458.9 194.7,1459.2 194.9,1458.4 195.1,1459.7 195.4,1457.3 195.6,1457.5 195.9,1455.3 196.1,1456.5 196.3,1457.8 196.6,1454.7 196.8,1455.8 197,1455.6 197.3,1454.4 197.5,1452.9 197.8,1451.9 198,1453.1 198.2,1452.1 198.5,1451.5 198.7,1451.7 198.9,1451 199.2,1450.1 199.4,1449.4 199.7,1447.9 199.9,1449.7 200.1,1447.1 200.4,1446.5 200.6,1444.9 200.8,1445.8 201.1,1445.1 201.3,1443.9 201.6,1443.8 201.8,1443.1 202,1442.5 202.3,1441.7 202.5,1441.3 202.7,1440.1 203,1439.5 203.2,1438.6 203.5,1438.4 203.7,1435.2 203.9,1435 204.2,1434.5 204.4,1434.8 204.7,1432 204.9,1432.1 205.1,1431.1 205.4,1430 205.6,1429.3 205.8,1427 206.1,1428.3 206.3,1427.2 206.6,1425.2 206.8,1424.8 207,1422.8 207.3,1421.4 207.5,1419.8 207.7,1419.4 208,1420.1 208.2,1419 208.5,1418.3 208.7,1415.2 208.9,1416.2 209.2,1416.2 209.4,1415.5 209.6,1411.9 209.9,1413.4 210.1,1415.2 210.4,1409 210.6,1408.7 210.8,1407.1 211.1,1405.8 211.3,1405.6 211.5,1404.9 211.8,1404.5 212,1405.1 212.3,1406.5 212.5,1405.4 212.7,1400.5 213,1398.9 213.2,1399.4 213.4,1400 213.7,1396.7 213.9,1397.1 214.2,1396.3 214.4,1396.3 214.6,1397 214.9,1396 215.1,1392.7 215.4,1389.7 215.6,1388.8 215.8,1391.9 216.1,1390 216.3,1390.5 216.5,1389.5 216.8,1388.4 217,1386.9 217.3,1390.5 217.5,1384.3 217.7,1387.6 218,1388.9 218.2,1381.9 218.4,1388 218.7,1386 218.9,1387.1 219.2,1382.9 219.4,1390.6 219.6,1384.2 219.9,1388 220.1,1381.3 220.3,1380.1 220.6,1382.5 220.8,1385.9 221.1,1381.8 221.3,1379.7 221.5,1383.7 221.8,1385.1 222,1381.3 222.2,1387.2 222.5,1385.2 222.7,1384.9 223,1384.8 223.2,1383 223.4,1385.8 223.7,1388 223.9,1389 224.2,1386.8 224.4,1385.9 224.6,1385.3 224.9,1386.5 225.1,1390.9 225.3,1387.5 225.6,1390.4 225.8,1387.1 226.1,1390.8 226.3,1391.4 226.5,1392.5 226.8,1390.2 227,1392.9 227.2,1388.2 227.5,1391.9 227.7,1397 228,1395.6 228.2,1394.4 228.4,1395.6 228.7,1396.7 228.9,1398.2 229.1,1402.2 229.4,1402.9 229.6,1399.8 229.9,1403.1 230.1,1402.9 230.3,1402.7 230.6,1407.8 230.8,1408.7 231,1405.6 231.3,1408.4 231.5,1408.9 231.8,1407.5 232,1410.7 232.2,1411.3 232.5,1411.7 232.7,1415.8 233,1411.5 233.2,1414.5 233.4,1416.8 233.7,1415.4 233.9,1419.3 234.1,1419.9 234.4,1421.6 234.6,1421.2 234.9,1422.9 235.1,1422.5 235.3,1424.7 235.6,1424.4 235.8,1425.1 236,1426.1 236.3,1427.1 236.5,1428.4 236.8,1430.4 237,1432.7 237.2,1430.8 237.5,1433.7 237.7,1432.6 237.9,1434 238.2,1434.8 238.4,1435.6 238.7,1435.9 238.9,1438.3 239.1,1437.8 239.4,1437.9 239.6,1439 239.8,1439.5 240.1,1441.6 240.3,1442.2 240.6,1441.1 240.8,1443.1 241,1444.1 241.3,1444.2 241.5,1446.5 241.8,1446.6 242,1446.7 242.2,1447.8 242.5,1447.2 242.7,1448.7 242.9,1449 243.2,1450.9 243.4,1450.9 243.7,1451.5 243.9,1451.6 244.1,1452.2 244.4,1453.1 244.6,1453.2 244.8,1452.6 245.1,1454.6 245.3,1455.6 245.6,1454.8 245.8,1455.1 246,1456.4 246.3,1456.3 246.5,1458.7 246.7,1457.5 247,1458.3 247.2,1457.2 247.5,1458.8 247.7,1458.2 247.9,1459.8 248.2,1460.2 249.8,1462.2 251.5,1463.9 253.2,1465 254.8,1465.8 256.5,1466.6 258.2,1466.9 259.8,1467.1 261.5,1467.3 263.2,1467.4 264.8,1467.4 266.5,1467.3 268.1,1467.3 269.8,1466.9 271.5,1466.8 273.1,1466.7 274.8,1466.5 276.5,1466.3 278.1,1466.1 279.8,1466.1 281.5,1466.1 283.1,1466 284.8,1465.8 286.5,1465.9 288.1,1465.9 289.8,1466 291.5,1466 293.1,1466.1 294.8,1466.2 296.4,1466.2 298.1,1466.3 299.8,1466.5 301.4,1466.4 303.1,1466.8 304.8,1466.9 306.4,1467.1 308.1,1467 309.8,1467.2 311.4,1467.3 313.1,1467.3 314.8,1467.5 316.4,1467.5 318.1,1467.6 319.8,1467.7 321.4,1467.7 323.1,1467.8 324.7,1467.8 326.4,1467.7 328.1,1467.8 329.7,1467.7 331.4,1467.8 333.1,1467.7 334.7,1467.6 336.4,1467.5 338.1,1467.3 339.7,1467.2 341.4,1467.1 343.1,1466.9 344.7,1466.7 346.4,1466.4 348.1,1466.4 349.7,1466 351.4,1465.7 353.1,1465.6 354.7,1465.5 356.4,1465.4 358,1465.1 359.7,1464.8 361.4,1464.8 363,1465 364.7,1465 366.4,1464.6 368,1464.4 369.7,1464.8 371.4,1464.8 373,1464.8 374.7,1464.8 376.4,1464.9 378,1465.2 379.7,1465.2 381.4,1465.4 383,1465.4 384.7,1465.6 386.3,1465.7 388,1466.1 389.7,1466.3 391.3,1466.4 393,1466.5 394.7,1466.7 396.3,1466.9 398,1467 399.7,1467.2 401.3,1467.2 403,1467.4 404.7,1467.5 406.3,1467.6 408,1467.7 409.7,1467.7 411.3,1467.8 413,1467.8 414.6,1467.9 416.3,1468 418,1468 419.6,1468.1 421.3,1468.1 423,1468.3 424.6,1468.2 426.3,1468.2 428,1468.2 429.6,1468.3 431.3,1468.2 433,1468.3 434.6,1468.3 436.3,1468.3 438,1468.2 439.6,1468.3 441.3,1468.3 442.9,1468.3 444.6,1468.3 446.3,1468.3 447.9,1468.3 449.6,1468.3 451.3,1468.3 452.9,1468.3 454.6,1468.2 456.3,1468.3 457.9,1468.2 459.4,1468.3" stroke="#e5942f" stroke-width="2.4"/>
<polyline points="480,1468.8 481.7,1468.9 483.4,1468.8 485,1468.9 486.7,1468.8 488.3,1468.8 490,1468.8 491.7,1468.8 493.3,1468.8 495,1468.8 496.7,1468.7 498.3,1468.8 500,1468.7 501.7,1468.7 503.3,1468.7 505,1468.7 506.7,1468.7 508.3,1468.6 510,1468.6 511.7,1468.6 513.3,1468.6 515,1468.6 516.6,1468.6 518.3,1468.6 520,1468.5 521.6,1468.5 523.3,1468.5 525,1468.5 526.6,1468.5 528.3,1468.5 530,1468.4 531.6,1468.4 533.3,1468.4 535,1468.3 536.6,1468.2 538.3,1468.1 540,1467.9 541.6,1467.6 543.3,1467.1 544.9,1466.6 546.6,1465.6 548.3,1464.7 549.9,1463.5 551.6,1462.2 553.3,1461.1 553.7,1459.9 554,1459.7 554.2,1458.9 554.5,1458.7 554.7,1458 554.9,1458.2 555.2,1459 555.4,1457.4 555.7,1458.4 555.9,1457.8 556.1,1456.9 556.4,1457.2 556.6,1456.6 556.8,1455.3 557.1,1456.1 557.3,1456 557.6,1455.9 557.8,1452.6 558,1454.6 558.3,1453.9 558.5,1453.6 558.7,1452.4 559,1453.3 559.2,1453.2 559.5,1452.4 559.7,1452.4 559.9,1452.5 560.2,1452.5 560.4,1450.6 560.6,1450.6 560.9,1448.8 561.1,1449.9 561.4,1449.4 561.6,1447.7 561.8,1449.7 562.1,1447.2 562.3,1448.2 562.5,1448.1 562.8,1446.3 563,1446.1 563.3,1446.8 563.5,1445.2 563.7,1443.6 564,1443.8 564.2,1444 564.5,1444.2 564.7,1443.3 564.9,1442.3 565.2,1442.6 565.4,1441.5 565.6,1440.5 565.9,1442.4 566.1,1440.4 566.4,1439.6 566.6,1439.9 566.8,1439.8 567.1,1437.1 567.3,1438.3 567.5,1437.8 567.8,1437.8 568,1437.1 568.3,1436.6 568.5,1435.9 568.7,1437 569,1436.6 569.2,1435.1 569.4,1434.3 569.7,1434.1 569.9,1432.1 570.2,1432.5 570.4,1431.1 570.6,1431.2 570.9,1433.6 571.1,1429.9 571.3,1428.3 571.6,1429.3 571.8,1429 572.1,1429.9 572.3,1427.7 572.5,1428.7 572.8,1429.1 573,1426.2 573.2,1424.9 573.5,1425.8 573.7,1425.1 574,1425.3 574.2,1421.8 574.4,1422.9 574.7,1423.3 574.9,1422.7 575.2,1421.6 575.4,1419.8 575.6,1421.5 575.9,1421.5 576.1,1419.4 576.3,1419.5 576.6,1420.8 576.8,1418.5 577.1,1418.2 577.3,1417.9 577.5,1416.6 577.8,1416 578,1413.4 578.2,1414.4 578.5,1413.7 578.7,1415.1 579,1413.9 579.2,1414.5 579.4,1414.1 579.7,1411.3 579.9,1408.8 580.1,1410.6 580.4,1410.6 580.6,1410 580.9,1409.1 581.1,1410 581.3,1409.6 581.6,1408.1 581.8,1406.1 582,1408.1 582.3,1410.5 582.5,1406.2 582.8,1406.7 583,1407.9 583.2,1407.6 583.5,1411.1 583.7,1406.8 584,1405.5 584.2,1403.9 584.4,1404.5 584.7,1405.7 584.9,1404.4 585.1,1403.3 585.4,1402 585.6,1402.2 585.9,1400.9 586.1,1405.3 586.3,1401.4 586.6,1400.9 586.8,1402.8 587,1400.5 587.3,1401.5 587.5,1402.4 587.8,1402.3 588,1398.8 588.2,1398.4 588.5,1397.3 588.7,1397.6 588.9,1397.8 589.2,1400.4 589.4,1398.6 589.7,1398.5 589.9,1394.2 590.1,1399.1 590.4,1399.6 590.6,1398.9 590.8,1395.1 591.1,1397.9 591.3,1395.2 591.6,1397.2 591.8,1394.2 592,1398.7 592.3,1396.6 592.5,1394.5 592.8,1395.8 593,1396.8 593.2,1392.4 593.5,1397.4 593.7,1396.3 593.9,1392.4 594.2,1391.2 594.4,1394.2 594.7,1396.4 594.9,1396.3 595.1,1395.3 595.4,1393.7 595.6,1390.9 595.8,1391.6 596.1,1391.3 596.3,1393.9 596.6,1391.5 596.8,1391.3 597,1391.1 597.3,1392.6 597.5,1393.2 597.7,1390.3 598,1389.3 598.2,1392.6 598.5,1391.5 598.7,1390 598.9,1389.1 599.2,1388.7 599.4,1391.9 599.6,1389.6 599.9,1394.3 600.1,1396.2 600.4,1392.9 600.6,1391.4 600.8,1395 601.1,1392.5 601.3,1392 601.6,1392.5 601.8,1392.1 602,1390.6 602.3,1393.4 602.5,1393.9 602.7,1392.2 603,1391.4 603.2,1394.4 603.5,1391.3 603.7,1392.7 603.9,1395 604.2,1394.7 604.4,1396.3 604.6,1393.9 604.9,1395.3 605.1,1392.1 605.4,1400.7 605.6,1398.6 605.8,1397.6 606.1,1396.1 606.3,1398 606.5,1399 606.8,1397.3 607,1399.2 607.3,1398.4 607.5,1397.6 607.7,1397.9 608,1402.7 608.2,1401.7 608.4,1400 608.7,1401.5 608.9,1402.9 609.2,1401 609.4,1402.3 609.6,1402.1 609.9,1401.8 610.1,1404.4 610.3,1402.5 610.6,1404.3 610.8,1404.7 611.1,1403.9 611.3,1408.6 611.5,1409.1 611.8,1408.7 612,1406 612.3,1407.6 612.5,1409.1 612.7,1410.3 613,1411.8 613.2,1409.2 613.4,1410.1 613.7,1410 613.9,1409.6 614.2,1411 614.4,1409.9 614.6,1413 614.9,1410.6 615.1,1412.7 615.3,1414.5 615.6,1413.9 615.8,1411.5 616.1,1416.9 616.3,1416.4 616.5,1416.6 616.8,1416.2 617,1416.8 617.2,1414.7 617.5,1418 617.7,1417.3 618,1419.3 618.2,1420.6 618.4,1419.7 618.7,1420.2 618.9,1419.4 619.1,1419 619.4,1421.8 619.6,1420.2 619.9,1423.3 620.1,1420.1 620.3,1424.7 620.6,1423.9 620.8,1423.3 621.1,1424.5 621.3,1425.8 621.5,1423.9 621.8,1426.4 622,1424.4 622.2,1427.7 622.5,1425 622.7,1425.7 623,1426.4 623.2,1426.1 623.4,1428 623.7,1428.2 623.9,1427.1 624.1,1430 624.4,1429.4 624.6,1429.7 624.9,1430 625.1,1430.4 625.3,1433.2 625.6,1430.7 625.8,1430.7 626,1429.9 626.3,1430.7 626.5,1432.5 626.8,1432.4 627,1433.4 627.2,1433 627.5,1433.6 627.7,1431.9 627.9,1432.9 628.2,1432.9 628.4,1434.2 628.7,1434.2 628.9,1433.7 629.1,1435.3 629.4,1434.1 629.6,1433.9 629.9,1435.6 630.1,1435.1 630.3,1436.2 630.6,1433.7 630.8,1435.1 631,1434.6 631.3,1436.1 631.5,1436.9 631.8,1436.2 632,1434.8 632.2,1434.7 632.5,1435.7 632.7,1436.6 632.9,1436.3 633.2,1435.7 633.4,1437.9 633.7,1436.1 633.9,1437.9 634.1,1436.8 634.4,1436.4 634.6,1436.9 634.8,1437.2 635.1,1436 635.3,1437.8 635.6,1437.8 635.8,1438.4 636,1437.3 636.3,1436.7 636.5,1437.6 636.7,1439.4 637,1437.1 637.2,1436.9 637.5,1438.4 637.7,1437.7 637.9,1437.5 638.2,1438.3 638.4,1437.2 638.7,1437.3 638.9,1438.6 639.1,1440.1 639.4,1438.3 639.6,1435.9 639.8,1436 640.1,1437.5 640.3,1438.2 640.6,1435.6 640.8,1436.3 641,1435.7 641.3,1435 641.5,1436.4 641.7,1436.7 642,1437.5 642.2,1436.5 642.5,1437.6 642.7,1435.4 642.9,1436.7 643.2,1434.8 643.4,1436.7 643.6,1435.8 643.9,1437 644.1,1435.2 644.4,1436.9 644.6,1434.6 644.8,1435.3 645.1,1437.7 645.3,1437.1 645.5,1435.4 645.8,1435.6 646,1433.4 646.3,1436.3 646.5,1435.5 646.7,1435.2 647,1434.9 647.2,1433.2 647.4,1435.1 647.7,1436.6 647.9,1433.1 648.2,1434.3 648.4,1436.2 648.6,1435.3 648.9,1434.8 649.1,1434.3 649.4,1433.4 649.6,1434.5 649.8,1434.7 650.1,1435.1 650.3,1434.2 650.5,1433.8 650.8,1433.3 651,1436.1 651.3,1434.7 651.5,1433.1 651.7,1431.7 652,1432.5 652.2,1435.9 652.4,1435.5 652.7,1432.7 652.9,1433.2 653.2,1433.2 653.4,1431 653.6,1434.3 653.9,1431.8 654.1,1433 654.3,1433.8 654.6,1435.4 654.8,1434.4 655.1,1431.4 655.3,1433 655.5,1432.2 655.8,1432.5 656,1433.3 656.2,1432.3 656.5,1432.9 656.7,1433.5 657,1433.7 657.2,1434.2 657.4,1433.1 657.7,1433.7 657.9,1432.4 658.2,1434 658.4,1434.7 658.6,1435.9 658.9,1433.1 659.1,1431.3 659.3,1434.2 659.6,1436.6 659.8,1433.4 660.1,1435.2 660.3,1433.9 660.5,1434.4 660.8,1434.1 661,1434.9 661.2,1435.5 661.5,1434.2 661.7,1435.8 662,1434.4 662.2,1436.4 662.4,1435.8 662.7,1436.9 662.9,1435.3 663.1,1437.1 663.4,1437.5 663.6,1435.8 663.9,1436.6 664.1,1437.2 664.3,1438.4 664.6,1437.6 664.8,1437.3 665,1437.3 665.3,1438.9 665.5,1437.8 665.8,1440.4 666,1438.7 666.2,1439.9 666.5,1438.5 666.7,1439.9 667,1437.4 667.2,1439.7 667.4,1439.8 667.7,1442.5 667.9,1441.9 668.1,1439.9 668.4,1441.7 668.6,1440.3 668.9,1442.2 669.1,1441.3 669.3,1442.8 669.6,1441.9 669.8,1442 670,1442 670.3,1443.7 670.5,1444.5 670.8,1443.1 671,1443.6 671.2,1443.4 671.5,1445.4 671.7,1443.9 671.9,1444.9 672.2,1445.9 672.4,1445.6 672.7,1444.7 672.9,1445.5 673.1,1445.8 673.4,1446.1 673.6,1446.7 673.8,1445.5 674.1,1446.8 674.3,1448.2 674.6,1448.4 674.8,1447.9 675,1447.9 675.3,1447.2 675.5,1450.1 675.8,1447.6 676,1447.4 676.2,1448.9 676.5,1447.7 676.7,1449.5 676.9,1449.2 677.2,1449.7 677.4,1448.2 677.7,1448.7 677.9,1448.9 678.1,1450.9 678.4,1450 678.6,1451.2 678.8,1450.3 679.1,1450.1 679.3,1449.7 679.6,1451 679.8,1450.8 680,1451.2 680.3,1452.1 680.5,1450.1 680.7,1451.2 681,1450.5 681.2,1451.1 681.5,1452.8 681.7,1452.4 681.9,1451.5 682.2,1451.4 682.4,1451.6 682.6,1452.2 682.9,1451.6 683.1,1453 683.4,1452.5 683.6,1453.2 683.8,1451.7 684.1,1452.1 684.3,1451.9 684.5,1452.6 684.8,1454.3 685,1453 685.3,1452.2 685.5,1452.3 685.7,1451.6 686,1451.4 686.2,1452.6 686.5,1451.5 686.7,1453.3 686.9,1451.4 687.2,1453.5 687.4,1451.4 687.6,1453.4 687.9,1451.2 688.1,1450.2 688.4,1451.4 688.6,1450.6 688.8,1450.2 689.1,1453 689.3,1452.3 689.5,1450.6 689.8,1451.4 690,1450.7 690.3,1448 690.5,1448.5 690.7,1449.4 691,1450.3 691.2,1449.1 691.4,1449.1 691.7,1449.4 691.9,1447.7 692.2,1450.5 692.4,1447.5 692.6,1449 692.9,1447.4 693.1,1448.5 693.3,1448.7 693.6,1448.6 693.8,1447.7 694.1,1447.5 694.3,1445 694.5,1446.1 694.8,1447.4 695,1448.3 695.3,1447 695.5,1446.5 695.7,1448.3 696,1446.7 696.2,1445.4 696.4,1446.9 696.7,1447.8 696.9,1445.5 697.2,1444.7 697.4,1446.2 697.6,1445.7 697.9,1444.7 698.1,1445.2 698.3,1446.2 698.6,1445.7 698.8,1445.4 699.1,1445.2 699.3,1444.1 699.5,1446 699.8,1444.6 700,1445 700.2,1446.7 700.5,1444 700.7,1444.5 701,1445.7 701.2,1446.1 701.4,1443.5 701.7,1442.7 701.9,1444.2 702.1,1444.4 702.4,1443.5 702.6,1444.7 702.9,1444.5 703.1,1443.1 703.3,1445 703.6,1442.9 703.8,1443.6 704.1,1442.7 704.3,1445.6 704.5,1442.7 704.8,1444 705,1443.3 705.2,1444.7 705.5,1444.9 705.7,1442.9 706,1443.6 706.2,1443.5 706.4,1443.5 706.7,1443.6 706.9,1445.7 707.1,1444.6 707.4,1444.7 707.6,1442.6 707.9,1443.3 708.1,1445.4 708.3,1446.1 708.6,1444.1 708.8,1444.3 709,1443.7 709.3,1446.1 709.5,1443.7 709.8,1445.1 710,1444.3 710.2,1445.3 710.5,1446.1 710.7,1446.5 710.9,1444.7 711.2,1449 711.4,1445.3 711.7,1445.8 711.9,1447.1 712.1,1446 712.4,1446.9 712.6,1448.1 712.9,1447.4 713.1,1446.8 713.3,1447.4 713.6,1448.3 713.8,1447.2 714,1447.3 714.3,1447 714.5,1448 714.8,1447.1 715,1449.2 715.2,1449.1 715.5,1450.1 715.7,1449.1 715.9,1449.2 716.2,1449.4 716.4,1450.6 716.7,1448.9 716.9,1451.3 717.1,1450.9 717.4,1452.7 717.6,1449.6 717.8,1450 718.1,1450.9 718.3,1450.7 718.6,1452.1 718.8,1452.2 719,1452.3 719.3,1451.4 719.5,1452.2 719.7,1451.9 720,1453.1 720.2,1453.5 720.5,1452.3 720.7,1452.6 720.9,1452.6 721.2,1453.6 721.4,1453.1 721.6,1454.7 721.9,1454.5 722.1,1453.6 722.4,1454.7 722.6,1455.1 722.8,1455.1 723.1,1453.3 723.3,1455 723.6,1454.7 723.8,1455.2 724,1453.5 724.3,1455.4 724.5,1454.8 724.7,1455 725,1455.5 725.2,1456 725.5,1457.2 725.7,1455.9 725.9,1454.9 726.2,1456.2 726.4,1455.3 726.6,1456.4 726.9,1456.4 727.1,1457.5 727.4,1457.4 727.6,1457.1 727.8,1456.9 728.1,1458.4 728.3,1458.9 728.5,1458.1 728.8,1458.2 729,1458 729.3,1457.3 729.5,1458.9 729.7,1457.5 730,1458.5 730.2,1459 730.4,1460.2 730.7,1458.3 730.9,1458.2 731.2,1459.2 731.4,1459.3 731.6,1460 731.9,1461.1 732.1,1460.5 732.4,1461 734,1461.7 735.7,1462.1 737.3,1462.3 739,1462.6 740.7,1463 742.3,1463.6 744,1463.8 745.7,1464.3 747.3,1464.6 749,1464.7 750.7,1465 752.3,1465.1 754,1465.3 755.7,1465.5 757.3,1465.6 759,1465.5 760.7,1465.7 762.3,1465.8 764,1465.7 765.6,1465.7 767.3,1465.5 769,1465.4 770.6,1465.3 772.3,1464.9 774,1464.6 775.6,1464.4 777.3,1464.2 779,1463.8 780.6,1463.8 782.3,1463.4 784,1463.2 785.6,1463.1 787.3,1462.8 789,1463 790.6,1462.8 792.3,1462.9 793.9,1463 795.6,1463 797.3,1463 798.9,1463.2 800.6,1463.3 802.3,1463.7 803.9,1463.8 805.6,1464 807.3,1464.3 808.9,1464.5 810.6,1464.9 812.3,1465 813.9,1465.2 815.6,1465.4 817.3,1465.6 818.9,1466 820.6,1466.1 822.2,1466.6 823.9,1466.6 825.6,1467.1 827.2,1467.3 828.9,1467.5 830.6,1467.6 832.2,1467.8 833.9,1467.9 834.1,1467.8" stroke="#e5942f" stroke-width="2.4"/>
<polyline points="120.7,1381.2 122.4,1381.2 124,1380.9 125.7,1380.8 127.4,1380.6 129,1380.3 130.7,1380 132.4,1379.6 134,1379.3 135.7,1378.5 137.3,1378 139,1377.2 140.7,1376.4 142.3,1374.7 144,1374.2 144.7,1373.5 145,1374.2 145.2,1374.2 145.4,1373.2 145.7,1372.5 145.9,1372.9 146.1,1373.5 146.4,1371.8 146.6,1372.7 146.9,1371.9 147.1,1372.5 147.3,1372.2 147.6,1371.5 147.8,1372.8 148,1371.8 148.3,1371.3 148.5,1371.1 148.8,1371.5 149,1369.9 149.2,1370.4 149.5,1370.2 149.7,1370.9 150,1369.7 150.2,1369.1 150.4,1368.8 150.7,1368.7 150.9,1368.9 151.1,1368.7 151.4,1368.3 151.6,1367.8 151.9,1368.1 152.1,1367.9 152.3,1367.3 152.6,1367.5 152.8,1366.9 153,1366.8 153.3,1367.2 153.5,1365.6 153.8,1365.8 154,1366.5 154.2,1366.3 154.5,1365.8 154.7,1365.6 154.9,1365.6 155.2,1364.7 155.4,1364.8 155.7,1365 155.9,1363.3 156.1,1364.2 156.4,1363.5 156.6,1364.3 156.8,1363.9 157.1,1363.7 157.3,1362.3 157.6,1362.2 157.8,1362.5 158,1362.4 158.3,1361.8 158.5,1362.3 158.8,1361.7 159,1360.7 159.2,1361.7 159.5,1360.5 159.7,1360.8 159.9,1360.4 160.2,1360.4 160.4,1359.5 160.7,1359.3 160.9,1359.3 161.1,1360.6 161.4,1359.2 161.6,1358.3 161.8,1359.6 162.1,1359.8 162.3,1358.7 162.6,1357.8 162.8,1359.1 163,1357.8 163.3,1358 163.5,1357.7 163.7,1357.2 164,1357.5 164.2,1357.6 164.5,1356.9 164.7,1355.8 164.9,1356.3 165.2,1356.1 165.4,1357.1 165.6,1356.7 165.9,1357.2 166.1,1355.4 166.4,1355.3 166.6,1355.6 166.8,1355.2 167.1,1355.9 167.3,1355.8 167.6,1354.6 167.8,1355.6 168,1354.5 168.3,1354 168.5,1355.9 168.7,1355.6 169,1353.7 169.2,1354.2 169.5,1353.7 169.7,1353.5 169.9,1354.9 170.2,1353.2 170.4,1353.6 170.6,1353.8 170.9,1354.3 171.1,1354.8 171.4,1355 171.6,1355.5 171.8,1355.1 172.1,1355 172.3,1354.3 172.5,1355 172.8,1355.8 173,1354.4 173.3,1356.1 173.5,1355 173.7,1354.3 174,1356 174.2,1355.9 174.4,1355.2 174.7,1354.4 174.9,1355.6 175.2,1356 175.4,1355.7 175.6,1357.4 175.9,1357.4 176.1,1356.1 176.3,1356.3 176.6,1356.7 176.8,1357.3 177.1,1357.4 177.3,1359.2 177.5,1359 177.8,1358.9 178,1358.3 178.3,1359.1 178.5,1359.6 178.7,1360.7 179,1360.2 179.2,1360.4 179.4,1360.7 179.7,1361.5 179.9,1360.5 180.2,1362.9 180.4,1362 180.6,1363.7 180.9,1364.1 181.1,1363.3 181.3,1364.3 181.6,1364.9 181.8,1364.8 182.1,1363.8 182.3,1366 182.5,1366.2 182.8,1365.7 183,1367.1 183.2,1365.8 183.5,1368.2 183.7,1368 184,1367.7 184.2,1368.7 184.4,1369.2 184.7,1370 184.9,1369.7 185.1,1369.5 185.4,1370.4 185.6,1371.1 185.9,1370.2 186.1,1370.8 186.3,1371.2 186.6,1371.8 186.8,1372.4 187.1,1371.7 187.3,1372.5 187.5,1372.9 187.8,1373.1 188,1373 188.2,1373 188.5,1373.6 188.7,1373.9 189,1374.4 190.6,1374.8 192.3,1374.7 193.9,1373.7 194.2,1373.7 194.4,1373.7 194.7,1373.3 194.9,1372.7 195.1,1372.7 195.4,1372.5 195.6,1372.2 195.9,1371.9 196.1,1371.3 196.3,1370.8 196.6,1370.8 196.8,1370.4 197,1369.6 197.3,1369 197.5,1368.2 197.8,1369.1 198,1367.4 198.2,1367.6 198.5,1366.4 198.7,1365.7 198.9,1364.6 199.2,1365.3 199.4,1363.7 199.7,1365.1 199.9,1362.9 200.1,1363.6 200.4,1361.9 200.6,1361.5 200.8,1360.9 201.1,1359.2 201.3,1359.1 201.6,1358.3 201.8,1357.2 202,1356.1 202.3,1354.5 202.5,1354.2 202.7,1353.6 203,1353.3 203.2,1350.6 203.5,1349.8 203.7,1348.5 203.9,1348.5 204.2,1345.9 204.4,1345.4 204.7,1342.8 204.9,1344 205.1,1341.8 205.4,1340 205.6,1340.6 205.8,1339.2 206.1,1338.5 206.3,1337.2 206.6,1335 206.8,1334.4 207,1334.5 207.3,1329.7 207.5,1331.9 207.7,1328.7 208,1328.7 208.2,1326.9 208.5,1325.8 208.7,1324.4 208.9,1323.2 209.2,1321 209.4,1322.7 209.6,1322.4 209.9,1321.7 210.1,1321.1 210.4,1316.9 210.6,1318.7 210.8,1317.5 211.1,1314.1 211.3,1313.8 211.5,1312.4 211.8,1315.2 212,1312.4 212.3,1311.9 212.5,1308.9 212.7,1308.1 213,1306.7 213.2,1304.8 213.4,1300.9 213.7,1305.8 213.9,1303.4 214.2,1302.5 214.4,1303.4 214.6,1304.1 214.9,1300.9 215.1,1300.3 215.4,1300.4 215.6,1301.9 215.8,1303.8 216.1,1301.8 216.3,1298.1 216.5,1297.9 216.8,1301.1 217,1299 217.3,1297.4 217.5,1297.3 217.7,1300.7 218,1299.7 218.2,1299.6 218.4,1301.3 218.7,1297.2 218.9,1302.7 219.2,1299.7 219.4,1299.1 219.6,1300.3 219.9,1300.3 220.1,1305.2 220.3,1302.3 220.6,1302.4 220.8,1303 221.1,1305.9 221.3,1305 221.5,1306.5 221.8,1304.1 222,1307.7 222.2,1307.8 222.5,1308.7 222.7,1309.5 223,1307.8 223.2,1309.1 223.4,1311.5 223.7,1313.4 223.9,1314.5 224.2,1317.3 224.4,1315.8 224.6,1316.6 224.9,1318.2 225.1,1320.2 225.3,1318.7 225.6,1320.4 225.8,1322.2 226.1,1321.7 226.3,1324.4 226.5,1323.7 226.8,1327.2 227,1328 227.2,1329.9 227.5,1329.5 227.7,1332.1 228,1332.4 228.2,1333.8 228.4,1335.9 228.7,1334.1 228.9,1336.4 229.1,1338.8 229.4,1338.9 229.6,1340.5 229.9,1342.4 230.1,1341.5 230.3,1343.5 230.6,1344.8 230.8,1345.9 231,1346.9 231.3,1347.9 231.5,1349.3 231.8,1350.4 232,1351.5 232.2,1353.7 232.5,1353.6 232.7,1353.6 233,1354.3 233.2,1356.2 233.4,1357.8 233.7,1357.4 233.9,1359.5 234.1,1360.5 234.4,1361.5 234.6,1362.7 234.9,1361 235.1,1362.9 235.3,1365.4 235.6,1364.9 235.8,1366.1 236,1365.3 236.3,1366.8 236.5,1367.5 236.8,1367.4 237,1367.5 237.2,1369.3 237.5,1369.5 237.7,1370.5 237.9,1370.1 238.2,1370.9 238.4,1371.5 238.7,1372.4 238.9,1371.7 239.1,1373 239.4,1372.7 239.6,1373.1 241.3,1376.2 242.9,1377.8 244.6,1378.9 246.3,1379.8 247.9,1380.2 249.6,1380.3 251.3,1380.5 252.9,1380.3 254.6,1380 256.3,1379.6 257.9,1379.2 259.6,1378.7 261.3,1377.9 262.9,1377.2 264.6,1376.4 266.2,1375 267.9,1374.7 269.3,1374.1 269.6,1373 269.8,1373.4 270.1,1373.1 270.3,1372.9 270.5,1373.6 270.8,1373.7 271,1372.3 271.2,1373.9 271.5,1373.1 271.7,1372 272,1372.9 272.2,1372.2 272.4,1372.8 272.7,1371.2 272.9,1372.2 273.1,1371.7 273.4,1372.6 273.6,1371.6 273.9,1371.5 274.1,1371.9 274.3,1371.3 274.6,1371.6 274.8,1371.3 275,1371.6 275.3,1371.5 275.5,1371.8 275.8,1370.9 276,1371.2 276.2,1371.3 276.5,1370.1 276.7,1370.9 276.9,1370.9 277.2,1371.1 277.4,1370.2 277.7,1370.6 277.9,1371 278.1,1370.7 278.4,1370.2 278.6,1370.4 278.9,1369.9 279.1,1369.9 279.3,1369.3 279.6,1370.7 279.8,1370.4 280,1370.5 280.3,1370.5 280.5,1370.3 280.8,1370.5 281,1369.9 281.2,1371 281.5,1370.3 281.7,1370 281.9,1369.9 282.2,1370.4 282.4,1370.2 282.7,1370.3 282.9,1370.1 283.1,1370.5 283.4,1370 283.6,1369.7 283.8,1369.3 284.1,1370.6 284.3,1370 284.6,1370.3 284.8,1370.2 285,1370.6 285.3,1370.4 285.5,1370.2 285.7,1370.4 286,1370.7 286.2,1369.9 286.5,1370.4 286.7,1370.6 286.9,1370.5 287.2,1370.6 287.4,1370.9 287.6,1370.3 287.9,1370.7 288.1,1371.2 288.4,1370.1 288.6,1370.8 288.8,1371.3 289.1,1370.7 289.3,1371 289.6,1370.6 289.8,1371.3 290,1370.9 290.3,1371.5 290.5,1371.4 290.7,1370.7 291,1371.1 291.2,1370.1 291.5,1371.2 291.7,1370.8 291.9,1371.5 292.2,1370.2 292.4,1370.9 292.6,1371.7 292.9,1370.8 293.1,1371.2 293.4,1370 293.6,1370.5 293.8,1371.4 294.1,1370.7 294.3,1370.9 294.5,1371.3 294.8,1371.3 295,1371.3 295.3,1371.7 295.5,1371.1 295.7,1371.5 296,1371.3 296.2,1371.5 296.4,1371.7 296.7,1370.4 296.9,1371.3 297.2,1371.1 297.4,1370.1 297.6,1371.5 297.9,1371.9 298.1,1372.4 298.4,1372.3 298.6,1371.3 298.8,1372.3 299.1,1372.6 299.3,1371.7 299.5,1371.8 299.8,1371 300,1372.5 300.3,1371.3 300.5,1373 300.7,1371.3 301,1371.8 301.2,1372.4 301.4,1371.4 301.7,1371.9 301.9,1371.8 302.2,1372.1 302.4,1371.6 302.6,1371.9 302.9,1372.7 303.1,1372.7 303.3,1372.7 303.6,1371.9 303.8,1372.1 304.1,1372.2 304.3,1372.5 304.5,1372.7 304.8,1372.3 305,1372.1 305.2,1372.2 305.5,1371.8 305.7,1371.8 306,1372.8 306.2,1371.5 306.4,1372.1 306.7,1372.7 306.9,1372.7 307.2,1372.6 307.4,1373.1 307.6,1373.3 307.9,1373 308.1,1373.2 308.3,1374.4 308.6,1372.8 308.8,1374 309.1,1373 309.3,1373.4 309.5,1373.5 309.8,1372.9 310,1373.7 310.2,1373.8 310.5,1373.3 310.7,1373.4 311,1373.8 311.2,1373.9 311.4,1373.9 311.7,1373.5 311.9,1373.5 312.1,1373.3 312.4,1373.8 312.6,1374.2 312.9,1373.5 313.1,1372.7 313.3,1373.2 313.6,1374.4 313.8,1373.6 315.5,1374.3 317.1,1374.6 318.8,1374.9 320.5,1375.4 322.1,1375.9 323.8,1375.3 325.5,1375.8 327.1,1376 328.8,1376.1 330.5,1376.2 332.1,1376.4 333.8,1376.4 335.5,1376.5 337.1,1376.5 338.8,1376.5 340.4,1376.4 342.1,1376.5 343.8,1376.5 345.4,1376.4 347.1,1376.2 348.8,1376.3 350.4,1376.2 352.1,1376.3 353.8,1375.8 355.4,1375.8 357.1,1375.6 358.8,1376.3 360.4,1376.6 362.1,1375.5 363.8,1375.9 365.4,1375.5 367.1,1376 368.7,1375.7 370.4,1375.9 372.1,1376 373.7,1376 375.4,1376.3 377.1,1376.4 378.7,1376.4 380.4,1376.7 382.1,1376.8 383.7,1376.9 385.4,1377.2 387.1,1377.3 388.7,1377.4 390.4,1377.7 392.1,1378.1 393.7,1378.3 395.4,1378.4 397,1378.7 398.7,1378.9 400.4,1379 402,1379.2 403.7,1379.3 405.4,1379.4 407,1379.5 408.7,1379.8 410.4,1380 412,1380.1 413.7,1380.2 415.4,1380.4 417,1380.5 418.7,1380.7 420.4,1380.7 422,1380.8 423.7,1380.8 425.3,1380.9 427,1380.9 428.7,1381.1 430.3,1381.1 432,1381.3 433.7,1381.2 435.3,1381.3 437,1381.3 438.7,1381.4 440.3,1381.4 442,1381.4 443.7,1381.4 445.3,1381.5 447,1381.5 448.7,1381.5 450.3,1381.5 452,1381.5 453.6,1381.5 455.3,1381.5 457,1381.5 458.6,1381.6 459.4,1381.5" stroke="#cf0f8d" stroke-width="2.5"/>
<polyline points="480,1382.6 481.7,1382.5 483.4,1382.6 485,1382.5 486.7,1382.5 488.3,1382.5 490,1382.4 491.7,1382.4 493.3,1382.4 495,1382.4 496.7,1382.4 498.3,1382.3 500,1382.3 501.7,1382.3 503.3,1382.3 505,1382.2 506.7,1382.2 508.3,1382.1 510,1382.1 511.7,1382.1 513.3,1382.1 515,1382.1 516.6,1382.1 518.3,1382.1 520,1382.1 521.6,1382.1 523.3,1382.1 525,1382 526.6,1382 528.3,1382 530,1382 531.6,1381.9 533.3,1381.8 535,1381.7 536.6,1381.5 538.3,1381.4 540,1381.1 541.6,1380.5 543.3,1379.9 544.9,1378.8 546.6,1377.7 548.3,1376.3 549.9,1374.4 550.7,1373.9 550.9,1373.6 551.1,1373.9 551.4,1373.8 551.6,1372.7 551.8,1371.3 552.1,1372.4 552.3,1371.5 552.6,1371.4 552.8,1370.5 553,1370.8 553.3,1370 553.5,1369.4 553.7,1369.4 554,1368.8 554.2,1368.4 554.5,1367.6 554.7,1367.1 554.9,1366.6 555.2,1366.3 555.4,1366.7 555.7,1365.9 555.9,1364.9 556.1,1364.7 556.4,1363.7 556.6,1364.5 556.8,1363.8 557.1,1363.2 557.3,1362 557.6,1362.1 557.8,1361.8 558,1360.5 558.3,1360.4 558.5,1360.3 558.7,1358.8 559,1358.6 559.2,1357.7 559.5,1357.1 559.7,1357.3 559.9,1356.6 560.2,1355.9 560.4,1354.8 560.6,1354.7 560.9,1353.4 561.1,1354 561.4,1353 561.6,1351.5 561.8,1352.9 562.1,1352.2 562.3,1350.1 562.5,1349.5 562.8,1348.7 563,1348.2 563.3,1347.4 563.5,1348 563.7,1347 564,1346 564.2,1346.8 564.5,1346.2 564.7,1345.1 564.9,1343.1 565.2,1342.7 565.4,1343.8 565.6,1342.6 565.9,1341.9 566.1,1340.7 566.4,1340 566.6,1339.5 566.8,1339.8 567.1,1337.3 567.3,1336.7 567.5,1338 567.8,1336.6 568,1334.7 568.3,1334.8 568.5,1334.1 568.7,1334.3 569,1331.8 569.2,1333.7 569.4,1331.1 569.7,1329.6 569.9,1331.5 570.2,1328.8 570.4,1328.7 570.6,1329.6 570.9,1328.1 571.1,1326.2 571.3,1327.6 571.6,1327 571.8,1329 572.1,1327.1 572.3,1325.1 572.5,1324.3 572.8,1322.9 573,1322 573.2,1320.2 573.5,1321 573.7,1317.9 574,1319.8 574.2,1318.6 574.4,1320.6 574.7,1318.6 574.9,1317.4 575.2,1316.9 575.4,1318.1 575.6,1317.1 575.9,1318.1 576.1,1315.6 576.3,1316.8 576.6,1313.8 576.8,1314.3 577.1,1313.2 577.3,1312.9 577.5,1312.6 577.8,1311.7 578,1312.2 578.2,1313.9 578.5,1309.8 578.7,1311.9 579,1309.4 579.2,1309.5 579.4,1309.3 579.7,1309.2 579.9,1308.6 580.1,1308.3 580.4,1308.2 580.6,1308 580.9,1307.1 581.1,1306.3 581.3,1307.4 581.6,1306.2 581.8,1308 582,1307 582.3,1307.9 582.5,1305.6 582.8,1304.4 583,1303.7 583.2,1306.3 583.5,1303 583.7,1305.3 584,1304.2 584.2,1304.1 584.4,1300.9 584.7,1302.7 584.9,1299.7 585.1,1301.1 585.4,1302.6 585.6,1301.5 585.9,1300 586.1,1302.9 586.3,1302.2 586.6,1301.4 586.8,1301.7 587,1301.5 587.3,1298.6 587.5,1300.7 587.8,1301.2 588,1301.2 588.2,1302.5 588.5,1299.4 588.7,1301.4 588.9,1295.4 589.2,1299.8 589.4,1301.3 589.7,1302.2 589.9,1301.1 590.1,1299.9 590.4,1301.3 590.6,1299.6 590.8,1299.6 591.1,1299.9 591.3,1300 591.6,1300.9 591.8,1301.9 592,1302.9 592.3,1303.5 592.5,1302 592.8,1300.6 593,1301.7 593.2,1303.4 593.5,1300.8 593.7,1303.6 593.9,1304.1 594.2,1304.1 594.4,1303.9 594.7,1303.3 594.9,1305.1 595.1,1305.9 595.4,1303.3 595.6,1303.9 595.8,1303.9 596.1,1303.8 596.3,1305.1 596.6,1303 596.8,1306.1 597,1306.2 597.3,1304.7 597.5,1306.3 597.7,1307.4 598,1307.6 598.2,1309.6 598.5,1307.5 598.7,1309.1 598.9,1308.7 599.2,1308 599.4,1309.2 599.6,1310.3 599.9,1310.7 600.1,1311.5 600.4,1310 600.6,1315.1 600.8,1313.8 601.1,1314.7 601.3,1313.7 601.6,1315.1 601.8,1315.3 602,1313.6 602.3,1316.2 602.5,1316.1 602.7,1318.2 603,1319.1 603.2,1320.1 603.5,1317.9 603.7,1321.5 603.9,1321.4 604.2,1318.9 604.4,1321.7 604.6,1322.7 604.9,1323.7 605.1,1325.4 605.4,1324.4 605.6,1324.4 605.8,1327.1 606.1,1327.4 606.3,1325.8 606.5,1328.6 606.8,1328.2 607,1327.3 607.3,1331.3 607.5,1331.2 607.7,1332.7 608,1334.8 608.2,1332 608.4,1333.4 608.7,1335 608.9,1335 609.2,1336.7 609.4,1338.3 609.6,1338.2 609.9,1339.1 610.1,1340 610.3,1338.9 610.6,1341.3 610.8,1342.3 611.1,1341.9 611.3,1342.4 611.5,1342.1 611.8,1344 612,1346.1 612.3,1346.4 612.5,1345.7 612.7,1347.7 613,1347.5 613.2,1347.1 613.4,1350.4 613.7,1351.1 613.9,1350.8 614.2,1351.4 614.4,1351.4 614.6,1353.9 614.9,1353 615.1,1354.3 615.3,1355.9 615.6,1355.6 615.8,1355.7 616.1,1355.5 616.3,1357.7 616.5,1357.4 616.8,1359.3 617,1358.4 617.2,1359.6 617.5,1359.2 617.7,1361.6 618,1362 618.2,1362.8 618.4,1361.2 618.7,1363.1 618.9,1364.3 619.1,1364.2 619.4,1363.7 619.6,1364.3 619.9,1364.8 620.1,1366.2 620.3,1366 620.6,1367.4 620.8,1367.5 621.1,1366.7 621.3,1367 621.5,1367.9 621.8,1369.1 622,1368.9 622.2,1369 622.5,1368.3 622.7,1369.7 623,1370.4 623.2,1370.5 623.4,1370.6 623.7,1370.7 623.9,1370.9 624.1,1370 624.4,1371.5 624.6,1372.4 624.9,1371.2 625.1,1372.2 625.3,1372.4 625.6,1372.5 625.8,1372.3 626,1372.5 626.3,1372.5 626.5,1373.1 626.8,1373 627,1373.7 627.2,1373.8 627.5,1373.7 627.7,1373.7 627.9,1374.4 628.2,1374.2 628.4,1373.2 628.7,1373.3 628.9,1373.2 629.1,1373.4 629.4,1373.6 629.6,1373.2 629.9,1373.7 630.1,1374.1 630.3,1374.1 630.6,1373.8 630.8,1373.7 631,1373.9 631.3,1374 631.5,1373.8 631.8,1374 632,1372.6 632.2,1373.3 632.5,1374.3 632.7,1372.9 632.9,1373.6 633.2,1373.2 633.4,1372.9 633.7,1372.4 633.9,1372.7 634.1,1372.4 634.4,1372.4 634.6,1371.1 634.8,1372 635.1,1372.2 635.3,1372.3 635.6,1371.5 635.8,1371.5 636,1371 636.3,1370.7 636.5,1371.3 636.7,1370.5 637,1370.6 637.2,1370.4 637.5,1370.3 637.7,1369.8 637.9,1369.8 638.2,1369.6 638.4,1369.2 638.7,1369.5 638.9,1367.9 639.1,1368.1 639.4,1368.4 639.6,1367.8 639.8,1368.2 640.1,1367.4 640.3,1368.1 640.6,1367.1 640.8,1366.8 641,1366.8 641.3,1366 641.5,1366.6 641.7,1365.9 642,1365.4 642.2,1365.2 642.5,1365.3 642.7,1364.1 642.9,1364.4 643.2,1364.2 643.4,1364.8 643.6,1364.1 643.9,1364.2 644.1,1362.5 644.4,1363.3 644.6,1363.8 644.8,1362.6 645.1,1362.2 645.3,1363 645.5,1362.4 645.8,1360.8 646,1362.1 646.3,1361.7 646.5,1359.9 646.7,1361.6 647,1362.1 647.2,1361.8 647.4,1361 647.7,1360.4 647.9,1361.3 648.2,1361.9 648.4,1360.1 648.6,1360.5 648.9,1360.5 649.1,1360.6 649.4,1359.2 649.6,1359.9 649.8,1360.6 650.1,1360.3 650.3,1359.8 650.5,1360.3 650.8,1359.7 651,1358.5 651.3,1358.6 651.5,1358.4 651.7,1358.4 652,1358.8 652.2,1358.6 652.4,1360 652.7,1358.3 652.9,1358.4 653.2,1358.6 653.4,1358.6 653.6,1359.4 653.9,1359 654.1,1359.7 654.3,1359 654.6,1358.9 654.8,1359.2 655.1,1358 655.3,1359.4 655.5,1358.7 655.8,1358.8 656,1359.1 656.2,1358.7 656.5,1358.9 656.7,1359.5 657,1358.5 657.2,1359.6 657.4,1359.2 657.7,1360.4 657.9,1360.4 658.2,1359.8 658.4,1358.6 658.6,1361 658.9,1361.1 659.1,1361 659.3,1361 659.6,1360.8 659.8,1360.4 660.1,1361.3 660.3,1361 660.5,1361.5 660.8,1362 661,1362.2 661.2,1361.8 661.5,1362.1 661.7,1361.7 662,1362.5 662.2,1362.9 662.4,1363.7 662.7,1363.7 662.9,1363.2 663.1,1363.5 663.4,1362.9 663.6,1364.4 663.9,1363.9 664.1,1364.5 664.3,1365.9 664.6,1365.5 664.8,1365 665,1365.5 665.3,1365.9 665.5,1365.1 665.8,1366.1 666,1366 666.2,1365.9 666.5,1366.8 666.7,1366.4 667,1367.5 667.2,1367.8 667.4,1366.7 667.7,1366.8 667.9,1367.3 668.1,1368.3 668.4,1368.2 668.6,1368.7 668.9,1368.8 669.1,1368.5 669.3,1368.9 669.6,1368.2 669.8,1369.7 670,1369.4 670.3,1369.8 670.5,1370 670.8,1368.5 671,1368.8 671.2,1369.5 671.5,1369.5 671.7,1369.6 671.9,1369.9 672.2,1371.6 672.4,1371.2 672.7,1369.9 672.9,1371.5 673.1,1369.6 673.4,1369.9 673.6,1370.2 673.8,1370.2 674.1,1370 674.3,1370.7 674.6,1369.5 674.8,1370.5 675,1370.7 675.3,1369.3 675.5,1370.1 675.8,1369.9 676,1369.4 676.2,1368.8 676.5,1369.8 676.7,1369.6 676.9,1370.2 677.2,1369.3 677.4,1368.3 677.7,1369.4 677.9,1369.3 678.1,1369.5 678.4,1369 678.6,1368.8 678.8,1367.8 679.1,1367.4 679.3,1368.3 679.6,1366.7 679.8,1365.9 680,1365.9 680.3,1366.4 680.5,1365.2 680.7,1365.6 681,1365.5 681.2,1365.3 681.5,1365 681.7,1363.9 681.9,1362.9 682.2,1363.9 682.4,1363.7 682.6,1361.3 682.9,1362.1 683.1,1359.7 683.4,1360.3 683.6,1361 683.8,1359 684.1,1358.4 684.3,1359.7 684.5,1358.3 684.8,1356.6 685,1358.1 685.3,1356.2 685.5,1355.7 685.7,1354 686,1353.9 686.2,1354.5 686.5,1354.7 686.7,1353.4 686.9,1352.5 687.2,1352 687.4,1351.7 687.6,1351.5 687.9,1349.2 688.1,1349.9 688.4,1349.6 688.6,1348.2 688.8,1347.7 689.1,1347.2 689.3,1345.6 689.5,1346.9 689.8,1345.3 690,1344 690.3,1344.7 690.5,1343.6 690.7,1342.6 691,1342.2 691.2,1342.1 691.4,1342.7 691.7,1341.8 691.9,1340.5 692.2,1340.2 692.4,1339.7 692.6,1339.4 692.9,1340.1 693.1,1337.4 693.3,1338.5 693.6,1335.4 693.8,1333.8 694.1,1335.2 694.3,1335.1 694.5,1335.7 694.8,1335.6 695,1334.6 695.3,1332.8 695.5,1333.3 695.7,1334.6 696,1331.7 696.2,1332.7 696.4,1330.9 696.7,1331.4 696.9,1331.8 697.2,1331.1 697.4,1329.5 697.6,1330.6 697.9,1328.2 698.1,1330.1 698.3,1327.4 698.6,1330.1 698.8,1329.5 699.1,1327.4 699.3,1326.1 699.5,1327.8 699.8,1326.3 700,1328 700.2,1327.8 700.5,1326.4 700.7,1323.8 701,1326.3 701.2,1327.6 701.4,1328.4 701.7,1325.5 701.9,1324.5 702.1,1325.5 702.4,1324.7 702.6,1325.6 702.9,1323.2 703.1,1323.9 703.3,1325.9 703.6,1325 703.8,1322.7 704.1,1324.1 704.3,1326.7 704.5,1324.4 704.8,1324.5 705,1327 705.2,1323.3 705.5,1322.3 705.7,1324.5 706,1324.9 706.2,1324.2 706.4,1324.6 706.7,1324.2 706.9,1323.6 707.1,1326.1 707.4,1324.7 707.6,1322.3 707.9,1324.8 708.1,1324.6 708.3,1324.5 708.6,1326 708.8,1326.8 709,1322.8 709.3,1325.6 709.5,1327 709.8,1325 710,1326.7 710.2,1327.5 710.5,1327.3 710.7,1328.5 710.9,1328.3 711.2,1326.5 711.4,1327.6 711.7,1328.3 711.9,1326.8 712.1,1327.7 712.4,1329.2 712.6,1330.7 712.9,1329.9 713.1,1328.2 713.3,1330.9 713.6,1327.9 713.8,1330.7 714,1332.2 714.3,1331.5 714.5,1329.8 714.8,1332.3 715,1331.4 715.2,1331.4 715.5,1333 715.7,1331.7 715.9,1331.6 716.2,1332.5 716.4,1335.4 716.7,1333.6 716.9,1333.5 717.1,1333.6 717.4,1333 717.6,1334.8 717.8,1335.4 718.1,1337.7 718.3,1337.2 718.6,1335.2 718.8,1337.7 719,1337.1 719.3,1338.9 719.5,1337.8 719.7,1339 720,1337.7 720.2,1338.5 720.5,1338.4 720.7,1340.5 720.9,1339.5 721.2,1338.8 721.4,1342.9 721.6,1340.8 721.9,1340.6 722.1,1340.1 722.4,1340.6 722.6,1340.9 722.8,1341.4 723.1,1341.3 723.3,1342.4 723.6,1342.7 723.8,1343.9 724,1343.3 724.3,1343.6 724.5,1342.3 724.7,1345 725,1344 725.2,1344.8 725.5,1344.7 725.7,1344.1 725.9,1345.4 726.2,1346.4 726.4,1345.7 726.6,1345.3 726.9,1346.1 727.1,1346 727.4,1348 727.6,1346.3 727.8,1347.7 728.1,1348.6 728.3,1347.6 728.5,1349.3 728.8,1348.1 729,1347.3 729.3,1349.3 729.5,1349.8 729.7,1348.4 730,1349 730.2,1349.1 730.4,1351.5 730.7,1350.9 730.9,1349 731.2,1351.3 731.4,1351.2 731.6,1351 731.9,1351.2 732.1,1351.7 732.4,1353.8 732.6,1351.6 732.8,1353.1 733.1,1351.7 733.3,1351.7 733.5,1353.7 733.8,1353 734,1352 734.3,1352.2 734.5,1352.9 734.7,1354.2 735,1353.8 735.2,1354.9 735.4,1353.3 735.7,1354.4 735.9,1353.8 736.2,1356.8 736.4,1355.6 736.6,1355.8 736.9,1355.9 737.1,1356.6 737.3,1355.6 737.6,1356.7 737.8,1355 738.1,1356.7 738.3,1356.9 738.5,1357.3 738.8,1356.5 739,1356.9 739.2,1357.9 739.5,1359.5 739.7,1357.8 740,1358.3 740.2,1357.9 740.4,1358.7 740.7,1358 740.9,1359.1 741.2,1358.3 741.4,1358.8 741.6,1358.2 741.9,1359 742.1,1358.7 742.3,1359.4 742.6,1359.5 742.8,1360 743.1,1360.5 743.3,1359.7 743.5,1359.9 743.8,1359 744,1359.9 744.2,1359.1 744.5,1359.2 744.7,1360.4 745,1361.4 745.2,1361 745.4,1360.3 745.7,1361.1 745.9,1360.5 746.1,1361.6 746.4,1361.4 746.6,1361 746.9,1361.3 747.1,1361.6 747.3,1361.8 747.6,1361.7 747.8,1362.2 748,1361.7 748.3,1362.8 748.5,1360.7 748.8,1362.5 749,1363.3 749.2,1363.9 749.5,1363.6 749.7,1362.9 750,1363.5 750.2,1362.7 750.4,1363.7 750.7,1364.2 750.9,1363.9 751.1,1364.1 751.4,1364 751.6,1364.7 751.9,1364.2 752.1,1365.4 752.3,1364.3 752.6,1364.6 752.8,1364.7 753,1365.2 753.3,1364.8 753.5,1364.8 753.8,1366 754,1364.6 754.2,1365.3 754.5,1365.1 754.7,1364.6 754.9,1366.3 755.2,1366.2 755.4,1366.3 755.7,1365.8 755.9,1366.5 756.1,1366.5 756.4,1365.2 756.6,1366.4 756.8,1366.1 757.1,1365.9 757.3,1365.7 757.6,1367.4 757.8,1366.5 758,1366.4 758.3,1366.3 758.5,1367.4 758.7,1367.3 759,1367.1 759.2,1367.2 759.5,1367.5 759.7,1367.8 759.9,1367.6 760.2,1367.8 760.4,1367.6 760.7,1368.1 760.9,1368.4 761.1,1368.2 761.4,1368.1 761.6,1367.5 761.8,1368.4 762.1,1369.4 762.3,1367.1 762.6,1367.7 762.8,1368.1 763,1368.2 763.3,1368.6 763.5,1367.7 763.7,1369.4 764,1368.4 764.2,1368.4 764.5,1367.6 764.7,1369 764.9,1368.2 765.2,1368.9 765.4,1369.7 765.6,1369.8 765.9,1368.6 766.1,1370 766.4,1369.5 766.6,1368.6 766.8,1370 767.1,1369.3 767.3,1368.6 767.5,1368.9 767.8,1369.3 768,1370.2 768.3,1368.9 768.5,1369.6 768.7,1369.9 769,1370.6 769.2,1371.2 769.5,1369.9 769.7,1370.4 769.9,1371.1 770.2,1369.8 770.4,1370.2 770.6,1370.7 770.9,1370.6 771.1,1370.2 771.4,1370.3 771.6,1371 771.8,1370.2 772.1,1370.8 772.3,1371.2 772.5,1370.8 772.8,1370.8 773,1370.3 773.3,1370.5 773.5,1372 773.7,1371.6 774,1370.6 774.2,1370.9 774.4,1371.6 774.7,1371.4 774.9,1370.3 775.2,1372.4 775.4,1370.6 775.6,1370.7 775.9,1371.6 776.1,1371.4 776.3,1371.1 776.6,1371.3 776.8,1371.2 777.1,1370.8 777.3,1371.7 777.5,1371.4 777.8,1371.2 778,1371.7 778.3,1371.5 778.5,1370.8 778.7,1372.5 779,1371.4 779.2,1371.8 779.4,1372.1 779.7,1371.6 779.9,1371.4 780.2,1371.1 780.4,1371.9 780.6,1371.2 780.9,1370.8 781.1,1371.4 781.3,1371.2 781.6,1371.3 781.8,1371.2 782.1,1372 782.3,1370.9 782.5,1371.3 782.8,1370.6 783,1371.1 783.2,1371.9 783.5,1370.9 783.7,1370.8 784,1370.9 784.2,1371.6 784.4,1371.6 784.7,1370.7 784.9,1371.8 785.1,1370.9 785.4,1371.3 785.6,1371.7 785.9,1371.5 786.1,1371.6 786.3,1371 786.6,1371.6 786.8,1371.3 787.1,1371.3 787.3,1371 787.5,1370.7 787.8,1371.9 788,1370.9 788.2,1371.5 788.5,1371.2 788.7,1371.2 789,1370.3 789.2,1370.3 789.4,1371.2 789.7,1371.2 789.9,1370.3 790.1,1370.7 790.4,1370.1 790.6,1371.3 790.9,1370.4 791.1,1371.2 791.3,1372.4 791.6,1370.5 791.8,1371.4 792,1370.5 792.3,1371 792.5,1370.2 792.8,1371.5 793,1371.6 793.2,1370.1 793.5,1370.2 793.7,1370.7 793.9,1371.6 794.2,1370.3 794.4,1369.5 794.7,1370.9 794.9,1370.9 795.1,1371.1 795.4,1370.5 795.6,1370.7 795.8,1371.4 796.1,1371 796.3,1370.2 796.6,1371.2 796.8,1370.5 797,1370.1 797.3,1370.3 797.5,1371.5 797.8,1370.4 798,1371.2 798.2,1371.7 798.5,1370.5 798.7,1371.5 798.9,1370.8 799.2,1370.1 799.4,1370.4 799.7,1370.8 799.9,1370.2 800.1,1370.7 800.4,1370.4 800.6,1370.2 800.8,1371.3 801.1,1370 801.3,1370.9 801.6,1370.9 801.8,1370.8 802,1371.1 802.3,1371.2 802.5,1370.8 802.7,1371.4 803,1370.9 803.2,1370.8 803.5,1371.5 803.7,1371.4 803.9,1371.1 804.2,1371.4 804.4,1371.1 804.6,1371.5 804.9,1371.7 805.1,1371.7 805.4,1371.5 805.6,1371.2 805.8,1372.6 806.1,1372.1 806.3,1372.2 806.6,1372.4 806.8,1372.3 807,1371.6 807.3,1371.8 807.5,1372.6 807.7,1373.1 808,1372.3 808.2,1372.3 808.5,1373.2 808.7,1372.6 808.9,1372.6 809.2,1372.6 809.4,1373.2 809.6,1372.8 809.9,1373.2 810.1,1372.8 810.4,1373.1 810.6,1373.1 810.8,1373.4 811.1,1373.6 811.3,1373.5 811.5,1373.3 811.8,1373.9 812,1373.6 812.3,1372.8 812.5,1374.2 814.2,1375 815.8,1375.4 817.5,1375.6 819.2,1376 820.8,1376.8 822.5,1377.3 824.1,1377.5 825.8,1378.2 827.5,1378.5 829.1,1378.8 830.8,1379.5 832.5,1379.5 834.1,1379.8" stroke="#cf0f8d" stroke-width="2.5"/>
</g>
<g stroke="#151515" fill="none">
<rect x="121" y="1274.4" width="712.7" height="561.4" stroke-width="2.3"/>
<path d="M228.8 1274.4v7.8M228.8 1835.8v-7.8M336.9 1274.4v7.8M336.9 1835.8v-7.8M445 1274.4v7.8M445 1835.8v-7.8M553.1 1274.4v7.8M553.1 1835.8v-7.8M661.2 1274.4v7.8M661.2 1835.8v-7.8M769.3 1274.4v7.8M769.3 1835.8v-7.8M121 1813.6h7M833.7 1813.6h-7M121 1727.4h7M833.7 1727.4h-7M121 1641.2h7M833.7 1641.2h-7M121 1555h7M833.7 1555h-7M121 1468.8h7M833.7 1468.8h-7M121 1382.6h7M833.7 1382.6h-7M121 1296.4h7M833.7 1296.4h-7" stroke-width="2"/>
</g>
<text x="120.7" y="1872.6" font-size="32.5" fill="#0d0d0d" text-anchor="middle">–5</text>
<text x="228.8" y="1872.6" font-size="32.5" fill="#0d0d0d" text-anchor="middle">0</text>
<text x="336.9" y="1872.6" font-size="32.5" fill="#0d0d0d" text-anchor="middle">5</text>
<text x="445" y="1872.6" font-size="32.5" fill="#0d0d0d" text-anchor="middle">10</text>
<text x="553.1" y="1872.6" font-size="32.5" fill="#0d0d0d" text-anchor="middle">15</text>
<text x="661.2" y="1872.6" font-size="32.5" fill="#0d0d0d" text-anchor="middle">20</text>
<text x="769.3" y="1872.6" font-size="32.5" fill="#0d0d0d" text-anchor="middle">25</text>
<text x="106.4" y="1824.9" font-size="32.5" fill="#0d0d0d" text-anchor="end">0</text>
<text x="106.4" y="1738.7" font-size="32.5" fill="#0d0d0d" text-anchor="end">1</text>
<text x="106.4" y="1652.5" font-size="32.5" fill="#0d0d0d" text-anchor="end">2</text>
<text x="106.4" y="1566.3" font-size="32.5" fill="#0d0d0d" text-anchor="end">3</text>
<text x="106.4" y="1480.1" font-size="32.5" fill="#0d0d0d" text-anchor="end">4</text>
<text x="106.4" y="1393.9" font-size="32.5" fill="#0d0d0d" text-anchor="end">5</text>
<text x="106.4" y="1307.7" font-size="32.5" fill="#0d0d0d" text-anchor="end">6</text>
<text x="477.2" y="1919.6" font-size="32.5" fill="#0d0d0d" text-anchor="middle" textLength="137" lengthAdjust="spacingAndGlyphs">Time (ps)</text>
<text x="66.7" y="1554.9" font-size="32.5" fill="#0d0d0d" text-anchor="middle" transform="rotate(-90 66.7 1554.9)" textLength="298" lengthAdjust="spacingAndGlyphs">Normalized intensity</text>
<text x="938.4" y="1556.7" font-size="32.5" fill="#0d0d0d" text-anchor="middle" transform="rotate(-90 938.4 1556.7)" textLength="236" lengthAdjust="spacingAndGlyphs">Peak power (W)</text>
<text x="848" y="1353.3" font-size="32.5" fill="#cf0f8d" textLength="46.3" lengthAdjust="spacingAndGlyphs">5.9</text>
<text x="848" y="1443" font-size="32.5" fill="#e5942f" textLength="46.3" lengthAdjust="spacingAndGlyphs">4.6</text>
<text x="848" y="1524.9" font-size="32.5" fill="#5c3092" textLength="46.3" lengthAdjust="spacingAndGlyphs">3.7</text>
<text x="848" y="1614.7" font-size="32.5" fill="#2e6e3e" textLength="46.3" lengthAdjust="spacingAndGlyphs">2.7</text>
<text x="848" y="1699.1" font-size="32.5" fill="#2d3492" textLength="46.3" lengthAdjust="spacingAndGlyphs">1.8</text>
<text x="848" y="1783.4" font-size="32.5" fill="#d2232a" textLength="46.3" lengthAdjust="spacingAndGlyphs">0.5</text>
<text x="328.6" y="1353.6" font-size="28" fill="#0d0d0d" textLength="164" lengthAdjust="spacingAndGlyphs">Fission event</text>
<text x="328.6" y="1443.5" font-size="28" fill="#0d0d0d" textLength="174" lengthAdjust="spacingAndGlyphs">Temporal split</text>
<text x="293.5" y="1783" font-size="28" fill="#0d0d0d" textLength="279" lengthAdjust="spacingAndGlyphs">Dispersive broadening</text>
<path d="M580.3 1775.4H605" stroke="#111" stroke-width="2.3" fill="none"/>
<polygon points="613.5,1775.4 599.7,1768 603.4,1775.4 599.7,1782.8" fill="#111"/>
</g>
</svg>
</body>
</html>
